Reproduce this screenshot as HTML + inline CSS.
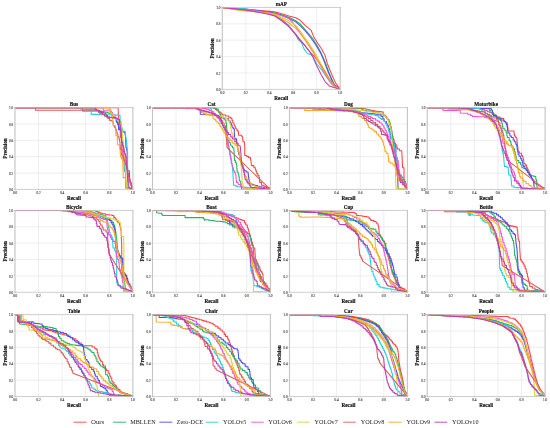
<!DOCTYPE html>
<html><head><meta charset="utf-8"><title>Precision-Recall curves</title>
<style>
html,body{margin:0;padding:0;background:#fff}
body{width:550px;height:428px;overflow:hidden}
svg{display:block}
text{font-family:"Liberation Serif",serif;fill:#222}
.t{font-size:3.4px;fill:#333;stroke:#333;stroke-width:.08px}
.b{font-size:5.2px;font-weight:bold;fill:#111;stroke:#111;stroke-width:.15px}
.p{font-size:5.2px}
.l{font-size:5.6px;fill:#222}
</style></head><body>
<svg width="550" height="428" viewBox="0 0 550 428">
<rect width="550" height="428" fill="#fff"/>
<g>
<path d="M245.88 7.45V89.4M222.3 73.01H340.2M269.46 7.45V89.4M222.3 56.62H340.2M293.04 7.45V89.4M222.3 40.23H340.2M316.62 7.45V89.4M222.3 23.84H340.2" stroke="#e2e2e2" stroke-width="0.6" fill="none"/>
<path d="M222.3 89.4v1M222.3 89.4h-1M245.88 89.4v1M222.3 73.01h-1M269.46 89.4v1M222.3 56.62h-1M293.04 89.4v1M222.3 40.23h-1M316.62 89.4v1M222.3 23.84h-1M340.2 89.4v1M222.3 7.45h-1" stroke="#999" stroke-width="0.4" fill="none"/>
<clipPath id="cmAP"><rect x="222.3" y="7.45" width="117.9" height="81.95"/></clipPath>
<g clip-path="url(#cmAP)">
<polyline points="222.3,7.45 234.09,8.68 245.88,9.5 257.67,10.32 269.46,11.38 274.77,11.88 281.72,13.68 288.8,15.97 295.75,17.78 299.88,20.07 305.07,25.4 310.96,30.07 313.32,35.89 316.74,41.79 321.45,48.83 324.76,54.65 327.23,63.18 331.36,73.5 335.48,82.84 340.2,89.4" stroke="#ff4545" stroke-width="1.05" fill="none" stroke-linejoin="round"/>
<polyline points="222.3,7.45 234.09,8.68 245.88,9.74 257.67,10.89 269.46,12.37 274.77,13.1 281.72,14.83 288.8,17.2 295.75,20.73 299.88,23.59 305.07,29.49 309.78,34.74 313.32,39.41 316.74,44.74 321.1,52.93 325.23,62.19 329.35,73.5 334.42,84.89 340.2,89.4" stroke="#21b55c" stroke-width="1.05" fill="none" stroke-linejoin="round"/>
<polyline points="222.3,7.45 234.09,8.27 245.88,9.09 257.67,10.56 269.46,12.37 274.77,13.43 281.72,15.4 288.8,18.35 295.75,21.87 299.88,25.4 305.07,30.64 309.78,36.54 313.32,41.21 316.74,46.46 320.27,52.36 323.69,60.14 328.41,72.52 333.48,83.83 340.2,89.4" stroke="#4c4cf5" stroke-width="1.05" fill="none" stroke-linejoin="round"/>
<polyline points="222.3,7.45 234.09,8.11 245.88,9.09 257.67,11.14 269.46,14.01 274.77,15.81 281.72,19.5 288.8,25.4 295.75,34.74 298.11,39.41 301.65,42.93 304,48.83 307.42,53.51 310.96,54.65 312.85,55.96 316.97,64.24 322.16,70.47 326.29,76.62 331.36,83.83 336.66,87.76 340.2,89.4" stroke="#1fd2dc" stroke-width="1.05" fill="none" stroke-linejoin="round"/>
<polyline points="222.3,7.45 234.09,8.68 245.88,9.91 257.67,11.14 269.46,12.78 274.77,13.68 281.72,15.4 288.8,18.35 292.33,21.87 295.75,26.54 299.88,32.44 304,38.26 308.6,45.31 313.32,52.36 318.98,62.19 323.1,70.47 328.29,78.66 333.48,85.88 340.2,89.4" stroke="#f850dc" stroke-width="1.05" fill="none" stroke-linejoin="round"/>
<polyline points="222.3,7.45 234.09,9.5 245.88,10.73 257.67,11.79 269.46,13.19 274.77,14.25 281.72,17.2 288.8,20.73 295.75,25.4 299.88,30.64 304,36.54 308.6,42.93 313.32,49.98 318.98,60.14 324.17,69.4 329.35,78.66 334.42,85.88 340.2,89.4" stroke="#dcd232" stroke-width="1.05" fill="none" stroke-linejoin="round"/>
<polyline points="222.3,7.45 234.09,9.09 245.88,10.56 257.67,11.96 269.46,14.01 274.77,15.4 281.72,20.07 288.8,25.97 295.75,34.17 299.88,39.41 304,44.16 308.6,50.56 313.91,55.8 318.98,62.77 324.17,70.55 329.35,79.16 334.42,86.12 340.2,89.4" stroke="#e05a5a" stroke-width="1.05" fill="none" stroke-linejoin="round"/>
<polyline points="222.3,7.45 234.09,9.5 245.88,10.89 257.67,11.96 269.46,13.6 274.77,14.83 281.72,18.35 288.8,23.02 295.75,28.35 299.88,33.02 304,38.26 308.6,44.74 313.32,51.7 318.98,63.18 324.17,71.45 329.35,79.73 334.42,86.53 340.2,89.4" stroke="#ffa826" stroke-width="1.05" fill="none" stroke-linejoin="round"/>
<polyline points="222.3,7.45 234.09,8.68 245.88,10.07 257.67,11.96 269.46,14.42 274.77,15.97 281.72,20.73 288.8,26.54 295.75,34.74 299.88,40.07 304,44.74 308.6,50.06 312.85,57.03 316.97,66.29 321.1,74.57 325.23,81.78 329.35,85.88 340.2,89.4" stroke="#c03cb8" stroke-width="1.05" fill="none" stroke-linejoin="round"/>
</g>
<path d="M222.3 7.45V89.4M340.2 7.45V89.4" fill="none" stroke="#c4c4c4" stroke-width="1.1" stroke-linecap="square"/>
<path d="M222.3 7.45H340.2M222.3 89.4H340.2" fill="none" stroke="#bebebe" stroke-width="0.75" stroke-linecap="square"/>
<text x="222.3" y="93.9" text-anchor="middle" class="t">0.0</text>
<text x="220.5" y="91" text-anchor="end" class="t">0.0</text>
<text x="245.88" y="93.9" text-anchor="middle" class="t">0.2</text>
<text x="220.5" y="74.61" text-anchor="end" class="t">0.2</text>
<text x="269.46" y="93.9" text-anchor="middle" class="t">0.4</text>
<text x="220.5" y="58.22" text-anchor="end" class="t">0.4</text>
<text x="293.04" y="93.9" text-anchor="middle" class="t">0.6</text>
<text x="220.5" y="41.83" text-anchor="end" class="t">0.6</text>
<text x="316.62" y="93.9" text-anchor="middle" class="t">0.8</text>
<text x="220.5" y="25.44" text-anchor="end" class="t">0.8</text>
<text x="340.2" y="93.9" text-anchor="middle" class="t">1.0</text>
<text x="220.5" y="9.05" text-anchor="end" class="t">1.0</text>
<text x="281.25" y="5.75" text-anchor="middle" class="b">mAP</text>
<text x="281.25" y="99.6" text-anchor="middle" class="b">Recall</text>
<text transform="translate(214 48.43) rotate(-90)" text-anchor="middle" class="b p">Precision</text>
</g>
<g>
<path d="M38.58 107.6V189.45M15 173.08H132.9M62.16 107.6V189.45M15 156.71H132.9M85.74 107.6V189.45M15 140.34H132.9M109.32 107.6V189.45M15 123.97H132.9" stroke="#e2e2e2" stroke-width="0.6" fill="none"/>
<path d="M15 189.45v1M15 189.45h-1M38.58 189.45v1M15 173.08h-1M62.16 189.45v1M15 156.71h-1M85.74 189.45v1M15 140.34h-1M109.32 189.45v1M15 123.97h-1M132.9 189.45v1M15 107.6h-1" stroke="#999" stroke-width="0.4" fill="none"/>
<clipPath id="cBus"><rect x="15" y="107.6" width="117.9" height="81.85"/></clipPath>
<g clip-path="url(#cBus)">
<polyline points="15,107.6 116.18,107.6 118.15,107.6 118.15,108.36 118.58,123.09 120.11,123.09 120.11,124.73 120.33,136.73 121.2,138.04 121.32,138.04 121.32,140.18 121.44,140.18 121.44,142.31 121.56,142.31 121.56,144.57 121.73,144.57 121.73,147.59 121.85,147.59 121.85,149.82 121.85,149.82 121.85,149.82 122.92,149.82 122.92,151.64 124.41,151.64 124.41,154.18 125.59,154.18 125.59,156.22 126,156.22 126,156.91 126.55,164.55 126.87,164.55 126.87,167.16 127.14,167.16 127.14,169.29 127.49,169.29 127.49,172.1 127.64,172.1 127.64,173.27 128.49,173.27 128.49,176.34 129.31,176.34 129.31,179.29 130.18,179.29 130.18,182.42 130.36,182.42 130.36,183.09 131.33,183.09 131.33,185.92 132.2,185.92 132.2,188.46 132.55,188.46 132.55,189.45" stroke="#ff4545" stroke-width="1.05" fill="none" stroke-linejoin="round"/>
<polyline points="15,107.6 88.91,107.6 91.27,107.6 91.27,108.51 92.94,108.51 92.94,109.16 96.1,109.16 96.1,110.37 96.55,110.37 96.55,110.55 99.4,110.55 99.4,111.08 101.7,111.08 101.7,111.51 103.48,111.51 103.48,111.85 105.08,111.85 105.08,112.15 105.27,112.15 105.27,112.18 107.04,112.18 107.04,112.71 108.77,112.71 108.77,113.23 110.67,113.23 110.67,113.8 110.73,113.8 110.73,113.82 112.22,113.82 112.22,115.31 113.63,115.31 113.63,116.72 115.04,116.72 115.04,118.13 115.09,118.13 115.09,118.18 116.57,118.18 116.57,121.14 117.36,121.14 117.36,122.73 117.82,122.73 117.82,123.64 118.39,123.64 118.39,125.55 118.86,125.55 118.86,127.1 119.45,127.1 119.45,129.09 120.94,129.09 120.94,132.07 121.09,132.07 121.09,132.36 121.64,140 122.29,140 122.29,143.03 122.99,143.03 122.99,146.31 123.27,146.31 123.27,147.64 123.82,152.55 124.36,171.09 125.45,171.64 125.67,188 128.18,188.55 129.9,188.55 129.9,188.9 132.34,188.9 132.34,189.41 132.55,189.41 132.55,189.45" stroke="#21b55c" stroke-width="1.05" fill="none" stroke-linejoin="round"/>
<polyline points="15,107.6 82.36,107.6 82.58,111.09 96.55,111.09 98.66,111.09 98.66,112.15 99.82,112.15 99.82,112.73 102.33,112.73 102.33,114.4 104.51,114.4 104.51,115.86 106.36,115.86 106.36,117.09 109.5,117.09 109.5,117.48 112.28,117.48 112.28,117.83 115.09,117.83 115.09,118.18 116.22,118.18 116.22,121.19 116.73,121.19 116.73,122.55 117.58,122.55 117.58,124.25 118.36,124.25 118.36,125.82 118.58,129.64 120.56,129.64 120.56,130.7 121.64,130.7 121.64,131.27 123.82,131.27 123.82,132.36 125.02,132.36 125.02,134.77 125.45,134.77 125.45,135.64 126,147.64 126.61,147.64 126.61,150.08 127.09,150.08 127.09,152 127.64,170.55 129.27,170.87 129.82,182 130.45,182 130.45,183.73 131.6,183.73 131.6,186.86 132.55,186.86 132.55,189.45" stroke="#4c4cf5" stroke-width="1.05" fill="none" stroke-linejoin="round"/>
<polyline points="15,107.6 80.18,107.6 80.4,108.91 91.09,109.45 91.31,114.36 96,114.36 99.82,114.58 114,114.91 120,115.13 120.22,124.73 120.96,124.73 120.96,126.67 121.73,126.67 121.73,128.66 122.46,128.66 122.46,130.59 122.73,130.59 122.73,131.27 125.11,131.27 125.11,132.7 125.45,132.7 125.45,132.91 125.67,136.73 125.94,136.73 125.94,138.76 126.19,138.76 126.19,140.74 126.52,140.74 126.52,143.24 126.78,143.24 126.78,145.26 127,145.26 127,146.94 127.09,146.94 127.09,147.64 127.64,152 127.64,180.36 128.05,180.36 128.05,182.55 128.53,182.55 128.53,185.11 129.03,185.11 129.03,187.81 129.27,187.81 129.27,189.09 132.55,189.45" stroke="#1fd2dc" stroke-width="1.05" fill="none" stroke-linejoin="round"/>
<polyline points="15,107.6 103.09,107.6 103.31,110.55 110.73,111.09 111.56,111.09 111.56,112.54 112.66,112.54 112.66,114.47 112.91,114.47 112.91,114.91 115.18,114.91 115.18,117.18 116.18,117.18 116.18,118.18 118.24,118.18 118.24,120.24 119.45,120.24 119.45,121.45 120.92,121.45 120.92,123.9 121.09,123.9 121.09,124.18 121.64,134.55 121.64,149.27 121.97,149.27 121.97,150.94 122.3,150.94 122.3,152.6 122.73,152.6 122.73,154.73 123.53,154.73 123.53,157.55 124.01,157.55 124.01,159.23 124.55,159.23 124.55,161.1 124.91,161.1 124.91,162.36 126.68,162.36 126.68,165.02 127.09,165.02 127.09,165.64 127.64,173.27 127.94,173.27 127.94,175.74 128.17,175.74 128.17,177.55 128.38,177.55 128.38,179.23 128.73,179.23 128.73,182 130.28,182 130.28,185.02 131.6,185.02 131.6,187.6 132.55,187.6 132.55,189.45" stroke="#f850dc" stroke-width="1.05" fill="none" stroke-linejoin="round"/>
<polyline points="15,107.6 106.36,107.6 106.58,108.91 109.64,109.45 110.7,109.45 110.7,112.65 110.73,112.65 110.73,112.73 111.94,112.73 111.94,113.94 113.45,113.94 113.45,115.45 114,115.45 114,116 115.21,116 115.21,117.82 116.18,117.82 116.18,119.27 117.77,119.27 117.77,120.86 119,120.86 119,122.09 119.45,122.09 119.45,122.55 120.98,122.55 120.98,124.84 121.64,124.84 121.64,125.82 122.18,131.27 122.73,140 123.02,140 123.02,142.07 123.43,142.07 123.43,144.9 123.82,144.9 123.82,147.64 124.22,147.64 124.22,150.87 124.51,150.87 124.51,153.18 124.76,153.18 124.76,155.16 124.91,155.16 124.91,156.36 125.45,165.09 126,180.36 126.28,180.36 126.28,182.33 126.52,182.33 126.52,183.98 126.85,183.98 126.85,186.31 127.09,186.31 127.09,188 129.66,188 129.66,188.68 131.45,188.68 131.45,189.16 132.55,189.16 132.55,189.45" stroke="#dcd232" stroke-width="1.05" fill="none" stroke-linejoin="round"/>
<polyline points="15,107.6 34.45,107.6 35.63,107.6 35.63,110.22 73.95,110.22 96.55,110 98.69,110 98.69,112.51 99.82,112.51 99.82,113.82 102.06,113.82 102.06,114.72 104.67,114.72 104.67,115.76 105.27,115.76 105.27,116 107.64,116 107.64,118.36 109.64,118.36 109.64,120.36 111.38,120.36 111.38,120.95 112.91,120.95 112.91,121.45 113.45,125.82 114.59,125.82 114.59,127.63 115.48,127.63 115.48,129.06 116.18,129.06 116.18,130.18 116.72,130.18 116.72,132.32 117.15,132.32 117.15,134.07 117.82,134.07 117.82,136.73 118.9,136.73 118.9,138.88 119.45,138.88 119.45,140 119.67,140 119.67,141.97 120.01,141.97 120.01,145.09 120.22,145.09 120.22,147.08 120.47,147.08 120.47,149.34 120.55,149.34 120.55,150.04 121.16,150.04 121.16,152.98 121.58,152.98 121.58,154.99 121.64,154.99 121.64,155.27 122.64,155.27 122.64,157.62 123.84,157.62 123.84,160.41 124.91,160.41 124.91,162.91 125.56,162.91 125.56,164.86 126.5,164.86 126.5,167.68 127.09,167.68 127.09,169.45 127.69,169.45 127.69,172.44 128.02,172.44 128.02,174.11 128.54,174.11 128.54,176.71 129.17,176.71 129.17,179.83 129.27,179.83 129.27,180.36 129.86,180.36 129.86,181.98 130.94,181.98 130.94,184.98 131.84,184.98 131.84,187.5 132.44,187.5 132.44,189.17 132.55,189.17 132.55,189.45" stroke="#e05a5a" stroke-width="1.05" fill="none" stroke-linejoin="round"/>
<polyline points="15,107.6 108.55,107.6 109.64,107.6 109.64,108.91 110,108.91 110,110.57 110.5,110.57 110.5,112.78 110.73,112.78 110.73,113.82 111.71,113.82 111.71,116.77 112.38,116.77 112.38,118.77 112.91,118.77 112.91,120.36 113.45,125.82 115.58,125.82 115.58,127.41 115.64,127.41 115.64,127.45 115.96,135.64 117.27,135.64 117.27,136.73 117.49,144.36 119.45,144.91 120,150.04 120.55,156.91 121.52,156.91 121.52,158.85 122.6,158.85 122.6,161.01 122.73,161.01 122.73,161.27 123.27,177.64 125.45,177.64 125.45,178.73 126,188 128.8,188 128.8,188.62 131.02,188.62 131.02,189.11 132.55,189.11 132.55,189.45" stroke="#ffa826" stroke-width="1.05" fill="none" stroke-linejoin="round"/>
<polyline points="15,107.6 94.36,107.6 95.33,107.6 95.33,108.91 96.43,108.91 96.43,110.39 96.55,110.39 96.55,110.55 99.16,110.55 99.16,111.53 101.66,111.53 101.66,112.46 103.64,112.46 103.64,113.21 105.27,113.21 105.27,113.82 106.16,113.82 106.16,115.15 107.45,115.15 107.45,117.09 112.91,117.64 115.71,117.64 115.71,118.69 117.27,118.69 117.27,119.27 119.45,119.27 119.45,120.36 120,125.82 120.32,125.82 120.32,128.39 120.63,128.39 120.63,130.88 121.05,130.88 121.05,134.18 121.09,134.18 121.09,134.55 121.64,142.18 122.49,142.18 122.49,145.18 123.26,145.18 123.26,147.88 123.78,147.88 123.78,149.67 123.82,149.67 123.82,149.82 124.24,149.82 124.24,151.49 124.72,151.49 124.72,153.42 125.14,153.42 125.14,155.09 125.63,155.09 125.63,157.07 126,157.07 126,158.55 126.55,164.55 126.73,164.55 126.73,167.1 126.93,167.1 126.93,169.97 127.06,169.97 127.06,171.81 127.29,171.81 127.29,174.94 127.45,174.94 127.45,177.24 127.63,177.24 127.63,179.69 127.77,179.69 127.77,181.73 128.01,181.73 128.01,185.02 128.17,185.02 128.17,187.31 128.18,187.31 128.18,187.45 129.67,187.45 129.67,188.14 131.77,188.14 131.77,189.1 132.55,189.1 132.55,189.45" stroke="#c03cb8" stroke-width="1.05" fill="none" stroke-linejoin="round"/>
</g>
<path d="M15 107.6V189.45M132.9 107.6V189.45" fill="none" stroke="#c4c4c4" stroke-width="1.1" stroke-linecap="square"/>
<path d="M15 107.6H132.9M15 189.45H132.9" fill="none" stroke="#bebebe" stroke-width="0.75" stroke-linecap="square"/>
<text x="15" y="193.95" text-anchor="middle" class="t">0.0</text>
<text x="13.2" y="191.05" text-anchor="end" class="t">0.0</text>
<text x="38.58" y="193.95" text-anchor="middle" class="t">0.2</text>
<text x="13.2" y="174.68" text-anchor="end" class="t">0.2</text>
<text x="62.16" y="193.95" text-anchor="middle" class="t">0.4</text>
<text x="13.2" y="158.31" text-anchor="end" class="t">0.4</text>
<text x="85.74" y="193.95" text-anchor="middle" class="t">0.6</text>
<text x="13.2" y="141.94" text-anchor="end" class="t">0.6</text>
<text x="109.32" y="193.95" text-anchor="middle" class="t">0.8</text>
<text x="13.2" y="125.57" text-anchor="end" class="t">0.8</text>
<text x="132.9" y="193.95" text-anchor="middle" class="t">1.0</text>
<text x="13.2" y="109.2" text-anchor="end" class="t">1.0</text>
<text x="73.95" y="105.9" text-anchor="middle" class="b">Bus</text>
<text x="73.95" y="199.65" text-anchor="middle" class="b">Recall</text>
<text transform="translate(6.7 148.52) rotate(-90)" text-anchor="middle" class="b p">Precision</text>
</g>
<g>
<path d="M176.08 107.6V189.45M152.5 173.08H270.4M199.66 107.6V189.45M152.5 156.71H270.4M223.24 107.6V189.45M152.5 140.34H270.4M246.82 107.6V189.45M152.5 123.97H270.4" stroke="#e2e2e2" stroke-width="0.6" fill="none"/>
<path d="M152.5 189.45v1M152.5 189.45h-1M176.08 189.45v1M152.5 173.08h-1M199.66 189.45v1M152.5 156.71h-1M223.24 189.45v1M152.5 140.34h-1M246.82 189.45v1M152.5 123.97h-1M270.4 189.45v1M152.5 107.6h-1" stroke="#999" stroke-width="0.4" fill="none"/>
<clipPath id="cCat"><rect x="152.5" y="107.6" width="117.9" height="81.85"/></clipPath>
<g clip-path="url(#cCat)">
<polyline points="152.5,107.6 212.45,107.6 213.78,107.6 213.78,108.5 215.39,108.5 215.39,109.58 216.82,109.58 216.82,110.55 218.37,110.55 218.37,111.71 220.14,111.71 220.14,113.04 221.8,113.04 221.8,114.28 222.64,114.28 222.64,114.91 225.53,114.91 225.53,115.99 228.45,115.99 228.45,117.09 230.04,117.09 230.04,117.88 231.36,117.88 231.36,118.55 232.03,118.55 232.03,120.54 232.82,120.54 232.82,122.91 234.01,122.91 234.01,125.29 234.9,125.29 234.9,127.06 235.73,127.06 235.73,128.73 236.84,128.73 236.84,130.21 237.91,130.21 237.91,131.64 238.53,131.64 238.53,134.72 238.64,134.72 238.64,135.27 241.73,135.27 241.73,136.51 242.27,136.51 242.27,136.73 242.66,136.73 242.66,139.45 242.98,139.45 242.98,141.71 243,141.71 243,141.82 244.45,141.82 244.45,143.27 244.75,146 244.75,155.45 246.86,155.45 246.86,156.59 248.66,156.59 248.66,157.55 248.82,157.55 248.82,157.64 250.56,157.64 250.56,159.96 251,159.96 251,160.55 251.44,165.64 253.79,165.64 253.79,167.24 254.64,167.24 254.64,167.82 255.33,167.82 255.33,169.66 256.13,169.66 256.13,171.8 256.82,171.8 256.82,173.64 257.88,173.64 257.88,175.41 259,175.41 259,177.27 259.47,177.27 259.47,180.56 259.73,180.56 259.73,182.36 261.54,182.36 261.54,184.78 261.91,184.78 261.91,185.27 263.9,185.27 263.9,186.26 266.38,186.26 266.38,187.49 269.33,187.49 269.33,188.95 270.35,188.95 270.35,189.45" stroke="#ff4545" stroke-width="1.05" fill="none" stroke-linejoin="round"/>
<polyline points="152.5,107.6 213.91,107.6 215.43,107.6 215.43,108.38 216.82,108.38 216.82,109.09 218.33,109.09 218.33,111.61 219,111.61 219,112.73 219.86,112.73 219.86,114.45 220.85,114.45 220.85,116.42 221.18,116.42 221.18,117.09 223.34,117.09 223.34,118.82 224.82,118.82 224.82,120 225.87,120 225.87,122.63 226.27,122.63 226.27,123.64 226.49,123.64 226.49,126.42 226.66,126.42 226.66,128.63 226.84,128.63 226.84,131.01 227,131.01 227,133.09 227.17,133.09 227.17,134.75 227.43,134.75 227.43,137.37 227.73,137.37 227.73,140.36 229.15,140.36 229.15,142.5 230.29,142.5 230.29,144.21 230.64,144.21 230.64,144.73 231.36,146 232.44,146 232.44,147.8 233.84,147.8 233.84,150.13 233.98,150.13 233.98,150.36 234.56,160.55 235.44,160.55 235.44,162.58 236.28,162.58 236.28,164.51 236.45,164.51 236.45,164.91 236.79,164.91 236.79,168.26 237.04,168.26 237.04,170.77 237.18,170.77 237.18,172.18 238.14,172.18 238.14,174.09 238.64,174.09 238.64,175.09 238.86,175.09 238.86,176.85 239.27,176.85 239.27,180.12 239.36,180.12 239.36,180.91 240.7,180.91 240.7,183.59 240.82,183.59 240.82,183.82 241.09,183.82 241.09,185.93 241.31,185.93 241.31,187.64 241.55,187.64 241.55,189.45 270.35,189.45" stroke="#21b55c" stroke-width="1.05" fill="none" stroke-linejoin="round"/>
<polyline points="152.5,107.6 200.09,107.6 200.38,114.18 208.09,114.47 213.91,114.91 216.93,114.91 216.93,116.12 219.15,116.12 219.15,117.01 221.18,117.01 221.18,117.82 224.45,117.82 224.45,118.29 226.27,118.29 226.27,118.55 228.28,118.55 228.28,120.56 228.45,120.56 228.45,120.73 230,120.73 230,122.28 230.64,122.28 230.64,122.91 231.34,122.91 231.34,125.03 232.09,125.03 232.09,127.27 233.13,127.27 233.13,128.66 234.27,128.66 234.27,130.18 234.56,138.18 236.18,138.18 236.18,139.42 236.45,139.42 236.45,139.64 236.77,139.64 236.77,142.41 237.11,142.41 237.11,145.38 237.18,145.38 237.18,146 237.55,146 237.55,148.18 238.09,148.18 238.09,151.43 238.49,151.43 238.49,153.86 238.64,153.86 238.64,154.73 239.53,154.73 239.53,157.85 240.32,157.85 240.32,160.62 240.88,160.62 240.88,162.56 241.51,162.56 241.51,164.79 241.55,164.79 241.55,164.91 242.95,164.91 242.95,167.71 243.74,167.71 243.74,169.3 244.45,169.3 244.45,170.73 246.11,170.73 246.11,172.05 248.09,172.05 248.09,173.64 248.32,173.64 248.32,175.5 248.56,175.5 248.56,177.37 248.82,177.37 248.82,179.45 249.17,179.45 249.17,181.54 249.55,181.54 249.55,183.82 251.31,183.82 251.31,184.36 253.17,184.36 253.17,184.93 255.1,184.93 255.1,185.53 257.61,185.53 257.61,186.3 259,186.3 259,186.73 261.67,186.73 261.67,187.37 264.37,187.37 264.37,188.02 266.67,188.02 266.67,188.57 269.29,188.57 269.29,189.2 270.35,189.2 270.35,189.45" stroke="#4c4cf5" stroke-width="1.05" fill="none" stroke-linejoin="round"/>
<polyline points="152.5,107.6 209.55,107.6 210.4,107.6 210.4,109.04 211.34,109.04 211.34,110.61 211.73,110.61 211.73,111.27 212.66,111.27 212.66,112.67 213.18,112.67 213.18,113.45 215.3,113.45 215.3,115.58 216.82,115.58 216.82,117.09 218.19,117.09 218.19,118.73 219.41,118.73 219.41,120.2 220.45,120.2 220.45,121.45 221.21,121.45 221.21,122.97 222.1,122.97 222.1,124.75 223.12,124.75 223.12,126.79 223.36,126.79 223.36,127.27 224.49,127.27 224.49,130.29 225.39,130.29 225.39,132.67 225.55,132.67 225.55,133.09 225.86,133.09 225.86,135.05 226.29,135.05 226.29,137.76 226.7,137.76 226.7,140.3 226.71,140.3 226.71,140.36 227.25,140.36 227.25,143.35 227.73,143.35 227.73,146 228.58,146 228.58,148.57 229.18,148.57 229.18,150.36 229.82,150.36 229.82,153.35 230.36,153.35 230.36,155.88 230.94,155.88 230.94,158.57 231.36,158.57 231.36,160.55 231.68,160.55 231.68,163.11 231.93,163.11 231.93,165.08 232.35,165.08 232.35,168.42 232.57,168.42 232.57,170.2 232.82,170.2 232.82,172.18 232.99,172.18 232.99,175.34 233.12,175.34 233.12,177.66 233.29,177.66 233.29,180.61 233.42,180.61 233.42,182.96 233.52,182.96 233.52,184.73 233.55,184.73 233.55,185.27 235.66,185.27 235.66,186.12 237.18,186.12 237.18,186.73 240.13,186.73 240.13,186.97 243,186.97 243,187.21 244.98,187.21 244.98,187.37 246.65,187.37 246.65,187.51 248.6,187.51 248.6,187.67 250.56,187.67 250.56,187.83 253.06,187.83 253.06,188.03 255.18,188.03 255.18,188.2 258.3,188.2 258.3,188.46 260.08,188.46 260.08,188.61 262.75,188.61 262.75,188.83 264.45,188.83 264.45,188.97 266.13,188.97 266.13,189.1 268.9,189.1 268.9,189.33 270.35,189.33 270.35,189.45" stroke="#1fd2dc" stroke-width="1.05" fill="none" stroke-linejoin="round"/>
<polyline points="152.5,107.6 184.33,107.6 185.51,107.6 185.51,108.83 203.73,108.36 206.33,108.36 206.33,109.34 209.08,109.34 209.08,110.37 209.55,110.37 209.55,110.55 211.34,110.55 211.34,111.74 213.91,111.74 213.91,113.45 215.18,113.45 215.18,114.94 216.86,114.94 216.86,116.9 218.27,116.9 218.27,118.55 219.86,118.55 219.86,120.92 221.18,120.92 221.18,122.91 222.39,122.91 222.39,125.33 223.5,125.33 223.5,127.55 224.09,127.55 224.09,128.73 225.2,128.73 225.2,130.95 226.14,130.95 226.14,132.83 226.27,132.83 226.27,133.09 226.73,133.09 226.73,135.37 227.09,135.37 227.09,137.16 227.55,137.16 227.55,139.46 227.73,139.46 227.73,140.36 227.99,140.36 227.99,142.42 228.38,142.42 228.38,145.39 228.45,145.39 228.45,146 229,146 229,149.27 229.48,149.27 229.48,152.18 229.91,152.18 229.91,154.73 230.27,154.73 230.27,156.9 230.73,156.9 230.73,159.65 231.18,159.65 231.18,162.35 231.36,162.35 231.36,163.45 232.15,163.45 232.15,166.06 232.65,166.06 232.65,167.74 233.4,167.74 233.4,170.25 233.55,170.25 233.55,170.73 234.37,170.73 234.37,172.38 235.26,172.38 235.26,174.15 235.73,174.15 235.73,175.09 236.06,175.09 236.06,178.44 236.27,178.44 236.27,180.5 236.45,180.5 236.45,182.36 238.12,182.36 238.12,184.03 238.64,184.03 238.64,184.55 240.66,184.55 240.66,186.23 242.94,186.23 242.94,188.13 243,188.13 243,188.18 245.32,188.18 245.32,188.29 247.16,188.29 247.16,188.37 249.93,188.37 249.93,188.5 253.23,188.5 253.23,188.66 255.81,188.66 255.81,188.78 258.44,188.78 258.44,188.9 261.34,188.9 261.34,189.03 262.96,189.03 262.96,189.11 264.66,189.11 264.66,189.19 266.86,189.19 266.86,189.29 269.04,189.29 269.04,189.39 270.35,189.39 270.35,189.45" stroke="#f850dc" stroke-width="1.05" fill="none" stroke-linejoin="round"/>
<polyline points="152.5,107.6 200.82,107.6 201.15,107.6 201.15,109.6 201.55,109.6 201.55,112 204.12,112 204.12,113.1 206.23,113.1 206.23,114.01 206.64,114.01 206.64,114.18 209.73,114.18 209.73,114.7 211.98,114.7 211.98,115.07 214.54,115.07 214.54,115.5 215.36,115.5 215.36,115.64 216.93,115.64 216.93,116.08 219.71,116.08 219.71,116.88 222.41,116.88 222.41,117.65 225.16,117.65 225.16,118.44 225.55,118.44 225.55,118.55 227.23,118.55 227.23,120.23 229.18,120.23 229.18,122.18 229.78,122.18 229.78,123.68 230.43,123.68 230.43,125.3 230.64,125.3 230.64,125.82 230.81,125.82 230.81,127.57 231.06,127.57 231.06,130.05 231.36,130.05 231.36,133.09 232.74,133.09 232.74,135.84 233.55,135.84 233.55,137.45 234.1,137.45 234.1,138.99 235.08,138.99 235.08,141.66 236.04,141.66 236.04,144.33 236.45,144.33 236.45,145.45 237.18,146 237.64,146 237.64,147.85 238.15,147.85 238.15,149.88 238.64,149.88 238.64,151.82 239.13,151.82 239.13,154.76 239.51,154.76 239.51,157.05 240.04,157.05 240.04,160.25 240.09,160.25 240.09,160.55 240.59,160.55 240.59,163.64 240.92,163.64 240.92,165.7 241.25,165.7 241.25,167.82 241.84,175.09 242.27,183.82 243.05,183.82 243.05,186.15 243.73,186.15 243.73,188.18 246.31,188.18 246.31,188.3 248.53,188.3 248.53,188.41 251.36,188.41 251.36,188.55 254.38,188.55 254.38,188.69 257.49,188.69 257.49,188.84 259.48,188.84 259.48,188.93 262.53,188.93 262.53,189.08 265.1,189.08 265.1,189.2 267.14,189.2 267.14,189.3 269.42,189.3 269.42,189.41 270.35,189.41 270.35,189.45" stroke="#dcd232" stroke-width="1.05" fill="none" stroke-linejoin="round"/>
<polyline points="152.5,107.6 195,107.6 195.73,107.6 195.73,109.09 198.6,109.09 198.6,109.73 201.31,109.73 201.31,110.33 202.27,110.33 202.27,110.55 204.26,110.55 204.26,111.14 206.73,111.14 206.73,111.88 209.39,111.88 209.39,112.68 209.55,112.68 209.55,112.73 212.55,112.73 212.55,114.23 214.51,114.23 214.51,115.21 215.36,115.21 215.36,115.64 217.19,115.64 217.19,116.85 219.73,116.85 219.73,118.55 221.24,118.55 221.24,120.82 222.64,120.82 222.64,122.91 224.15,122.91 224.15,125.93 225.55,125.93 225.55,128.73 225.76,128.73 225.76,131.35 225.93,131.35 225.93,133.33 226.21,133.33 226.21,136.66 226.27,136.66 226.27,137.45 226.42,137.45 226.42,139.48 226.6,139.48 226.6,141.99 226.74,141.99 226.74,143.94 226.93,143.94 226.93,146.62 227,146.62 227,147.64 270.35,189.45" stroke="#e05a5a" stroke-width="1.05" fill="none" stroke-linejoin="round"/>
<polyline points="152.5,107.6 200.82,107.6 201.27,107.6 201.27,110.8 201.55,110.8 201.55,112.73 203.59,112.73 203.59,113.75 205.91,113.75 205.91,114.91 208.61,114.91 208.61,115.3 210.61,115.3 210.61,115.58 211,115.58 211,115.64 213.11,115.64 213.11,118.27 213.91,118.27 213.91,119.27 215.64,119.27 215.64,121 216.94,121 216.94,122.31 218.27,122.31 218.27,123.64 219.96,123.64 219.96,126.17 221.02,126.17 221.02,127.75 221.18,127.75 221.18,128 222.45,128 222.45,130.22 223.97,130.22 223.97,132.88 224.09,132.88 224.09,133.09 225.25,133.09 225.25,135.03 226.27,135.03 226.27,136.73 227.85,136.73 227.85,138.31 229.91,138.31 229.91,140.36 232.1,140.36 232.1,142.55 232.82,142.55 232.82,143.27 234.86,143.27 234.86,144.81 235.73,144.81 235.73,145.45 236.45,146 237.3,146 237.3,148.25 237.96,148.25 237.96,150.02 238.64,150.02 238.64,151.82 239.45,151.82 239.45,155.06 240.04,155.06 240.04,157.45 240.82,157.45 240.82,160.55 241.62,160.55 241.62,163.74 242.18,163.74 242.18,165.98 242.72,165.98 242.72,168.17 243,168.17 243,169.27 243.7,169.27 243.7,171.62 244.45,171.62 244.45,174.12 245.18,174.12 245.18,176.55 246.59,176.55 246.59,179.36 247.52,179.36 247.52,181.23 248.09,181.23 248.09,182.36 250.46,182.36 250.46,184.26 251.73,184.26 251.73,185.27 254.66,185.27 254.66,186.15 256.33,186.15 256.33,186.65 258.88,186.65 258.88,187.42 259,187.42 259,187.45 260.78,187.45 260.78,187.77 263.03,187.77 263.03,188.16 265.65,188.16 265.65,188.62 267.4,188.62 267.4,188.93 269.5,188.93 269.5,189.3 270.35,189.3 270.35,189.45" stroke="#ffa826" stroke-width="1.05" fill="none" stroke-linejoin="round"/>
<polyline points="152.5,107.6 196.45,107.6 197.91,107.6 197.91,109.82 199.79,109.82 199.79,110.29 202.28,110.29 202.28,110.91 203.73,110.91 203.73,111.27 205.63,111.27 205.63,111.75 208.3,111.75 208.3,112.42 209.55,112.42 209.55,112.73 211.64,112.73 211.64,113.56 214.39,113.56 214.39,114.67 216.2,114.67 216.2,115.39 216.82,115.39 216.82,115.64 218.72,115.64 218.72,117.92 220.45,117.92 220.45,120 221.63,120 221.63,123.14 222.55,123.14 222.55,125.59 222.64,125.59 222.64,125.82 223.71,125.82 223.71,127.43 224.87,127.43 224.87,129.17 225.55,129.17 225.55,130.18 227.1,130.18 227.1,132.52 228.45,132.52 228.45,134.55 230.78,134.55 230.78,136.87 232.36,136.87 232.36,138.45 232.82,138.45 232.82,138.91 234.81,138.91 234.81,141.3 236.4,141.3 236.4,143.21 236.45,143.21 236.45,143.27 238.12,143.27 238.12,144.93 238.64,144.93 238.64,145.45 240.09,146 240.32,146 240.32,148.27 240.51,148.27 240.51,150.19 240.72,150.19 240.72,152.31 240.82,152.31 240.82,153.27 241,153.27 241,155.81 241.13,155.81 241.13,157.61 241.28,157.61 241.28,159.79 241.46,159.79 241.46,162.31 241.55,162.31 241.55,163.45 242.14,163.45 242.14,165.85 242.65,165.85 242.65,167.85 243.22,167.85 243.22,170.15 243.69,170.15 243.69,172.03 243.73,172.03 243.73,172.18 244.24,172.18 244.24,174.74 244.84,174.74 244.84,177.76 245.18,177.76 245.18,179.45 246.17,179.45 246.17,180.94 247.14,180.94 247.14,182.39 248.04,182.39 248.04,183.75 248.09,183.75 248.09,183.82 249.28,183.82 249.28,185.3 250.31,185.3 250.31,186.59 251,186.59 251,187.45 252.76,187.45 252.76,187.64 254.52,187.64 254.52,187.82 256.6,187.82 256.6,188.03 259.68,188.03 259.68,188.35 262.09,188.35 262.09,188.6 264.56,188.6 264.56,188.85 266.21,188.85 266.21,189.02 268.89,189.02 268.89,189.3 270.35,189.3 270.35,189.45" stroke="#c03cb8" stroke-width="1.05" fill="none" stroke-linejoin="round"/>
</g>
<path d="M152.5 107.6V189.45M270.4 107.6V189.45" fill="none" stroke="#c4c4c4" stroke-width="1.1" stroke-linecap="square"/>
<path d="M152.5 107.6H270.4M152.5 189.45H270.4" fill="none" stroke="#bebebe" stroke-width="0.75" stroke-linecap="square"/>
<text x="152.5" y="193.95" text-anchor="middle" class="t">0.0</text>
<text x="150.7" y="191.05" text-anchor="end" class="t">0.0</text>
<text x="176.08" y="193.95" text-anchor="middle" class="t">0.2</text>
<text x="150.7" y="174.68" text-anchor="end" class="t">0.2</text>
<text x="199.66" y="193.95" text-anchor="middle" class="t">0.4</text>
<text x="150.7" y="158.31" text-anchor="end" class="t">0.4</text>
<text x="223.24" y="193.95" text-anchor="middle" class="t">0.6</text>
<text x="150.7" y="141.94" text-anchor="end" class="t">0.6</text>
<text x="246.82" y="193.95" text-anchor="middle" class="t">0.8</text>
<text x="150.7" y="125.57" text-anchor="end" class="t">0.8</text>
<text x="270.4" y="193.95" text-anchor="middle" class="t">1.0</text>
<text x="150.7" y="109.2" text-anchor="end" class="t">1.0</text>
<text x="211.45" y="105.9" text-anchor="middle" class="b">Cat</text>
<text x="211.45" y="199.65" text-anchor="middle" class="b">Recall</text>
<text transform="translate(144.2 148.52) rotate(-90)" text-anchor="middle" class="b p">Precision</text>
</g>
<g>
<path d="M313.08 107.6V189.45M289.5 173.08H407.4M336.66 107.6V189.45M289.5 156.71H407.4M360.24 107.6V189.45M289.5 140.34H407.4M383.82 107.6V189.45M289.5 123.97H407.4" stroke="#e2e2e2" stroke-width="0.6" fill="none"/>
<path d="M289.5 189.45v1M289.5 189.45h-1M313.08 189.45v1M289.5 173.08h-1M336.66 189.45v1M289.5 156.71h-1M360.24 189.45v1M289.5 140.34h-1M383.82 189.45v1M289.5 123.97h-1M407.4 189.45v1M289.5 107.6h-1" stroke="#999" stroke-width="0.4" fill="none"/>
<clipPath id="cDog"><rect x="289.5" y="107.6" width="117.9" height="81.85"/></clipPath>
<g clip-path="url(#cDog)">
<polyline points="289.5,107.6 332,107.78 361.09,108.36 363,108.36 363,108.75 365.79,108.75 365.79,109.3 368.21,109.3 368.21,109.79 368.36,109.79 368.36,109.82 370.18,109.82 370.18,110.18 371.86,110.18 371.86,110.52 374.14,110.52 374.14,110.97 375.64,110.97 375.64,111.27 378.51,111.27 378.51,111.63 381.45,111.63 381.45,112 383.23,112 383.23,114.36 383.64,114.36 383.64,114.91 385.18,114.91 385.18,116.45 386.55,116.45 386.55,117.82 387.43,117.82 387.43,119.36 388.86,119.36 388.86,121.87 389.45,121.87 389.45,122.91 390.46,122.91 390.46,125.93 390.91,125.93 390.91,127.27 391.37,127.27 391.37,130.06 391.89,130.06 391.89,133.13 392.15,133.13 392.15,134.72 392.36,134.72 392.36,136 393,136 393,138.13 393.48,138.13 393.48,139.73 394.22,139.73 394.22,142.18 394.55,142.18 394.55,143.27 395.48,143.27 395.48,145.09 396.8,145.09 396.8,147.65 397.45,147.65 397.45,148.91 399.63,148.91 399.63,150.72 401.79,150.72 401.79,152.52 401.82,152.52 401.82,152.55 401.92,152.55 401.92,154.62 402.04,154.62 402.04,157.25 402.16,157.25 402.16,159.74 402.29,159.74 402.29,162.53 402.39,162.53 402.39,164.56 402.55,164.56 402.55,167.82 404,167.82 404,169.27 404,179.45 404.76,179.45 404.76,181.4 405.67,181.4 405.67,183.74 406.43,183.74 406.43,185.7 407.17,185.7 407.17,187.58 407.4,187.58 407.4,188.18 407.4,189.45" stroke="#ff4545" stroke-width="1.05" fill="none" stroke-linejoin="round"/>
<polyline points="289.5,107.6 359.64,108.07 361.98,108.07 361.98,109.67 363.27,109.67 363.27,110.55 366.62,110.55 366.62,110.92 369.64,110.92 369.64,111.25 369.82,111.25 369.82,111.27 372.4,111.27 372.4,111.6 374.95,111.6 374.95,111.91 375.64,111.91 375.64,112 378.03,112 378.03,113.2 380,113.2 380,114.18 383.21,114.18 383.21,115.25 384.36,115.25 384.36,115.64 385.79,115.64 385.79,117.35 387.21,117.35 387.21,119.05 388,119.05 388,120 388.87,120 388.87,122.31 389.6,122.31 389.6,124.28 390.18,124.28 390.18,125.82 390.75,125.82 390.75,128.66 391.22,128.66 391.22,130.99 391.6,130.99 391.6,132.89 391.64,132.89 391.64,133.09 392.18,133.09 392.18,136.38 392.51,136.38 392.51,138.3 392.99,138.3 392.99,141.19 393.09,141.19 393.09,141.82 393.44,141.82 393.44,143.83 393.82,143.83 393.82,146 394.17,146 394.17,148.78 394.44,148.78 394.44,150.94 394.55,150.94 394.55,151.82 395.27,151.82 395.27,154.72 395.82,154.72 395.82,156.92 396.63,156.92 396.63,160.16 396.73,160.16 396.73,160.55 397.18,160.55 397.18,163.24 397.69,163.24 397.69,166.33 398.02,166.33 398.02,168.28 398.18,168.28 398.18,169.27 398.89,169.27 398.89,172.11 399.45,172.11 399.45,174.34 399.64,174.34 399.64,175.09 401.31,175.09 401.31,177.1 402.97,177.1 402.97,179.09 403.27,179.09 403.27,179.45 403.77,179.45 403.77,181.46 404.36,181.46 404.36,183.81 404.73,183.81 404.73,185.27 405.71,185.27 405.71,186.81 407.08,186.81 407.08,188.95 407.4,188.95 407.4,189.45" stroke="#21b55c" stroke-width="1.05" fill="none" stroke-linejoin="round"/>
<polyline points="289.5,107.6 318.98,107.6 320.05,107.6 320.05,109.46 320.15,109.46 320.15,109.65 332,109.09 335.34,109.09 335.34,109.26 337.9,109.26 337.9,109.39 340.37,109.39 340.37,109.51 342.26,109.51 342.26,109.6 344.37,109.6 344.37,109.71 346.41,109.71 346.41,109.81 346.55,109.81 346.55,109.82 349.25,109.82 349.25,110.27 351.91,110.27 351.91,110.71 353.64,110.71 353.64,111 355.27,111 355.27,111.27 358.24,111.27 358.24,112.01 360.66,112.01 360.66,112.62 361.09,112.62 361.09,112.73 364.32,112.73 364.32,113.05 367.4,113.05 367.4,113.36 369.41,113.36 369.41,113.56 372.16,113.56 372.16,113.83 374.9,113.83 374.9,114.11 375.64,114.11 375.64,114.18 377.93,114.18 377.93,115.04 380.97,115.04 380.97,116.18 381.45,116.18 381.45,116.36 382.84,116.36 382.84,118.78 384.12,118.78 384.12,121.03 384.36,121.03 384.36,121.45 386.45,121.45 386.45,123.96 387.69,123.96 387.69,125.45 388,125.45 388,125.82 388.64,125.82 388.64,128.38 389.27,128.38 389.27,130.88 389.45,130.88 389.45,131.64 390.07,131.64 390.07,134.73 390.71,134.73 390.71,137.9 390.91,137.9 390.91,138.91 392.57,138.91 392.57,141.68 393.09,141.68 393.09,142.55 394.14,142.55 394.14,144.3 395.15,144.3 395.15,145.98 395.27,145.98 395.27,146.18 395.6,146.18 395.6,148.09 395.95,148.09 395.95,150.08 396,150.08 396,150.36 395.88,150.36 395.88,152.06 395.69,152.06 395.69,154.65 395.48,154.65 395.48,157.65 395.27,157.65 395.27,160.55 395.6,160.55 395.6,163.13 395.98,163.13 395.98,166.21 396.35,166.21 396.35,169.19 396.68,169.19 396.68,171.81 396.73,171.81 396.73,172.18 397.05,172.18 397.05,174.51 397.3,174.51 397.3,176.29 397.53,176.29 397.53,177.94 397.75,177.94 397.75,179.45 398.18,188.91 407.4,189.45" stroke="#4c4cf5" stroke-width="1.05" fill="none" stroke-linejoin="round"/>
<polyline points="289.5,107.6 311.9,107.6 312.91,107.6 312.91,109.36 313.08,109.36 313.08,109.65 332,109.09 334.79,109.09 334.79,109.28 337.08,109.28 337.08,109.43 339.93,109.43 339.93,109.62 343.06,109.62 343.06,109.83 345.33,109.83 345.33,109.98 347.92,109.98 347.92,110.15 350.32,110.15 350.32,110.31 351.95,110.31 351.95,110.42 353.82,110.42 353.82,110.55 356.51,110.55 356.51,111.35 359.25,111.35 359.25,112.18 361.09,112.18 361.09,112.73 363.43,112.73 363.43,113.19 366.66,113.19 366.66,113.84 368.24,113.84 368.24,114.16 368.36,114.16 368.36,114.18 371.13,114.18 371.13,114.74 372.86,114.74 372.86,115.08 375.3,115.08 375.3,115.57 375.64,115.57 375.64,115.64 378.2,115.64 378.2,117.34 380,117.34 380,118.55 381.36,118.55 381.36,119.45 383.73,119.45 383.73,121.03 384.36,121.03 384.36,121.45 385.32,121.45 385.32,123.37 386.17,123.37 386.17,125.07 387.11,125.07 387.11,126.95 387.27,126.95 387.27,127.27 388.22,127.27 388.22,130.1 388.95,130.1 388.95,132.3 389.98,132.3 389.98,135.38 390.18,135.38 390.18,136 391.58,136 391.58,138.8 392.52,138.8 392.52,140.67 393.09,140.67 393.09,141.82 393.9,141.82 393.9,144.14 394.55,144.14 394.55,146 394.97,146 394.97,148.55 395.34,148.55 395.34,150.74 395.8,150.74 395.8,153.54 396,153.54 396,154.73 396.51,154.73 396.51,157.79 396.84,157.79 396.84,159.76 397.34,159.76 397.34,162.77 397.45,162.77 397.45,163.45 397.74,163.45 397.74,165.47 398.07,165.47 398.07,167.73 398.32,167.73 398.32,169.49 398.73,169.49 398.73,172.38 398.91,172.38 398.91,173.64 399.64,173.64 399.64,175.09 400.36,175.09 400.36,176.53 401.69,176.53 401.69,179.2 401.82,179.2 401.82,179.45 402.72,179.45 402.72,181.07 403.69,181.07 403.69,182.8 404.92,182.8 404.92,185 405.87,185 405.87,186.72 407.02,186.72 407.02,188.77 407.4,188.77 407.4,189.45" stroke="#1fd2dc" stroke-width="1.05" fill="none" stroke-linejoin="round"/>
<polyline points="289.5,107.6 328.41,107.6 330.39,107.6 330.39,108.42 332,108.42 332,109.09 334.76,109.09 334.76,109.32 336.94,109.32 336.94,109.5 339.01,109.5 339.01,109.68 341.58,109.68 341.58,109.89 344.34,109.89 344.34,110.12 346.4,110.12 346.4,110.29 349.45,110.29 349.45,110.55 351.58,110.55 351.58,111.08 353.21,111.08 353.21,111.48 355.34,111.48 355.34,112.02 358.55,112.02 358.55,112.82 361.09,112.82 361.09,113.45 364.11,113.45 364.11,114.66 367.25,114.66 367.25,115.92 368.36,115.92 368.36,116.36 370.72,116.36 370.72,117.54 372.49,117.54 372.49,118.43 375.48,118.43 375.48,119.92 375.64,119.92 375.64,120 377.33,120 377.33,121.13 379.42,121.13 379.42,122.52 380,122.52 380,122.91 381.9,122.91 381.9,124.81 382.91,124.81 382.91,125.82 383.96,125.82 383.96,127.93 385.09,127.93 385.09,130.18 386.35,130.18 386.35,132.7 387.27,132.7 387.27,134.55 387.97,134.55 387.97,136.41 389.03,136.41 389.03,139.22 389.45,139.22 389.45,140.36 390.3,140.36 390.3,142.33 391.12,142.33 391.12,144.24 391.64,144.24 391.64,145.45 392.36,146 393.18,146 393.18,149.27 393.82,149.27 393.82,151.82 394.52,151.82 394.52,153.69 395.67,153.69 395.67,156.76 396,156.76 396,157.64 397.28,157.64 397.28,160.2 398.18,160.2 398.18,162 398.33,162 398.33,164.14 398.45,164.14 398.45,165.81 398.57,165.81 398.57,167.49 398.71,167.49 398.71,169.45 398.91,169.45 398.91,172.18 399.79,172.18 399.79,175.13 400.42,175.13 400.42,177.21 400.98,177.21 400.98,179.1 401.09,179.1 401.09,179.45 402.23,179.45 402.23,181.74 403.49,181.74 403.49,184.25 404,184.25 404,185.27 405.15,185.27 405.15,186.68 407.13,186.68 407.13,189.11 407.4,189.11 407.4,189.45" stroke="#f850dc" stroke-width="1.05" fill="none" stroke-linejoin="round"/>
<polyline points="289.5,107.6 324.87,107.6 326.05,107.6 326.05,110.06 328.95,110.06 328.95,109.92 331.24,109.92 331.24,109.81 333.85,109.81 333.85,109.69 336.58,109.69 336.58,109.56 338.6,109.56 338.6,109.47 341.93,109.47 341.93,109.31 345.3,109.31 345.3,109.15 346.55,109.15 346.55,109.09 348.98,109.09 348.98,109.33 350.82,109.33 350.82,109.52 353.53,109.52 353.53,109.79 356.56,109.79 356.56,110.09 358.45,110.09 358.45,110.28 360.18,110.28 360.18,110.45 361.09,110.45 361.09,110.55 364.12,110.55 364.12,111 365.82,111 365.82,111.26 368.05,111.26 368.05,111.59 370.16,111.59 370.16,111.91 372.37,111.91 372.37,112.24 375.6,112.24 375.6,112.72 375.64,112.72 375.64,112.73 378.6,112.73 378.6,113.39 381.09,113.39 381.09,113.94 382.18,113.94 382.18,114.18 384.06,114.18 384.06,115.69 385.53,115.69 385.53,116.86 385.82,116.86 385.82,117.09 387.31,117.09 387.31,120.08 388.41,120.08 388.41,122.28 388.73,122.28 388.73,122.91 389.88,122.91 389.88,125.99 390.69,125.99 390.69,128.15 390.91,128.15 390.91,128.73 391.14,128.73 391.14,131.46 391.34,131.46 391.34,133.9 391.56,133.9 391.56,136.51 391.64,136.51 391.64,137.45 391.9,137.45 391.9,140.59 392.08,140.59 392.08,142.67 392.24,142.67 392.24,144.49 392.36,144.49 392.36,146 392.6,146 392.6,148.32 392.9,148.32 392.9,151.36 393.07,151.36 393.07,153.1 393.09,153.1 393.09,153.27 393.64,153.27 393.64,156 393.99,156 393.99,157.77 394.44,157.77 394.44,160.01 394.55,160.01 394.55,160.55 394.72,160.55 394.72,162.31 394.93,162.31 394.93,164.43 395.22,164.43 395.22,167.27 395.27,167.27 395.27,167.82 395.37,167.82 395.37,170.65 395.48,170.65 395.48,173.6 395.56,173.6 395.56,175.87 395.62,175.87 395.62,177.54 395.7,177.54 395.7,179.79 395.8,179.79 395.8,182.5 395.86,182.5 395.86,184.39 395.97,184.39 395.97,187.21 396,187.21 396,188.18 399.31,188.18 399.31,188.55 402.53,188.55 402.53,188.91 405.61,188.91 405.61,189.25 407.4,189.25 407.4,189.45" stroke="#dcd232" stroke-width="1.05" fill="none" stroke-linejoin="round"/>
<polyline points="289.5,107.6 324.87,107.6 327.75,107.6 327.75,108.2 331.02,108.2 331.02,108.89 332,108.89 332,109.09 335.01,109.09 335.01,109.39 337.77,109.39 337.77,109.67 340.47,109.67 340.47,109.94 343.53,109.94 343.53,110.24 346.54,110.24 346.54,110.54 349.72,110.54 349.72,110.86 351.89,110.86 351.89,111.08 353.82,111.08 353.82,111.27 355.5,111.27 355.5,111.94 357.78,111.94 357.78,112.86 360.05,112.86 360.05,113.76 361.09,113.76 361.09,114.18 362.66,114.18 362.66,115.12 364.32,115.12 364.32,116.12 366.29,116.12 366.29,117.3 368.36,117.3 368.36,118.55 370.72,118.55 370.72,120.43 372.97,120.43 372.97,122.23 375.53,122.23 375.53,124.28 375.64,124.28 375.64,124.36 377.66,124.36 377.66,126.38 380,126.38 380,128.73 382.17,128.73 382.17,130.89 383.39,130.89 383.39,132.12 384.36,132.12 384.36,133.09 385.37,133.09 385.37,135.11 386.88,135.11 386.88,138.12 387.27,138.12 387.27,138.91 388.51,138.91 388.51,141.38 389.93,141.38 389.93,144.22 390.18,144.22 390.18,144.73 391.64,144.73 391.64,146 392,146 392,147.8 392.47,147.8 392.47,150.15 393.02,150.15 393.02,152.93 393.09,152.93 393.09,153.27 393.86,153.27 393.86,156.34 394.38,156.34 394.38,158.44 395.2,158.44 395.2,161.69 395.27,161.69 395.27,162 395.97,162 395.97,164.78 396.66,164.78 396.66,167.53 397.39,167.53 397.39,170.45 397.45,170.45 397.45,170.73 398.37,170.73 398.37,173.48 399.21,173.48 399.21,176 400.23,176 400.23,179.04 400.36,179.04 400.36,179.45 401.32,179.45 401.32,180.82 402.49,180.82 402.49,182.48 403.98,182.48 403.98,184.59 405.04,184.59 405.04,186.1 406.78,186.1 406.78,188.57 407.4,188.57 407.4,189.45" stroke="#e05a5a" stroke-width="1.05" fill="none" stroke-linejoin="round"/>
<polyline points="289.5,107.6 304.24,107.6 304.83,110.46 332,110.55 334.95,110.55 334.95,110.69 338.34,110.69 338.34,110.86 340.93,110.86 340.93,110.99 343.35,110.99 343.35,111.11 346.12,111.11 346.12,111.25 346.55,111.25 346.55,111.27 348.21,111.27 348.21,111.51 350.12,111.51 350.12,111.78 353.17,111.78 353.17,112.22 355.74,112.22 355.74,112.59 356.73,112.59 356.73,112.73 358.28,112.73 358.28,115.32 358.91,115.32 358.91,116.36 361.33,116.36 361.33,117.82 362.55,117.82 362.55,118.55 364.47,118.55 364.47,120.47 366.39,120.47 366.39,122.39 366.91,122.39 366.91,122.91 367.44,122.91 367.44,124.49 368.29,124.49 368.29,127.06 368.36,127.06 368.36,127.27 369.75,127.27 369.75,128.31 371.97,128.31 371.97,129.98 374.18,129.98 374.18,131.64 376.58,131.64 376.58,134.04 378.55,134.04 378.55,136 380.23,136 380.23,138.02 381.59,138.02 381.59,139.65 382.18,139.65 382.18,140.36 382.81,140.36 382.81,142.58 383.58,142.58 383.58,145.24 383.64,145.24 383.64,145.45 384.36,146 384.61,146 384.61,147.93 384.86,147.93 384.86,149.94 385.09,149.94 385.09,151.82 386.72,151.82 386.72,153.45 388,153.45 388,154.73 388.22,154.73 388.22,156.88 388.38,156.88 388.38,158.51 388.63,158.51 388.63,161.04 388.73,161.04 388.73,162 390.53,162 390.53,163.2 392.99,163.2 392.99,164.84 393.09,164.84 393.09,164.91 394.29,164.91 394.29,166.11 396,166.11 396,167.82 396.21,167.82 396.21,169.92 396.45,169.92 396.45,172.3 396.73,172.3 396.73,175.09 397.8,175.09 397.8,177.96 398.57,177.96 398.57,180 398.91,180 398.91,180.91 400.77,180.91 400.77,182.78 402.57,182.78 402.57,184.59 404.9,184.59 404.9,186.94 407.27,186.94 407.27,189.32 407.4,189.32 407.4,189.45" stroke="#ffa826" stroke-width="1.05" fill="none" stroke-linejoin="round"/>
<polyline points="289.5,107.6 324.87,107.6 326.85,107.6 326.85,108.22 330.02,108.22 330.02,109.2 332,109.2 332,109.82 334.2,109.82 334.2,109.99 336.3,109.99 336.3,110.15 339.06,110.15 339.06,110.36 340.82,110.36 340.82,110.5 342.54,110.5 342.54,110.63 345.04,110.63 345.04,110.82 347.93,110.82 347.93,111.04 350.1,111.04 350.1,111.21 350.91,111.21 350.91,111.27 353.67,111.27 353.67,112.1 355.7,112.1 355.7,112.71 358.18,112.71 358.18,113.45 359.72,113.45 359.72,114.11 362.26,114.11 362.26,115.2 363.27,115.2 363.27,115.64 363.68,115.64 363.68,117.27 364,117.27 364,118.55 366.36,118.55 366.36,120.12 368.36,120.12 368.36,121.45 370.19,121.45 370.19,122.37 371.27,122.37 371.27,122.91 372.75,122.91 372.75,123.9 375.09,123.9 375.09,125.46 375.64,125.46 375.64,125.82 377.47,125.82 377.47,127.04 378.86,127.04 378.86,127.97 380,127.97 380,128.73 380.71,128.73 380.71,131.58 381.45,131.58 381.45,134.55 384.15,134.55 384.15,134.88 387.06,134.88 387.06,135.25 387.27,135.25 387.27,135.27 387.5,135.27 387.5,136.88 387.89,136.88 387.89,139.61 388,139.61 388,140.36 388.84,140.36 388.84,142.03 390.18,142.03 390.18,144.73 390.91,146 391.42,146 391.42,148.05 391.83,148.05 391.83,149.69 392.36,149.69 392.36,151.82 393.22,151.82 393.22,154.66 393.88,154.66 393.88,156.88 394.55,156.88 394.55,159.09 395.2,159.09 395.2,161.72 395.73,161.72 395.73,163.84 396.29,163.84 396.29,166.08 396.73,166.08 396.73,167.82 397.15,167.82 397.15,169.94 397.74,169.94 397.74,172.89 398.09,172.89 398.09,174.65 398.18,174.65 398.18,175.09 399.14,175.09 399.14,178.28 399.84,178.28 399.84,180.63 400.36,180.63 400.36,182.36 402.73,182.36 402.73,184.75 404.58,184.75 404.58,186.61 405.85,186.61 405.85,187.89 407.4,187.89 407.4,189.45" stroke="#c03cb8" stroke-width="1.05" fill="none" stroke-linejoin="round"/>
</g>
<path d="M289.5 107.6V189.45M407.4 107.6V189.45" fill="none" stroke="#c4c4c4" stroke-width="1.1" stroke-linecap="square"/>
<path d="M289.5 107.6H407.4M289.5 189.45H407.4" fill="none" stroke="#bebebe" stroke-width="0.75" stroke-linecap="square"/>
<text x="289.5" y="193.95" text-anchor="middle" class="t">0.0</text>
<text x="287.7" y="191.05" text-anchor="end" class="t">0.0</text>
<text x="313.08" y="193.95" text-anchor="middle" class="t">0.2</text>
<text x="287.7" y="174.68" text-anchor="end" class="t">0.2</text>
<text x="336.66" y="193.95" text-anchor="middle" class="t">0.4</text>
<text x="287.7" y="158.31" text-anchor="end" class="t">0.4</text>
<text x="360.24" y="193.95" text-anchor="middle" class="t">0.6</text>
<text x="287.7" y="141.94" text-anchor="end" class="t">0.6</text>
<text x="383.82" y="193.95" text-anchor="middle" class="t">0.8</text>
<text x="287.7" y="125.57" text-anchor="end" class="t">0.8</text>
<text x="407.4" y="193.95" text-anchor="middle" class="t">1.0</text>
<text x="287.7" y="109.2" text-anchor="end" class="t">1.0</text>
<text x="348.45" y="105.9" text-anchor="middle" class="b">Dog</text>
<text x="348.45" y="199.65" text-anchor="middle" class="b">Recall</text>
<text transform="translate(281.2 148.52) rotate(-90)" text-anchor="middle" class="b p">Precision</text>
</g>
<g>
<path d="M450.78 107.6V189.45M427.2 173.08H545.1M474.36 107.6V189.45M427.2 156.71H545.1M497.94 107.6V189.45M427.2 140.34H545.1M521.52 107.6V189.45M427.2 123.97H545.1" stroke="#e2e2e2" stroke-width="0.6" fill="none"/>
<path d="M427.2 189.45v1M427.2 189.45h-1M450.78 189.45v1M427.2 173.08h-1M474.36 189.45v1M427.2 156.71h-1M497.94 189.45v1M427.2 140.34h-1M521.52 189.45v1M427.2 123.97h-1M545.1 189.45v1M427.2 107.6h-1" stroke="#999" stroke-width="0.4" fill="none"/>
<clipPath id="cMotorbike"><rect x="427.2" y="107.6" width="117.9" height="81.85"/></clipPath>
<g clip-path="url(#cMotorbike)">
<polyline points="427.2,107.6 468,107.93 476.73,108.36 478.41,108.36 478.41,108.78 480.32,108.78 480.32,109.26 482.55,109.26 482.55,109.82 484.73,109.82 484.73,110.69 487.61,110.69 487.61,111.84 489.82,111.84 489.82,112.73 492.17,112.73 492.17,114.14 493.6,114.14 493.6,114.99 496.26,114.99 496.26,116.59 497.09,116.59 497.09,117.09 499.9,117.09 499.9,118.03 501.45,118.03 501.45,118.55 503.72,118.55 503.72,120.81 504.36,120.81 504.36,121.45 505.65,121.45 505.65,122.74 507.27,122.74 507.27,124.36 507.63,124.36 507.63,127.54 507.97,127.54 507.97,130.63 508,130.63 508,130.91 513.09,130.91 514,130.91 514,134.08 514.55,134.08 514.55,136 515.6,136 515.6,137.41 516.73,137.41 516.73,138.91 517.04,138.91 517.04,141.97 517.24,141.97 517.24,143.87 517.45,143.87 517.45,146 517.82,146 517.82,148.9 518.08,148.9 518.08,150.99 518.18,150.99 518.18,151.82 519.4,151.82 519.4,153.24 521.4,153.24 521.4,155.57 522.55,155.57 522.55,156.91 523.05,156.91 523.05,159.16 523.77,159.16 523.77,162.41 524,162.41 524,163.45 525.05,163.45 525.05,165.13 526.64,165.13 526.64,167.69 527.64,167.69 527.64,169.27 528.19,169.27 528.19,170.92 529.05,170.92 529.05,173.52 529.09,173.52 529.09,173.64 530.16,173.64 530.16,175.77 531.18,175.77 531.18,177.82 531.94,177.82 531.94,179.34 532,179.34 532,179.45 533.7,179.45 533.7,182 534.75,182 534.75,183.58 534.91,183.58 534.91,183.82 536.68,183.82 536.68,184.8 538.74,184.8 538.74,185.94 540.76,185.94 540.76,187.05 542.24,187.05 542.24,187.87 544.99,187.87 544.99,189.39 545.1,189.39 545.1,189.45" stroke="#ff4545" stroke-width="1.05" fill="none" stroke-linejoin="round"/>
<polyline points="427.2,107.6 468,107.93 470.47,107.93 470.47,108.03 472.47,108.03 472.47,108.12 475.52,108.12 475.52,108.25 478.54,108.25 478.54,108.38 481.4,108.38 481.4,108.5 483.7,108.5 483.7,108.6 487.06,108.6 487.06,108.74 488.36,108.74 488.36,108.8 489.6,108.8 489.6,110.47 490.89,110.47 490.89,112.21 491.27,112.21 491.27,112.73 492.6,112.73 492.6,114.05 494.93,114.05 494.93,116.39 497.09,116.39 497.09,118.55 498.79,118.55 498.79,119.68 500.49,119.68 500.49,120.81 501.45,120.81 501.45,121.45 501.85,121.45 501.85,123.43 502.44,123.43 502.44,126.37 502.89,126.37 502.89,128.62 502.91,128.62 502.91,128.73 504.84,128.73 504.84,130.18 505.82,130.18 505.82,130.91 506.27,130.91 506.27,132.93 506.9,132.93 506.9,135.79 507.27,135.79 507.27,137.45 509.15,137.45 509.15,140.28 510.18,140.28 510.18,141.82 510.99,141.82 510.99,144.15 511.58,144.15 511.58,145.84 511.64,145.84 511.64,146 513.03,146 513.03,148.78 514.48,148.78 514.48,151.69 514.55,151.69 514.55,151.82 515.24,151.82 515.24,154.59 515.64,154.59 515.64,156.2 516.25,156.2 516.25,158.64 516.73,158.64 516.73,160.55 518.8,160.55 518.8,162.62 520.67,162.62 520.67,164.49 521.09,164.49 521.09,164.91 521.82,164.91 521.82,167.82 523.84,167.82 523.84,168.83 526.18,168.83 526.18,170 526.18,170 526.18,170 527.48,170 527.48,172.28 528.94,172.28 528.94,174.83 529.09,174.83 529.09,175.09 531.54,175.09 531.54,175.7 533.39,175.7 533.39,176.17 534.91,176.17 534.91,176.55 535.78,176.55 535.78,179.16 536.36,179.16 536.36,180.91 536.69,180.91 536.69,184.16 536.88,184.16 536.88,186.03 537.07,186.03 537.07,188 537.09,188 537.09,188.18 539.81,188.18 539.81,188.61 543.1,188.61 543.1,189.13 544.68,189.13 544.68,189.38 545.1,189.38 545.1,189.45" stroke="#21b55c" stroke-width="1.05" fill="none" stroke-linejoin="round"/>
<polyline points="427.2,107.6 459.03,107.6 459.62,109.65 462.25,109.65 462.25,109.24 464.97,109.24 464.97,108.83 468,108.83 468,108.36 489.82,108.36 491.18,108.36 491.18,109.73 492,109.73 492,110.55 492.52,110.55 492.52,112.35 493.17,112.35 493.17,114.63 493.45,114.63 493.45,115.64 496.32,115.64 496.32,117.35 497.09,117.35 497.09,117.82 499,117.82 499,118.77 501.08,118.77 501.08,119.81 501.45,119.81 501.45,120 504.05,120 504.05,121.73 505.72,121.73 505.72,122.84 505.82,122.84 505.82,122.91 506.4,122.91 506.4,124.67 507.01,124.67 507.01,126.49 507.27,126.49 507.27,127.27 507.55,127.27 507.55,129.45 507.9,129.45 507.9,132.26 508,132.26 508,133.09 509.9,133.09 509.9,135.63 510.18,135.63 510.18,136 511.35,136 511.35,137.55 513.21,137.55 513.21,140.04 514.55,140.04 514.55,141.82 515.82,141.82 515.82,144.26 516.73,144.26 516.73,146 517.09,146 517.09,148.16 517.35,148.16 517.35,149.76 517.71,149.76 517.71,151.92 518.18,151.92 518.18,154.73 519.14,154.73 519.14,156.26 520.66,156.26 520.66,158.7 521.64,158.7 521.64,160.26 521.82,160.26 521.82,160.55 522.38,160.55 522.38,162.78 522.86,162.78 522.86,164.7 523.27,164.7 523.27,166.36 524.9,166.36 524.9,168.53 526.09,168.53 526.09,170.11 527.36,170.11 527.36,171.81 527.64,171.81 527.64,172.18 529.28,172.18 529.28,174.64 530.24,174.64 530.24,176.08 530.55,176.08 530.55,176.55 531.55,176.55 531.55,178.56 532.5,178.56 532.5,180.45 533.45,180.45 533.45,182.36 533.79,182.36 533.79,185.03 534.1,185.03 534.1,187.52 534.18,187.52 534.18,188.18 536.44,188.18 536.44,188.44 539.67,188.44 539.67,188.82 542.99,188.82 542.99,189.21 544.87,189.21 544.87,189.42 545.1,189.42 545.1,189.45" stroke="#4c4cf5" stroke-width="1.05" fill="none" stroke-linejoin="round"/>
<polyline points="427.2,107.6 468,107.93 478.18,108.36 479.84,108.36 479.84,109.47 481.69,109.47 481.69,110.7 482.55,110.7 482.55,111.27 484.35,111.27 484.35,112.63 485.75,112.63 485.75,113.68 487.76,113.68 487.76,115.18 488.36,115.18 488.36,115.64 490.62,115.64 490.62,117.89 492.18,117.89 492.18,119.46 492.73,119.46 492.73,120 494.05,120 494.05,121.99 495.57,121.99 495.57,124.27 495.64,124.27 495.64,124.36 496.24,124.36 496.24,126.18 496.9,126.18 496.9,128.17 497.43,128.17 497.43,129.76 498.21,129.76 498.21,132.09 498.55,132.09 498.55,133.09 499.17,133.09 499.17,135.16 499.69,135.16 499.69,136.91 500.48,136.91 500.48,139.54 500.73,139.54 500.73,140.36 501.21,140.36 501.21,143.67 501.67,143.67 501.67,146.83 501.93,146.83 501.93,148.63 502.18,148.63 502.18,150.36 502.5,150.36 502.5,151.95 502.92,151.95 502.92,154.04 503.51,154.04 503.51,156.99 503.64,156.99 503.64,157.64 503.81,157.64 503.81,159.67 503.94,159.67 503.94,161.32 504.08,161.32 504.08,162.97 504.24,162.97 504.24,164.87 504.36,164.87 504.36,166.36 507.03,166.36 507.03,167.43 508,167.43 508,167.82 508.32,167.82 508.32,171.05 508.51,171.05 508.51,172.93 508.73,172.93 508.73,175.09 510.72,175.09 510.72,177.09 510.91,177.09 510.91,177.27 511.08,177.27 511.08,179.28 511.24,179.28 511.24,181.2 511.47,181.2 511.47,184 511.64,184 511.64,186 513.85,186 513.85,187.11 514.55,187.11 514.55,187.45 516.88,187.45 516.88,187.61 519.3,187.61 519.3,187.77 521.38,187.77 521.38,187.9 524.68,187.9 524.68,188.12 527.54,188.12 527.54,188.3 529.36,188.3 529.36,188.42 532.05,188.42 532.05,188.6 535.02,188.6 535.02,188.79 537.97,188.79 537.97,188.98 540.25,188.98 540.25,189.13 542.95,189.13 542.95,189.31 544.82,189.31 544.82,189.43 545.1,189.43 545.1,189.45" stroke="#1fd2dc" stroke-width="1.05" fill="none" stroke-linejoin="round"/>
<polyline points="427.2,107.6 441.94,107.6 442.74,107.6 442.74,109.55 443.12,109.55 443.12,110.46 459.03,110.46 460.21,110.46 460.21,112.92 466.11,113.33 467.62,113.33 467.62,114.01 468,114.01 468,114.18 470.6,114.18 470.6,115.48 472.36,115.48 472.36,116.36 481.09,116.8 484.26,116.8 484.26,117.36 486.13,117.36 486.13,117.68 486.91,117.68 486.91,117.82 489.79,117.82 489.79,118.9 492.73,118.9 492.73,120 494.37,120 494.37,120.55 495.96,120.55 495.96,121.08 497.09,121.08 497.09,121.45 498.59,121.45 498.59,124.45 499.27,124.45 499.27,125.82 500.07,125.82 500.07,127.95 501.07,127.95 501.07,130.62 501.45,130.62 501.45,131.64 501.87,131.64 501.87,134.99 502.17,134.99 502.17,137.38 502.4,137.38 502.4,139.22 502.76,139.22 502.76,142.07 502.91,142.07 502.91,143.27 504.12,143.27 504.12,145.55 504.36,145.55 504.36,146 504.98,146 504.98,148.47 505.58,148.47 505.58,150.87 506.26,150.87 506.26,153.57 506.55,153.57 506.55,154.73 507.66,154.73 507.66,157.5 508.73,157.5 508.73,160.18 509.45,160.18 509.45,162 510.21,162 510.21,164.53 510.88,164.53 510.88,166.76 511.64,166.76 511.64,169.27 513.01,169.27 513.01,172.02 514.41,172.02 514.41,174.82 514.55,174.82 514.55,175.09 515.33,175.09 515.33,178.23 515.72,178.23 515.72,179.78 516,179.78 516,180.91 518.17,180.91 518.17,183.08 518.91,183.08 518.91,183.82 519.71,183.82 519.71,185.88 520.78,185.88 520.78,188.66 521.09,188.66 521.09,189.45 545.1,189.45" stroke="#f850dc" stroke-width="1.05" fill="none" stroke-linejoin="round"/>
<polyline points="427.2,107.6 456.68,107.6 457.26,109.65 468,109.82 469.6,109.82 469.6,110.22 471.51,110.22 471.51,110.7 474.52,110.7 474.52,111.45 476.28,111.45 476.28,111.89 476.73,111.89 476.73,112 479.69,112 479.69,113.48 481.31,113.48 481.31,114.29 483.65,114.29 483.65,115.46 485.18,115.46 485.18,116.22 485.45,116.22 485.45,116.36 487.86,116.36 487.86,118.47 489.18,118.47 489.18,119.62 491.27,119.62 491.27,121.45 492.72,121.45 492.72,123.87 493.59,123.87 493.59,125.32 494.51,125.32 494.51,126.84 495.64,126.84 495.64,128.73 497.2,128.73 497.2,130.82 498.45,130.82 498.45,132.48 500,132.48 500,134.55 501.1,134.55 501.1,136.01 502.35,136.01 502.35,137.68 504.19,137.68 504.19,140.13 504.36,140.13 504.36,140.36 505.74,140.36 505.74,141.97 507.7,141.97 507.7,144.25 508.73,144.25 508.73,145.45 510.91,146 511.6,146 511.6,147.73 512.63,147.73 512.63,150.29 513.77,150.29 513.77,153.15 513.82,153.15 513.82,153.27 514.22,153.27 514.22,155.28 514.8,155.28 514.8,158.17 515.25,158.17 515.25,160.44 515.27,160.44 515.27,160.55 516.38,160.55 516.38,163.3 517.47,163.3 517.47,166.03 518.18,166.03 518.18,167.82 518.58,167.82 518.58,170.59 518.91,170.59 518.91,172.91 521.68,172.91 521.68,173.46 522.55,173.46 522.55,173.64 522.64,173.64 522.64,175.45 522.76,175.45 522.76,177.9 522.87,177.9 522.87,180.11 523,180.11 523,182.65 523.15,182.65 523.15,185.64 523.27,185.64 523.27,188.18 525.35,188.18 525.35,188.3 528.7,188.3 528.7,188.5 531.57,188.5 531.57,188.66 533.25,188.66 533.25,188.76 535.69,188.76 535.69,188.9 537.38,188.9 537.38,189 539.51,189 539.51,189.12 541.73,189.12 541.73,189.25 543.61,189.25 543.61,189.36 545.1,189.36 545.1,189.45" stroke="#dcd232" stroke-width="1.05" fill="none" stroke-linejoin="round"/>
<polyline points="427.2,107.6 462.57,107.6 465.03,107.6 465.03,108.28 467.36,108.28 467.36,108.92 468,108.92 468,109.09 471.03,109.09 471.03,109.7 473.74,109.7 473.74,110.24 475.27,110.24 475.27,110.55 477.6,110.55 477.6,111.01 479.6,111.01 479.6,111.41 482.48,111.41 482.48,111.99 482.55,111.99 482.55,112 485.55,112 485.55,113.5 487.52,113.5 487.52,114.49 489.82,114.49 489.82,115.64 491.59,115.64 491.59,116.7 493.88,116.7 493.88,118.07 496.43,118.07 496.43,119.6 497.09,119.6 497.09,120 498.48,120 498.48,122.77 499.95,122.77 499.95,125.72 500,125.72 500,125.82 500.9,125.82 500.9,128.06 501.73,128.06 501.73,130.16 502.66,130.16 502.66,132.47 502.91,132.47 502.91,133.09 503.29,133.09 503.29,135.38 503.85,135.38 503.85,138.72 504.16,138.72 504.16,140.59 504.36,140.59 504.36,141.82 504.59,141.82 504.59,143.61 504.94,143.61 504.94,146.38 505.2,146.38 505.2,148.43 505.63,148.43 505.63,151.76 505.82,151.76 505.82,153.27 506.39,153.27 506.39,155.18 507.08,155.18 507.08,157.49 507.9,157.49 507.9,160.2 508,160.2 508,160.55 545.1,189.45" stroke="#e05a5a" stroke-width="1.05" fill="none" stroke-linejoin="round"/>
<polyline points="427.2,107.6 447.24,107.6 447.83,109.24 468,109.82 470,109.82 470,110.39 471.6,110.39 471.6,110.85 473.51,110.85 473.51,111.39 476.15,111.39 476.15,112.15 478.18,112.15 478.18,112.73 480.68,112.73 480.68,113.98 482.55,113.98 482.55,114.91 484.02,114.91 484.02,115.64 486.54,115.64 486.54,116.91 486.91,116.91 486.91,117.09 488.76,117.09 488.76,118.94 490.57,118.94 490.57,120.75 491.27,120.75 491.27,121.45 493.82,121.45 493.82,123.36 496.54,123.36 496.54,125.4 497.09,125.4 497.09,125.82 497.74,125.82 497.74,127.44 498.67,127.44 498.67,129.77 499.55,129.77 499.55,131.97 500,131.97 500,133.09 501.11,133.09 501.11,135.31 502.08,135.31 502.08,137.26 503.09,137.26 503.09,139.28 503.91,139.28 503.91,140.9 504.36,140.9 504.36,141.82 506.57,141.82 506.57,143.66 507.83,143.66 507.83,144.71 508.73,144.71 508.73,145.45 511.64,146 512.47,146 512.47,148.5 513.31,148.5 513.31,151.02 514.01,151.02 514.01,153.12 514.55,153.12 514.55,154.73 515.04,154.73 515.04,156.69 515.82,156.69 515.82,159.84 516.63,159.84 516.63,163.05 516.73,163.05 516.73,163.45 517.24,163.45 517.24,166.56 517.54,166.56 517.54,168.36 518,168.36 518,171.1 518.18,171.1 518.18,172.18 518.8,172.18 518.8,173.84 519.67,173.84 519.67,176.15 520.36,176.15 520.36,178 522.47,178 522.47,180.1 523.91,180.1 523.91,181.55 526.09,181.55 526.09,183.73 526.18,183.73 526.18,183.82 528.94,183.82 528.94,185.54 530.93,185.54 530.93,186.78 532,186.78 532,187.45 534.33,187.45 534.33,187.81 536.3,187.81 536.3,188.11 538.64,188.11 538.64,188.47 541.07,188.47 541.07,188.84 543.85,188.84 543.85,189.26 545.1,189.26 545.1,189.45" stroke="#ffa826" stroke-width="1.05" fill="none" stroke-linejoin="round"/>
<polyline points="427.2,107.6 456.68,107.6 458.6,107.6 458.6,107.85 461.51,107.85 461.51,108.24 464.06,108.24 464.06,108.57 467.33,108.57 467.33,109 468,109 468,109.09 471.17,109.09 471.17,110.04 472.73,110.04 472.73,110.51 475.27,110.51 475.27,111.27 477.1,111.27 477.1,112 480.2,112 480.2,113.24 481.99,113.24 481.99,113.96 482.55,113.96 482.55,114.18 485.09,114.18 485.09,115.71 486.74,115.71 486.74,116.7 489.3,116.7 489.3,118.24 489.82,118.24 489.82,118.55 491.13,118.55 491.13,119.86 492.64,119.86 492.64,121.36 494.18,121.36 494.18,122.91 495.11,122.91 495.11,124.77 496.49,124.77 496.49,127.52 497.09,127.52 497.09,128.73 497.73,128.73 497.73,130.86 498.6,130.86 498.6,133.76 499.27,133.76 499.27,136 500.07,136 500.07,139.17 500.73,139.17 500.73,141.82 501.23,141.82 501.23,144.73 501.45,144.73 501.45,146 502.54,146 502.54,148.71 503.39,148.71 503.39,150.84 504.13,150.84 504.13,152.68 504.36,152.68 504.36,153.27 505.43,153.27 505.43,155.94 506.22,155.94 506.22,157.92 506.82,157.92 506.82,159.42 507.27,159.42 507.27,160.55 508.5,160.55 508.5,163.61 509.21,163.61 509.21,165.4 509.88,165.4 509.88,167.05 510.18,167.05 510.18,167.82 511.05,167.82 511.05,170.72 511.56,170.72 511.56,172.43 512.19,172.43 512.19,174.5 512.36,174.5 512.36,175.09 513.21,175.09 513.21,177.34 514.37,177.34 514.37,180.44 514.55,180.44 514.55,180.91 516.87,180.91 516.87,183.24 518.91,183.24 518.91,185.27 520.57,185.27 520.57,186.93 521.82,186.93 521.82,188.18 524.78,188.18 524.78,188.34 526.82,188.34 526.82,188.45 529.08,188.45 529.08,188.58 531.35,188.58 531.35,188.7 532.95,188.7 532.95,188.79 535.61,188.79 535.61,188.93 538.74,188.93 538.74,189.1 541.15,189.1 541.15,189.23 543.97,189.23 543.97,189.39 545.1,189.39 545.1,189.45" stroke="#c03cb8" stroke-width="1.05" fill="none" stroke-linejoin="round"/>
</g>
<path d="M427.2 107.6V189.45M545.1 107.6V189.45" fill="none" stroke="#c4c4c4" stroke-width="1.1" stroke-linecap="square"/>
<path d="M427.2 107.6H545.1M427.2 189.45H545.1" fill="none" stroke="#bebebe" stroke-width="0.75" stroke-linecap="square"/>
<text x="427.2" y="193.95" text-anchor="middle" class="t">0.0</text>
<text x="425.4" y="191.05" text-anchor="end" class="t">0.0</text>
<text x="450.78" y="193.95" text-anchor="middle" class="t">0.2</text>
<text x="425.4" y="174.68" text-anchor="end" class="t">0.2</text>
<text x="474.36" y="193.95" text-anchor="middle" class="t">0.4</text>
<text x="425.4" y="158.31" text-anchor="end" class="t">0.4</text>
<text x="497.94" y="193.95" text-anchor="middle" class="t">0.6</text>
<text x="425.4" y="141.94" text-anchor="end" class="t">0.6</text>
<text x="521.52" y="193.95" text-anchor="middle" class="t">0.8</text>
<text x="425.4" y="125.57" text-anchor="end" class="t">0.8</text>
<text x="545.1" y="193.95" text-anchor="middle" class="t">1.0</text>
<text x="425.4" y="109.2" text-anchor="end" class="t">1.0</text>
<text x="486.15" y="105.9" text-anchor="middle" class="b">Motorbike</text>
<text x="486.15" y="199.65" text-anchor="middle" class="b">Recall</text>
<text transform="translate(418.9 148.52) rotate(-90)" text-anchor="middle" class="b p">Precision</text>
</g>
<g>
<path d="M38.58 210.45V292.3M15 275.93H132.9M62.16 210.45V292.3M15 259.56H132.9M85.74 210.45V292.3M15 243.19H132.9M109.32 210.45V292.3M15 226.82H132.9" stroke="#e2e2e2" stroke-width="0.6" fill="none"/>
<path d="M15 292.3v1M15 292.3h-1M38.58 292.3v1M15 275.93h-1M62.16 292.3v1M15 259.56h-1M85.74 292.3v1M15 243.19h-1M109.32 292.3v1M15 226.82h-1M132.9 292.3v1M15 210.45h-1" stroke="#999" stroke-width="0.4" fill="none"/>
<clipPath id="cBicycle"><rect x="15" y="210.45" width="117.9" height="81.85"/></clipPath>
<g clip-path="url(#cBicycle)">
<polyline points="15,210.45 57,210.45 93.36,210.65 95.9,210.65 95.9,211.57 98.06,211.57 98.06,212.35 100.19,212.35 100.19,213.11 100.64,213.11 100.64,213.27 102.36,213.27 102.36,213.7 105.45,213.7 105.45,214.48 106.45,214.48 106.45,214.73 109.03,214.73 109.03,215.05 112.27,215.05 112.27,215.45 113.82,215.45 113.82,217.38 115.18,217.38 115.18,219.09 116.64,219.09 116.64,221.03 117.91,221.03 117.91,222.73 119.55,222.73 119.55,224.91 120.15,224.91 120.15,227.34 120.62,227.34 120.62,229.21 121,229.21 121,230.73 121.11,230.73 121.11,233.32 121.2,233.32 121.2,235.58 121.34,235.58 121.34,238.79 121.41,238.79 121.41,240.57 121.52,240.57 121.52,243.1 121.62,243.1 121.62,245.35 121.7,245.35 121.7,247.44 121.73,247.44 121.73,248 121.73,258.18 123.18,258.18 123.18,259.64 123.18,272.73 124.72,272.73 124.72,273.75 125.36,273.75 125.36,274.18 125.91,274.18 125.91,276.35 126.47,276.35 126.47,278.63 126.82,278.63 126.82,280 127.65,280 127.65,281.67 128.42,281.67 128.42,283.2 129.73,283.2 129.73,285.82 130.83,285.82 130.83,287.94 131.94,287.94 131.94,290.08 132.9,290.08 132.9,291.93" stroke="#ff4545" stroke-width="1.05" fill="none" stroke-linejoin="round"/>
<polyline points="15,210.45 57,210.45 86.09,210.8 88.47,210.8 88.47,211.47 91.62,211.47 91.62,212.37 93.31,212.37 93.31,212.85 94.82,212.85 94.82,213.27 97.99,213.27 97.99,214.07 100,214.07 100,214.57 100.64,214.57 100.64,214.73 102.94,214.73 102.94,215.88 105.7,215.88 105.7,217.26 106.45,217.26 106.45,217.64 108,217.64 108,218.66 109.89,218.66 109.89,219.93 110.82,219.93 110.82,220.55 111.99,220.55 111.99,222.31 113.68,222.31 113.68,224.84 113.73,224.84 113.73,224.91 114.45,224.91 114.45,227.09 115,227.09 115,228.73 115.18,228.73 115.18,229.27 115.52,229.27 115.52,231.63 115.89,231.63 115.89,234.22 116.13,234.22 116.13,235.94 116.39,235.94 116.39,237.73 116.62,237.73 116.62,239.34 116.64,239.34 116.64,239.45 116.78,239.45 116.78,241.09 116.92,241.09 116.92,242.83 117.16,242.83 117.16,245.63 117.36,245.63 117.36,248 117.64,248 117.64,250.23 118.02,250.23 118.02,253.23 118.09,253.23 118.09,253.82 119.26,253.82 119.26,255.57 120.52,255.57 120.52,257.46 121,257.46 121,258.18 121.14,258.18 121.14,260.37 121.31,260.37 121.31,263.16 121.46,263.16 121.46,265.49 121.62,265.49 121.62,268.13 121.73,268.13 121.73,269.82 122.06,269.82 122.06,273.19 122.26,273.19 122.26,275.1 122.45,275.1 122.45,277.09 123.16,277.09 123.16,278.98 124,278.98 124,281.22 124.64,281.22 124.64,282.91 124.9,282.91 124.9,285.58 125.12,285.58 125.12,287.78 125.36,287.78 125.36,290.18 127.95,290.18 127.95,290.78 131.2,290.78 131.2,291.53 132.9,291.53 132.9,291.93" stroke="#21b55c" stroke-width="1.05" fill="none" stroke-linejoin="round"/>
<polyline points="15,210.45 57,210.45 83.18,210.8 86.25,210.8 86.25,211.67 88.59,211.67 88.59,212.33 90.59,212.33 90.59,212.9 91.91,212.9 91.91,213.27 95.16,213.27 95.16,214.25 97.89,214.25 97.89,215.07 99.18,215.07 99.18,215.45 100.67,215.45 100.67,216.2 102.83,216.2 102.83,217.28 104.93,217.28 104.93,218.33 105,218.33 105,218.36 106.79,218.36 106.79,219.26 109.36,219.26 109.36,220.55 111.01,220.55 111.01,222.61 112.05,222.61 112.05,223.9 112.27,223.9 112.27,224.18 113.03,224.18 113.03,225.94 113.83,225.94 113.83,227.81 114.45,227.81 114.45,229.27 114.84,229.27 114.84,232.34 115.18,232.34 115.18,235.09 115.33,235.09 115.33,237.8 115.48,237.8 115.48,240.45 115.61,240.45 115.61,242.63 115.77,242.63 115.77,245.45 115.91,245.45 115.91,248 117.12,248 117.12,250.43 118.05,250.43 118.05,252.29 118.09,252.29 118.09,252.36 118.71,252.36 118.71,254.23 119.24,254.23 119.24,255.82 119.55,255.82 119.55,256.73 121.05,256.73 121.05,258.24 122.43,258.24 122.43,259.61 122.45,259.61 122.45,259.64 122.6,259.64 122.6,262.31 122.78,262.31 122.78,265.56 122.94,265.56 122.94,268.41 123.09,268.41 123.09,271.06 123.18,271.06 123.18,272.73 124.29,272.73 124.29,274.2 125.36,274.2 125.36,275.64 126.79,275.64 126.79,278.01 127.55,278.01 127.55,279.27 127.84,279.27 127.84,281.36 128.2,281.36 128.2,283.89 128.27,283.89 128.27,284.36 129.84,284.36 129.84,286.93 131.26,286.93 131.26,289.25 132.9,289.25 132.9,291.92 132.9,291.92 132.9,291.93" stroke="#4c4cf5" stroke-width="1.05" fill="none" stroke-linejoin="round"/>
<polyline points="15,210.45 57,210.45 71.55,210.45 73.38,210.45 73.38,211.33 75.55,211.33 75.55,212.37 75.91,212.37 75.91,212.55 78.59,212.55 78.59,212.74 81.9,212.74 81.9,212.97 83.91,212.97 83.91,213.12 86.09,213.12 86.09,213.27 89.25,213.27 89.25,213.8 91.17,213.8 91.17,214.12 93.6,214.12 93.6,214.53 94.82,214.53 94.82,214.73 98,214.73 98,215.79 99.56,215.79 99.56,216.31 102.3,216.31 102.3,217.22 103.55,217.22 103.55,217.64 106.19,217.64 106.19,219.75 107.18,219.75 107.18,220.55 107.65,220.55 107.65,222.91 108.01,222.91 108.01,224.69 108.5,224.69 108.5,227.14 108.64,227.14 108.64,227.82 109.08,227.82 109.08,230.05 109.54,230.05 109.54,232.32 110.09,232.32 110.09,235.09 111.73,235.09 111.73,237.28 112.27,237.28 112.27,238 112.45,238 112.45,240.41 112.64,240.41 112.64,243.11 112.81,243.11 112.81,245.44 113,245.44 113,248 114.78,248 114.78,250.68 115.76,250.68 115.76,252.15 115.91,252.15 115.91,252.36 116.1,252.36 116.1,254.97 116.3,254.97 116.3,257.78 116.53,257.78 116.53,261.01 116.64,261.01 116.64,262.55 116.64,282.91 118,282.91 118,284.95 118.09,284.95 118.09,285.09 119.79,285.09 119.79,286.41 122.37,286.41 122.37,288.42 124.62,288.42 124.62,290.17 124.64,290.17 124.64,290.18 126.62,290.18 126.62,290.6 128.89,290.6 128.89,291.08 132.04,291.08 132.04,291.75 132.9,291.75 132.9,291.93" stroke="#1fd2dc" stroke-width="1.05" fill="none" stroke-linejoin="round"/>
<polyline points="15,210.45 57,210.45 65.73,210.45 67.93,210.45 67.93,210.79 71.04,210.79 71.04,211.28 74.13,211.28 74.13,211.77 74.45,211.77 74.45,211.82 76.6,211.82 76.6,212.09 78.66,212.09 78.66,212.34 80.75,212.34 80.75,212.61 83.69,212.61 83.69,212.97 85.55,212.97 85.55,213.21 86.09,213.21 86.09,213.27 88.41,213.27 88.41,213.97 91.1,213.97 91.1,214.78 93.36,214.78 93.36,215.45 96.28,215.45 96.28,216.62 98.52,216.62 98.52,217.52 100.64,217.52 100.64,218.36 103.39,218.36 103.39,219.4 106.38,219.4 106.38,220.52 106.45,220.52 106.45,220.55 106.79,220.55 106.79,223.89 107.07,223.89 107.07,226.67 107.18,226.67 107.18,227.82 107.54,227.82 107.54,229.62 108.07,229.62 108.07,232.28 108.49,232.28 108.49,234.35 108.64,234.35 108.64,235.09 110.46,235.09 110.46,237.83 111.55,237.83 111.55,239.45 113.13,239.45 113.13,241.36 114.93,241.36 114.93,243.51 115.18,243.51 115.18,243.82 115.7,243.82 115.7,246.79 115.91,246.79 115.91,248 116.17,248 116.17,251.11 116.34,251.11 116.34,253.2 116.6,253.2 116.6,256.3 116.64,256.3 116.64,256.73 117.71,256.73 117.71,259.59 118.7,259.59 118.7,262.22 118.82,262.22 118.82,262.55 119.14,262.55 119.14,265.78 119.32,265.78 119.32,267.53 119.55,267.53 119.55,269.82 120.49,269.82 120.49,272.95 121.1,272.95 121.1,274.99 121.73,274.99 121.73,277.09 121.99,277.09 121.99,278.68 122.3,278.68 122.3,280.55 122.57,280.55 122.57,282.15 123.11,282.15 123.11,285.38 123.18,285.38 123.18,285.82 123.41,285.82 123.41,287.74 123.71,287.74 123.71,290.26 123.91,290.26 123.91,291.93 132.9,291.93" stroke="#f850dc" stroke-width="1.05" fill="none" stroke-linejoin="round"/>
<polyline points="15,210.45 57,210.45 59.58,210.45 59.58,210.51 62.04,210.51 62.04,210.56 64.33,210.56 64.33,210.61 66.81,210.61 66.81,210.67 69.47,210.67 69.47,210.72 72.47,210.72 72.47,210.79 74.48,210.79 74.48,210.84 77.59,210.84 77.59,210.9 80.82,210.9 80.82,210.97 83.44,210.97 83.44,211.03 85.52,211.03 85.52,211.08 86.09,211.08 86.09,211.09 89.24,211.09 89.24,212.14 91.61,212.14 91.61,212.93 94.28,212.93 94.28,213.82 94.82,213.82 94.82,214 98.01,214 98.01,214.8 99.87,214.8 99.87,215.26 100.64,215.26 100.64,215.45 102.83,215.45 102.83,216.28 104.42,216.28 104.42,216.87 106.45,216.87 106.45,217.64 108.38,217.64 108.38,218.12 110.76,218.12 110.76,218.71 112.27,218.71 112.27,219.09 113.82,219.09 113.82,219.61 115.59,219.61 115.59,220.2 116.64,220.2 116.64,220.55 118.92,220.55 118.92,222.37 120.19,222.37 120.19,223.39 120.27,223.39 120.27,223.45 120.56,223.45 120.56,226.06 120.87,226.06 120.87,228.87 121.15,228.87 121.15,231.34 121.46,231.34 121.46,234.13 121.68,234.13 121.68,236.12 121.73,236.12 121.73,236.55 123.62,236.55 123.62,237.27 123.91,248 123.91,290.18 127.17,290.18 127.17,290.81 130.16,290.81 130.16,291.4 132.75,291.4 132.75,291.9 132.9,291.9 132.9,291.93" stroke="#dcd232" stroke-width="1.05" fill="none" stroke-linejoin="round"/>
<polyline points="15,210.45 57,210.45 58.85,210.45 58.85,210.59 61.46,210.59 61.46,210.78 63.6,210.78 63.6,210.93 65.73,210.93 65.73,211.09 68.72,211.09 68.72,211.73 70.93,211.73 70.93,212.21 72.54,212.21 72.54,212.55 74.73,212.55 74.73,213.02 75.91,213.02 75.91,213.27 77.52,213.27 77.52,213.5 80.44,213.5 80.44,213.92 83.7,213.92 83.7,214.39 85.65,214.39 85.65,214.66 86.09,214.66 86.09,214.73 88.07,214.73 88.07,215.32 90.17,215.32 90.17,215.95 92.34,215.95 92.34,216.6 93.36,216.6 93.36,216.91 94.82,216.91 94.82,217.88 96.75,217.88 96.75,219.17 97.73,219.17 97.73,219.82 98.69,219.82 98.69,221.5 99.97,221.5 99.97,223.74 100.64,223.74 100.64,224.91 102.04,224.91 102.04,227.36 103.05,227.36 103.05,229.14 103.55,229.14 103.55,230 106.12,230 106.12,232.06 107.18,232.06 107.18,232.91 107.43,232.91 107.43,236.1 107.61,236.1 107.61,238.47 107.81,238.47 107.81,241.13 107.91,241.13 107.91,242.36 108.04,242.36 108.04,244.31 108.25,244.31 108.25,247.41 108.42,247.41 108.42,249.86 108.62,249.86 108.62,252.82 108.64,252.82 108.64,253.09 132.9,291.93" stroke="#e05a5a" stroke-width="1.05" fill="none" stroke-linejoin="round"/>
<polyline points="15,210.45 57,210.45 78.82,210.8 81.3,210.8 81.3,211.33 83.49,211.33 83.49,211.79 85.09,211.79 85.09,212.13 86.9,212.13 86.9,212.52 88.61,212.52 88.61,212.88 90.45,212.88 90.45,213.27 92.7,213.27 92.7,214.4 94.44,214.4 94.44,215.26 96.27,215.26 96.27,216.18 97.53,216.18 97.53,217.44 99.29,217.44 99.29,219.2 100.44,219.2 100.44,220.35 100.64,220.35 100.64,220.55 102.22,220.55 102.22,221.34 103.7,221.34 103.7,222.08 106.45,222.08 106.45,223.45 108.7,223.45 108.7,225.7 109.96,225.7 109.96,226.96 110.82,226.96 110.82,227.82 112.31,227.82 112.31,230.05 113.73,230.05 113.73,232.18 114.53,232.18 114.53,234.6 115.18,234.6 115.18,236.55 115.58,236.55 115.58,239.76 115.82,239.76 115.82,241.67 115.91,241.67 115.91,242.36 116.18,242.36 116.18,244.49 116.62,244.49 116.62,247.86 116.64,247.86 116.64,248 117.16,248 117.16,250.1 117.71,250.1 117.71,252.29 118.51,252.29 118.51,255.48 118.82,255.48 118.82,256.73 119.47,256.73 119.47,258.7 120.22,258.7 120.22,260.93 121.04,260.93 121.04,263.41 121.73,263.41 121.73,265.45 122.2,265.45 122.2,268.27 122.61,268.27 122.61,270.74 122.96,270.74 122.96,272.86 123.18,272.86 123.18,274.18 124.04,274.18 124.04,276.46 124.9,276.46 124.9,278.77 125.36,278.77 125.36,280 126.17,280 126.17,281.62 127.2,281.62 127.2,283.67 128.27,283.67 128.27,285.82 128.27,285.82 128.27,285.82 129.63,285.82 129.63,287.61 131.08,287.61 131.08,289.52 132.9,289.52 132.9,291.93" stroke="#ffa826" stroke-width="1.05" fill="none" stroke-linejoin="round"/>
<polyline points="15,210.45 57,210.45 65.73,210.45 67.38,210.45 67.38,210.85 70.35,210.85 70.35,211.56 73.2,211.56 73.2,212.24 74.45,212.24 74.45,212.55 75.81,212.55 75.81,213.9 76.64,213.9 76.64,214.73 78.36,214.73 78.36,214.88 81.12,214.88 81.12,215.13 83.36,215.13 83.36,215.34 84.64,215.34 84.64,215.45 86.09,215.45 86.09,216.91 88.86,216.91 88.86,217.25 91.06,217.25 91.06,217.53 91.91,217.53 91.91,217.64 93.63,217.64 93.63,219.01 94.93,219.01 94.93,220.05 95.55,220.05 95.55,220.55 96.34,220.55 96.34,223.7 96.96,223.7 96.96,226.2 97,226.2 97,226.36 99.62,226.36 99.62,228.46 100.64,228.46 100.64,229.27 101.5,229.27 101.5,231.85 102.09,231.85 102.09,233.64 103.47,233.64 103.47,235.37 104.79,235.37 104.79,237.01 105,237.01 105,237.27 106.73,237.27 106.73,240.16 107.18,240.16 107.18,240.91 107.54,240.91 107.54,244.16 107.78,244.16 107.78,246.28 107.91,246.28 107.91,247.45 108.64,248 108.81,248 108.81,249.77 109.14,249.77 109.14,253.05 109.36,253.05 109.36,255.2 109.36,255.2 109.36,255.27 110.21,255.27 110.21,258.1 110.82,258.1 110.82,260.14 111.32,260.14 111.32,261.79 111.55,261.79 111.55,262.55 112.44,262.55 112.44,265.51 113.15,265.51 113.15,267.89 113.73,267.89 113.73,269.82 114.05,269.82 114.05,271.41 114.47,271.41 114.47,273.54 115.08,273.54 115.08,276.56 115.18,276.56 115.18,277.09 116.54,277.09 116.54,279.82 117.36,279.82 117.36,281.45 117.85,281.45 117.85,284.37 118.09,284.37 118.09,285.82 120.74,285.82 120.74,287.81 121,287.81 121,288 123.4,288 123.4,288.79 126.57,288.79 126.57,289.84 128.44,289.84 128.44,290.46 130.76,290.46 130.76,291.22 132.76,291.22 132.76,291.88 132.9,291.88 132.9,291.93" stroke="#c03cb8" stroke-width="1.05" fill="none" stroke-linejoin="round"/>
</g>
<path d="M15 210.45V292.3M132.9 210.45V292.3" fill="none" stroke="#c4c4c4" stroke-width="1.1" stroke-linecap="square"/>
<path d="M15 210.45H132.9M15 292.3H132.9" fill="none" stroke="#bebebe" stroke-width="0.75" stroke-linecap="square"/>
<text x="15" y="296.8" text-anchor="middle" class="t">0.0</text>
<text x="13.2" y="293.9" text-anchor="end" class="t">0.0</text>
<text x="38.58" y="296.8" text-anchor="middle" class="t">0.2</text>
<text x="13.2" y="277.53" text-anchor="end" class="t">0.2</text>
<text x="62.16" y="296.8" text-anchor="middle" class="t">0.4</text>
<text x="13.2" y="261.16" text-anchor="end" class="t">0.4</text>
<text x="85.74" y="296.8" text-anchor="middle" class="t">0.6</text>
<text x="13.2" y="244.79" text-anchor="end" class="t">0.6</text>
<text x="109.32" y="296.8" text-anchor="middle" class="t">0.8</text>
<text x="13.2" y="228.42" text-anchor="end" class="t">0.8</text>
<text x="132.9" y="296.8" text-anchor="middle" class="t">1.0</text>
<text x="13.2" y="212.05" text-anchor="end" class="t">1.0</text>
<text x="73.95" y="208.75" text-anchor="middle" class="b">Bicycle</text>
<text x="73.95" y="302.5" text-anchor="middle" class="b">Recall</text>
<text transform="translate(6.7 251.38) rotate(-90)" text-anchor="middle" class="b p">Precision</text>
</g>
<g>
<path d="M176.08 210.45V292.3M152.5 275.93H270.4M199.66 210.45V292.3M152.5 259.56H270.4M223.24 210.45V292.3M152.5 243.19H270.4M246.82 210.45V292.3M152.5 226.82H270.4" stroke="#e2e2e2" stroke-width="0.6" fill="none"/>
<path d="M152.5 292.3v1M152.5 292.3h-1M176.08 292.3v1M152.5 275.93h-1M199.66 292.3v1M152.5 259.56h-1M223.24 292.3v1M152.5 243.19h-1M246.82 292.3v1M152.5 226.82h-1M270.4 292.3v1M152.5 210.45h-1" stroke="#999" stroke-width="0.4" fill="none"/>
<clipPath id="cBoat"><rect x="152.5" y="210.45" width="117.9" height="81.85"/></clipPath>
<g clip-path="url(#cBoat)">
<polyline points="152.5,210.45 195,210.45 197.3,210.45 197.3,210.56 200.42,210.56 200.42,210.72 202.35,210.72 202.35,210.81 205.46,210.81 205.46,210.97 208.09,210.97 208.09,211.1 210.24,211.1 210.24,211.2 213.6,211.2 213.6,211.37 216.77,211.37 216.77,211.52 216.82,211.52 216.82,211.53 219.62,211.53 219.62,212.48 222.8,212.48 222.8,213.56 224.09,213.56 224.09,214 226.59,214 226.59,214.75 228.98,214.75 228.98,215.47 231.13,215.47 231.13,216.11 231.36,216.11 231.36,216.18 234.41,216.18 234.41,217.4 236.03,217.4 236.03,218.05 238.21,218.05 238.21,218.92 238.64,218.92 238.64,219.09 240.21,219.09 240.21,219.62 241.92,219.62 241.92,220.19 243,220.19 243,220.55 244.42,220.55 244.42,222.68 245.65,222.68 245.65,224.52 245.91,224.52 245.91,224.91 247.36,224.91 247.36,227.81 248.09,227.81 248.09,229.27 248.54,229.27 248.54,231.08 249.06,231.08 249.06,233.15 249.55,233.15 249.55,235.09 250.48,235.09 250.48,238.22 251.29,238.22 251.29,240.89 251.73,240.89 251.73,242.36 252.48,242.36 252.48,245.02 253.08,245.02 253.08,247.11 253.18,247.11 253.18,247.45 254.64,248 254.81,248 254.81,250.73 254.96,250.73 254.96,253.19 255.13,253.19 255.13,255.96 255.32,255.96 255.32,259.01 255.36,259.01 255.36,259.64 256.37,259.64 256.37,261.66 257.2,261.66 257.2,263.3 258.05,263.3 258.05,265.01 258.81,265.01 258.81,266.53 259,266.53 259,266.91 259.88,266.91 259.88,269.54 260.45,269.54 260.45,271.27 261.75,271.27 261.75,273.01 262.64,273.01 262.64,274.18 262.97,274.18 262.97,277.47 263.18,277.47 263.18,279.67 263.36,279.67 263.36,281.45 264.28,281.45 264.28,282.98 265.98,282.98 265.98,285.81 267.55,285.81 267.55,288.43 267.73,288.43 267.73,288.73 269.44,288.73 269.44,290.82 270.35,290.82 270.35,291.93" stroke="#ff4545" stroke-width="1.05" fill="none" stroke-linejoin="round"/>
<polyline points="152.5,210.45 154.55,210.55 156.69,210.55 156.69,212.69 156.73,212.69 156.73,212.73 160,213.27 161.8,213.27 161.8,214.71 162.73,214.71 162.73,215.45 182.91,215.45 185.09,215.45 185.09,217.64 202.55,217.64 203.66,217.64 203.66,219.03 204.73,219.03 204.73,220.36 205.18,219.82 208.48,219.82 208.48,220.23 211,220.23 211,220.55 213.87,220.55 213.87,220.9 216.15,220.9 216.15,221.19 216.82,221.19 216.82,221.27 219.68,221.27 219.68,221.56 222.84,221.56 222.84,221.88 224.09,221.88 224.09,222 225.69,222 225.69,222.8 227.37,222.8 227.37,223.64 229.56,223.64 229.56,224.74 229.91,224.74 229.91,224.91 232.5,224.91 232.5,226.64 234.27,226.64 234.27,227.82 237.59,227.82 237.59,228.37 238.64,228.37 238.64,228.55 240.19,228.55 240.19,229.13 241.83,229.13 241.83,229.74 244.45,229.74 244.45,230.73 245.69,230.73 245.69,231.96 247.28,231.96 247.28,233.56 247.36,233.56 247.36,233.64 249.12,233.64 249.12,236.27 250.27,236.27 250.27,238 250.69,238 250.69,240.1 251.05,240.1 251.05,241.91 251.69,241.91 251.69,245.09 251.73,245.09 251.73,245.27 253.18,245.27 253.18,248 253.29,248 253.29,249.76 253.48,249.76 253.48,252.83 253.6,252.83 253.6,254.64 253.77,254.64 253.77,257.47 253.91,257.47 253.91,259.64 255.19,259.64 255.19,262.19 256.09,262.19 256.09,264 257.07,264 257.07,265.31 258.27,265.31 258.27,266.91 258.67,266.91 258.67,270.12 258.93,270.12 258.93,272.15 259,272.15 259,272.73 259.7,272.73 259.7,274.47 260.52,274.47 260.52,276.51 261.42,276.51 261.42,278.77 261.91,278.77 261.91,280 263.07,280 263.07,282.32 264.42,282.32 264.42,285.03 264.82,285.03 264.82,285.82 267.05,285.82 267.05,288.29 269.25,288.29 269.25,290.72 270.35,290.72 270.35,291.93" stroke="#21b55c" stroke-width="1.05" fill="none" stroke-linejoin="round"/>
<polyline points="152.5,210.45 195,210.65 197.51,210.65 197.51,210.81 199.69,210.81 199.69,210.94 202.55,210.94 202.55,211.12 205.7,211.12 205.7,211.31 209.05,211.31 209.05,211.52 210.78,211.52 210.78,211.63 213.17,211.63 213.17,211.77 213.91,211.77 213.91,211.82 216.07,211.82 216.07,212.63 218.04,212.63 218.04,213.37 219.73,213.37 219.73,214 222,214 222,215.71 222.64,215.71 222.64,216.18 224.57,216.18 224.57,218.59 225.55,218.59 225.55,219.82 227.46,219.82 227.46,221.26 229.59,221.26 229.59,222.85 231.02,222.85 231.02,223.93 231.36,223.93 231.36,224.18 233.09,224.18 233.09,225.05 234.8,225.05 234.8,225.9 235.73,225.9 235.73,226.36 237.4,226.36 237.4,227.48 239.49,227.48 239.49,228.87 240.09,228.87 240.09,229.27 241.5,229.27 241.5,231.38 242.83,231.38 242.83,233.38 243,233.38 243,233.64 243.83,233.64 243.83,236.14 244.45,236.14 244.45,238 245.31,238 245.31,239.7 246.35,239.7 246.35,241.79 247.36,241.79 247.36,243.82 248.22,243.82 248.22,246.28 248.82,246.28 248.82,248 249.43,248 249.43,250.03 250.02,250.03 250.02,252 250.66,252 250.66,254.15 251,254.15 251,255.27 251.8,255.27 251.8,256.88 253.09,256.88 253.09,259.45 253.18,259.45 253.18,259.64 253.96,259.64 253.96,261.59 254.66,261.59 254.66,263.32 255.69,263.32 255.69,265.92 256.09,265.92 256.09,266.91 256.43,266.91 256.43,268.6 256.86,268.6 256.86,270.74 257.22,270.74 257.22,272.55 257.55,272.55 257.55,274.18 258.35,274.18 258.35,276.2 259.47,276.2 259.47,278.99 260.1,278.99 260.1,280.56 260.45,280.56 260.45,281.45 262.76,281.45 262.76,283.76 264.49,283.76 264.49,285.49 264.82,285.49 264.82,285.82 265.62,285.82 265.62,288.22 266.27,288.22 266.27,290.18 267.77,290.18 267.77,290.83 270.02,290.83 270.02,291.79 270.35,291.79 270.35,291.93" stroke="#4c4cf5" stroke-width="1.05" fill="none" stroke-linejoin="round"/>
<polyline points="152.5,210.45 195,210.65 197.66,210.65 197.66,210.79 199.61,210.79 199.61,210.89 202.22,210.89 202.22,211.02 204.18,211.02 204.18,211.11 206.18,211.11 206.18,211.21 208.4,211.21 208.4,211.32 210.96,211.32 210.96,211.45 213.83,211.45 213.83,211.6 217.02,211.6 217.02,211.76 218.27,211.76 218.27,211.82 220.19,211.82 220.19,212.3 222.5,212.3 222.5,212.87 224.07,212.87 224.07,213.27 226.69,213.27 226.69,213.92 227,213.92 227,214 229.48,214 229.48,214.62 232.72,214.62 232.72,215.43 232.82,215.43 232.82,215.45 234.75,215.45 234.75,217.87 235.73,217.87 235.73,219.09 236.55,219.09 236.55,222.38 237.17,222.38 237.17,224.85 237.18,224.85 237.18,224.91 239.29,224.91 239.29,227.02 240.09,227.02 240.09,227.82 241.41,227.82 241.41,230.45 242.22,230.45 242.22,232.08 243,232.08 243,233.64 243.85,233.64 243.85,235.35 244.63,235.35 244.63,236.9 245.18,236.9 245.18,238 246.08,238 246.08,240.39 247.01,240.39 247.01,242.89 247.36,242.89 247.36,243.82 248.64,243.82 248.64,246.26 249.55,246.26 249.55,248 249.7,248 249.7,251.03 249.82,251.03 249.82,253.52 249.93,253.52 249.93,255.76 250.06,255.76 250.06,258.33 250.21,258.33 250.21,261.31 250.27,261.31 250.27,262.55 250.55,262.55 250.55,265.82 250.75,265.82 250.75,268.24 250.88,268.24 250.88,269.86 251,269.86 251,271.27 251.72,271.27 251.72,273.67 252.64,273.67 252.64,276.73 253.18,276.73 253.18,278.55 253.37,278.55 253.37,280.47 253.63,280.47 253.63,283.04 253.81,283.04 253.81,284.87 253.91,284.87 253.91,285.82 256.85,285.82 256.85,286.66 259,286.66 259,287.27 261.36,287.27 261.36,288.45 263.01,288.45 263.01,289.28 264.82,289.28 264.82,290.18 267.6,290.18 267.6,291.06 270.17,291.06 270.17,291.87 270.35,291.87 270.35,291.93" stroke="#1fd2dc" stroke-width="1.05" fill="none" stroke-linejoin="round"/>
<polyline points="152.5,210.45 191.41,210.45 195,210.8 197.92,210.8 197.92,210.89 200.79,210.89 200.79,210.97 203.79,210.97 203.79,211.06 206.9,211.06 206.9,211.15 208.6,211.15 208.6,211.2 210.41,211.2 210.41,211.25 212.69,211.25 212.69,211.32 215.59,211.32 215.59,211.41 217.83,211.41 217.83,211.47 219.73,211.47 219.73,211.53 221.29,211.53 221.29,212.22 224.22,212.22 224.22,213.5 226.5,213.5 226.5,214.51 227,214.51 227,214.73 228.51,214.73 228.51,215.33 231.22,215.33 231.22,216.42 232.73,216.42 232.73,217.02 234.27,217.02 234.27,217.64 236.41,217.64 236.41,219.77 238.33,219.77 238.33,221.69 238.64,221.69 238.64,222 240.43,222 240.43,224.69 241.55,224.69 241.55,226.36 242.68,226.36 242.68,228.06 243.69,228.06 243.69,229.58 244.45,229.58 244.45,230.73 245.29,230.73 245.29,232.39 246.64,232.39 246.64,235.09 247.28,235.09 247.28,236.81 248.21,236.81 248.21,239.28 248.82,239.28 248.82,240.91 249.26,240.91 249.26,242.89 249.68,242.89 249.68,244.8 250.27,244.8 250.27,247.45 251,248 251.76,248 251.76,251.03 252.35,251.03 252.35,253.4 252.76,253.4 252.76,255.04 253.18,255.04 253.18,256.73 253.81,256.73 253.81,258.61 254.87,258.61 254.87,261.8 255.58,261.8 255.58,263.93 256.09,263.93 256.09,265.45 256.92,265.45 256.92,268.22 257.42,268.22 257.42,269.89 258.17,269.89 258.17,272.38 258.27,272.38 258.27,272.73 258.88,272.73 258.88,274.35 259.86,274.35 259.86,276.97 260.45,276.97 260.45,278.55 261.7,278.55 261.7,281.05 262.68,281.05 262.68,283 263.36,283 263.36,284.36 265.43,284.36 265.43,286.6 267.62,286.6 267.62,288.98 268.97,288.98 268.97,290.43 270.35,290.43 270.35,291.93" stroke="#f850dc" stroke-width="1.05" fill="none" stroke-linejoin="round"/>
<polyline points="152.5,210.45 177.85,210.45 178.44,211.68 195,211.53 197.54,211.53 197.54,211.66 200.7,211.66 200.7,211.83 202.84,211.83 202.84,211.95 204.45,211.95 204.45,212.04 207.74,212.04 207.74,212.21 211.03,212.21 211.03,212.39 213.91,212.39 213.91,212.55 215.93,212.55 215.93,213.56 218.09,213.56 218.09,214.64 219.73,214.64 219.73,215.45 221.95,215.45 221.95,216.94 224.09,216.94 224.09,218.36 227.2,218.36 227.2,219.53 229.91,219.53 229.91,220.55 231.46,220.55 231.46,222.09 232.6,222.09 232.6,223.23 233.97,223.23 233.97,224.6 234.27,224.6 234.27,224.91 235.82,224.91 235.82,227.23 237.18,227.23 237.18,229.27 237.99,229.27 237.99,232.5 238.59,232.5 238.59,234.91 238.64,234.91 238.64,235.09 240.34,235.09 240.34,237.65 241.25,237.65 241.25,239.02 241.55,239.02 241.55,239.45 243,239.45 243,241.63 244.45,241.63 244.45,243.82 246.34,243.82 246.34,246.53 247.36,246.53 247.36,248 248.26,248 248.26,250.69 249.22,250.69 249.22,253.57 249.74,253.57 249.74,255.12 250.27,255.12 250.27,256.73 251.06,256.73 251.06,259.35 251.98,259.35 251.98,262.43 252.45,262.43 252.45,264 252.78,264 252.78,266.64 253.03,266.64 253.03,268.59 253.18,268.59 253.18,269.82 253.47,291.64 270.35,291.93" stroke="#dcd232" stroke-width="1.05" fill="none" stroke-linejoin="round"/>
<polyline points="152.5,210.45 195,210.8 198.26,210.8 198.26,211.06 200.21,211.06 200.21,211.22 202.4,211.22 202.4,211.39 204.54,211.39 204.54,211.56 207.41,211.56 207.41,211.79 209.51,211.79 209.51,211.96 211.42,211.96 211.42,212.11 213.17,212.11 213.17,212.25 216.12,212.25 216.12,212.49 216.82,212.49 216.82,212.55 218.62,212.55 218.62,213.45 220.08,213.45 220.08,214.18 221.18,214.18 221.18,214.73 221.91,214.73 221.91,217.28 222.64,217.28 222.64,219.82 225.6,219.82 225.6,220.19 227.84,220.19 227.84,220.47 228.45,220.47 228.45,220.55 230.43,220.55 230.43,221.2 232.09,221.2 232.09,221.76 232.82,221.76 232.82,222 235.21,222 235.21,223.6 237.18,223.6 237.18,224.91 239.26,224.91 239.26,226.98 240.69,226.98 240.69,228.41 241.55,228.41 241.55,229.27 242.85,229.27 242.85,231.23 244.29,231.23 244.29,233.39 244.45,233.39 244.45,233.64 245.04,233.64 245.04,235.97 245.6,235.97 245.6,238.22 245.91,238.22 245.91,239.45 247.12,239.45 247.12,241.89 248.32,241.89 248.32,244.28 248.82,244.28 248.82,245.27 249.63,245.27 249.63,246.8 250.27,246.8 250.27,248 250.84,248 250.84,250.54 251.24,250.54 251.24,252.34 251.82,252.34 251.82,254.95 252.17,254.95 252.17,256.54 252.9,256.54 252.9,259.84 253.18,259.84 253.18,261.09 253.81,261.09 253.81,263.17 254.77,263.17 254.77,266.37 255.36,266.37 255.36,268.36 256.21,268.36 256.21,270.61 256.89,270.61 256.89,272.43 257.55,272.43 257.55,274.18 259,274.18 259,276.61 260.18,276.61 260.18,278.58 261.29,278.58 261.29,280.42 261.91,280.42 261.91,281.45 263.62,281.45 263.62,283.58 265.41,283.58 265.41,285.8 267.15,285.8 267.15,287.96 268.48,287.96 268.48,289.61 269.8,289.61 269.8,291.25 270.35,291.25 270.35,291.93" stroke="#e05a5a" stroke-width="1.05" fill="none" stroke-linejoin="round"/>
<polyline points="152.5,210.45 199.66,210.45 200.84,210.45 200.84,212.5 197.81,212.5 197.81,212.14 195.38,212.14 195.38,211.86 195,211.86 195,211.82 197.27,211.82 197.27,212.05 200.06,212.05 200.06,212.32 202.42,212.32 202.42,212.56 204.58,212.56 204.58,212.78 206.38,212.78 206.38,212.96 209.55,212.96 209.55,213.27 212.25,213.27 212.25,213.54 215.33,213.54 215.33,213.85 216.82,213.85 216.82,214 219.92,214 219.92,214.93 222.2,214.93 222.2,215.61 224.09,215.61 224.09,216.18 226.53,216.18 226.53,217.4 228.21,217.4 228.21,218.24 229.91,218.24 229.91,219.09 231.19,219.09 231.19,220.37 233.54,220.37 233.54,222.73 234.27,222.73 234.27,223.45 236.15,223.45 236.15,226.28 237.18,226.28 237.18,227.82 238.12,227.82 238.12,229.23 239.17,229.23 239.17,230.8 240.09,230.8 240.09,232.18 241.73,232.18 241.73,234.64 243,234.64 243,236.55 244.21,236.55 244.21,239.56 245.11,239.56 245.11,241.82 245.91,241.82 245.91,243.82 247.08,243.82 247.08,246.05 248.09,246.05 248.09,248 248.66,248 248.66,250 249.55,250 249.55,253.12 250.47,253.12 250.47,256.34 251,256.34 251,258.18 251.78,258.18 251.78,260.8 252.56,260.8 252.56,263.37 253.14,263.37 253.14,265.33 253.18,265.33 253.18,265.45 253.8,265.45 253.8,266.99 254.48,266.99 254.48,268.7 255.5,268.7 255.5,271.25 256.09,271.25 256.09,272.73 257.2,272.73 257.2,274.95 258.63,274.95 258.63,277.8 259.42,277.8 259.42,279.39 259.73,279.39 259.73,280 261.17,280 261.17,282.31 262.57,282.31 262.57,284.55 263.36,284.55 263.36,285.82 264.95,285.82 264.95,287.21 266.26,287.21 266.26,288.35 267.58,288.35 267.58,289.5 268.81,289.5 268.81,290.58 270.35,290.58 270.35,291.93" stroke="#ffa826" stroke-width="1.05" fill="none" stroke-linejoin="round"/>
<polyline points="152.5,210.45 191.41,210.45 195,210.8 196.91,210.8 196.91,210.89 199.54,210.89 199.54,211.01 201.92,211.01 201.92,211.12 204.41,211.12 204.41,211.24 206.11,211.24 206.11,211.32 208.14,211.32 208.14,211.41 210.84,211.41 210.84,211.54 213.52,211.54 213.52,211.66 215.26,211.66 215.26,211.75 216.82,211.75 216.82,211.82 219.8,211.82 219.8,213.01 221.38,213.01 221.38,213.64 223.6,213.64 223.6,214.53 224.09,214.53 224.09,214.73 226.29,214.73 226.29,216.1 228.39,216.1 228.39,217.42 229.91,217.42 229.91,218.36 231.58,218.36 231.58,219.41 233.77,219.41 233.77,220.78 235.73,220.78 235.73,222 237.18,222 237.18,224.9 238.44,224.9 238.44,227.43 238.64,227.43 238.64,227.82 239.93,227.82 239.93,229.76 241.01,229.76 241.01,231.37 241.55,231.37 241.55,232.18 242.53,232.18 242.53,233.91 243.47,233.91 243.47,235.54 244.45,235.54 244.45,237.27 245.62,237.27 245.62,240 246.64,240 246.64,242.36 247.4,242.36 247.4,245.03 248.09,245.03 248.09,247.45 248.82,248 249.36,248 249.36,251.28 249.89,251.28 249.89,254.4 250.19,254.4 250.19,256.23 250.27,256.23 250.27,256.73 250.41,256.73 250.41,258.68 250.55,258.68 250.55,260.58 250.72,260.58 250.72,262.97 250.92,262.97 250.92,265.84 251,265.84 251,266.91 251.97,266.91 251.97,270.15 252.76,270.15 252.76,272.78 253.18,272.78 253.18,274.18 253.81,274.18 253.81,276.68 254.28,276.68 254.28,278.57 254.64,278.57 254.64,280 256,280 256,280.91 256.82,280.91 256.82,281.45 257.17,281.45 257.17,283.55 257.55,283.55 257.55,285.82 259.56,285.82 259.56,286.83 261.63,286.83 261.63,287.86 263.36,287.86 263.36,288.73 266.07,288.73 266.07,289.97 268.02,289.97 268.02,290.86 270.34,290.86 270.34,291.92 270.35,291.92 270.35,291.93" stroke="#c03cb8" stroke-width="1.05" fill="none" stroke-linejoin="round"/>
</g>
<path d="M152.5 210.45V292.3M270.4 210.45V292.3" fill="none" stroke="#c4c4c4" stroke-width="1.1" stroke-linecap="square"/>
<path d="M152.5 210.45H270.4M152.5 292.3H270.4" fill="none" stroke="#bebebe" stroke-width="0.75" stroke-linecap="square"/>
<text x="152.5" y="296.8" text-anchor="middle" class="t">0.0</text>
<text x="150.7" y="293.9" text-anchor="end" class="t">0.0</text>
<text x="176.08" y="296.8" text-anchor="middle" class="t">0.2</text>
<text x="150.7" y="277.53" text-anchor="end" class="t">0.2</text>
<text x="199.66" y="296.8" text-anchor="middle" class="t">0.4</text>
<text x="150.7" y="261.16" text-anchor="end" class="t">0.4</text>
<text x="223.24" y="296.8" text-anchor="middle" class="t">0.6</text>
<text x="150.7" y="244.79" text-anchor="end" class="t">0.6</text>
<text x="246.82" y="296.8" text-anchor="middle" class="t">0.8</text>
<text x="150.7" y="228.42" text-anchor="end" class="t">0.8</text>
<text x="270.4" y="296.8" text-anchor="middle" class="t">1.0</text>
<text x="150.7" y="212.05" text-anchor="end" class="t">1.0</text>
<text x="211.45" y="208.75" text-anchor="middle" class="b">Boat</text>
<text x="211.45" y="302.5" text-anchor="middle" class="b">Recall</text>
<text transform="translate(144.2 251.38) rotate(-90)" text-anchor="middle" class="b p">Precision</text>
</g>
<g>
<path d="M313.08 210.45V292.3M289.5 275.93H407.4M336.66 210.45V292.3M289.5 259.56H407.4M360.24 210.45V292.3M289.5 243.19H407.4M383.82 210.45V292.3M289.5 226.82H407.4" stroke="#e2e2e2" stroke-width="0.6" fill="none"/>
<path d="M289.5 292.3v1M289.5 292.3h-1M313.08 292.3v1M289.5 275.93h-1M336.66 292.3v1M289.5 259.56h-1M360.24 292.3v1M289.5 243.19h-1M383.82 292.3v1M289.5 226.82h-1M407.4 292.3v1M289.5 210.45h-1" stroke="#999" stroke-width="0.4" fill="none"/>
<clipPath id="cCup"><rect x="289.5" y="210.45" width="117.9" height="81.85"/></clipPath>
<g clip-path="url(#cCup)">
<polyline points="289.62,210.45 292.59,210.45 292.59,210.51 294.32,210.51 294.32,210.54 297.48,210.54 297.48,210.6 300.27,210.6 300.27,210.65 302.16,210.65 302.16,210.69 304.72,210.69 304.72,210.74 307.53,210.74 307.53,210.79 309.22,210.79 309.22,210.83 312.44,210.83 312.44,210.89 314.86,210.89 314.86,210.93 317.71,210.93 317.71,210.99 321.06,210.99 321.06,211.05 324.07,211.05 324.07,211.11 325.75,211.11 325.75,211.14 327.67,211.14 327.67,211.18 329.8,211.18 329.8,211.22 330.64,211.22 330.64,211.24 332,211.82 335,211.82 335,211.92 338.25,211.92 338.25,212.03 341.22,212.03 341.22,212.13 344.01,212.13 344.01,212.22 345.77,212.22 345.77,212.28 348.84,212.28 348.84,212.38 351.19,212.38 351.19,212.46 353.82,212.46 353.82,212.55 355,212.55 355,213.73 356.73,213.73 356.73,215.45 359.19,215.45 359.19,215.81 362.33,215.81 362.33,216.26 364.17,216.26 364.17,216.52 366.86,216.52 366.86,216.9 366.91,216.9 366.91,216.91 369.11,216.91 369.11,218.74 370.45,218.74 370.45,219.86 371.27,219.86 371.27,220.55 373.68,220.55 373.68,221.35 375.64,221.35 375.64,222 376.84,222 376.84,223.81 378.08,223.81 378.08,225.66 378.55,225.66 378.55,226.36 378.75,226.36 378.75,228.84 378.92,228.84 378.92,230.9 379.18,230.9 379.18,234.02 379.27,234.02 379.27,235.09 380.67,235.09 380.67,237.33 381.95,237.33 381.95,239.38 382.91,239.38 382.91,240.91 384.43,240.91 384.43,243.19 385.82,243.19 385.82,245.27 385.27,245.27 385.27,247.33 385.09,247.33 385.09,248 386.06,248 386.06,250.92 386.66,250.92 386.66,252.7 387.22,252.7 387.22,254.38 387.87,254.38 387.87,256.34 388,256.34 388,256.73 388.6,256.73 388.6,259.11 389.02,259.11 389.02,260.79 389.78,260.79 389.78,263.84 390.18,263.84 390.18,265.45 390.61,265.45 390.61,267.15 391.27,267.15 391.27,269.81 391.82,269.81 391.82,271.99 392.3,271.99 392.3,273.94 392.36,273.94 392.36,274.18 393.65,274.18 393.65,276.76 394.41,276.76 394.41,278.28 395.27,278.28 395.27,280 396.48,280 396.48,282.42 397.99,282.42 397.99,285.44 398.91,285.44 398.91,287.27 400.37,287.27 400.37,288.07 401.78,288.07 401.78,288.85 404.45,288.85 404.45,290.31 406.08,290.31 406.08,291.21 407.4,291.21 407.4,291.93" stroke="#ff4545" stroke-width="1.05" fill="none" stroke-linejoin="round"/>
<polyline points="289.62,210.45 292.8,210.45 292.8,211.38 294.27,211.38 294.27,211.82 296.72,211.82 296.72,211.9 299.69,211.9 299.69,212 301.77,212 301.77,212.07 304.38,212.07 304.38,212.15 306.38,212.15 306.38,212.22 308.45,212.22 308.45,212.29 311.77,212.29 311.77,212.4 313.67,212.4 313.67,212.46 316.02,212.46 316.02,212.54 316.09,212.54 316.09,212.55 318.27,212.55 318.27,214.73 320.4,214.73 320.4,214.85 322.19,214.85 322.19,214.96 325.42,214.96 325.42,215.15 327.6,215.15 327.6,215.28 330.64,215.28 330.64,215.45 332,214.73 333.76,214.73 333.76,214.92 335.74,214.92 335.74,215.14 337.91,215.14 337.91,215.38 340.07,215.38 340.07,215.62 343.4,215.62 343.4,215.99 345.09,215.99 345.09,216.18 346.12,216.18 346.12,218.74 346.55,218.74 346.55,219.82 349.81,219.82 349.81,220.14 351.77,220.14 351.77,220.34 353.82,220.34 353.82,220.55 355.78,220.55 355.78,221.04 358.59,221.04 358.59,221.74 359.64,221.74 359.64,222 362.14,222 362.14,223.67 364,223.67 364,224.91 365.96,224.91 365.96,226.54 368.36,226.54 368.36,228.55 370.92,228.55 370.92,228.87 373.84,228.87 373.84,229.23 374.18,229.23 374.18,229.27 375.91,229.27 375.91,231.87 377.09,231.87 377.09,233.64 378.87,233.64 378.87,235.41 380.11,235.41 380.11,236.65 381.45,236.65 381.45,238 382.53,238 382.53,240.16 383.35,240.16 383.35,241.78 384.32,241.78 384.32,243.72 384.36,243.72 384.36,243.82 385.05,243.82 385.05,245.8 385.82,245.8 385.82,248 386.49,248 386.49,249.8 387.5,249.8 387.5,252.47 388,252.47 388,253.82 388.47,253.82 388.47,255.4 389.37,255.4 389.37,258.39 390.18,258.39 390.18,261.09 390.63,261.09 390.63,263.78 391.16,263.78 391.16,266.97 391.61,266.97 391.61,269.65 391.64,269.65 391.64,269.82 392.57,269.82 392.57,272.16 393.53,272.16 393.53,274.56 394.52,274.56 394.52,277.03 394.55,277.03 394.55,277.09 395.28,277.09 395.28,280.05 395.91,280.05 395.91,282.53 396,282.53 396,282.91 397.28,282.91 397.28,284.83 398.52,284.83 398.52,286.69 398.91,286.69 398.91,287.27 401.72,287.27 401.72,288.81 403.55,288.81 403.55,289.82 405.38,289.82 405.38,290.82 407.4,290.82 407.4,291.93" stroke="#21b55c" stroke-width="1.05" fill="none" stroke-linejoin="round"/>
<polyline points="289.62,210.45 291.36,210.45 291.36,211.09 293.93,211.09 293.93,211.24 296.13,211.24 296.13,211.37 297.91,211.37 297.91,211.48 299.51,211.48 299.51,211.57 301.68,211.57 301.68,211.7 303.75,211.7 303.75,211.82 305.63,211.82 305.63,211.93 307.73,211.93 307.73,212.05 309.57,212.05 309.57,212.16 311.74,212.16 311.74,212.29 314.33,212.29 314.33,212.44 316.09,212.44 316.09,212.55 318.85,212.55 318.85,212.96 321.24,212.96 321.24,213.32 323.72,213.32 323.72,213.69 325.95,213.69 325.95,214.02 327.87,214.02 327.87,214.31 330.25,214.31 330.25,214.67 330.64,214.67 330.64,214.73 332,214.73 333.78,214.73 333.78,215.02 336.99,215.02 336.99,215.56 340.11,215.56 340.11,216.08 341.77,216.08 341.77,216.35 343.79,216.35 343.79,216.69 345.09,216.69 345.09,216.91 347.42,216.91 347.42,217.78 349.55,217.78 349.55,218.58 350.91,218.58 350.91,219.09 353.73,219.09 353.73,220.5 355.42,220.5 355.42,221.35 356.73,221.35 356.73,222 358.72,222 358.72,223.5 360.24,223.5 360.24,224.63 362.55,224.63 362.55,226.36 364.11,226.36 364.11,227.92 365.73,227.92 365.73,229.55 366.91,229.55 366.91,230.73 368.21,230.73 368.21,232.03 369.94,232.03 369.94,233.75 371.27,233.75 371.27,235.09 372.44,235.09 372.44,236.25 374.8,236.25 374.8,238.62 375.64,238.62 375.64,239.45 377.6,239.45 377.6,241.42 378.99,241.42 378.99,242.81 380,242.81 380,243.82 381.43,243.82 381.43,245.46 383.14,245.46 383.14,247.43 383.64,247.43 383.64,248 385.21,248 385.21,250.52 386.58,250.52 386.58,252.71 387.27,252.71 387.27,253.82 389.14,253.82 389.14,256.61 390.18,256.61 390.18,258.18 391,258.18 391,260.64 391.76,260.64 391.76,262.91 392.51,262.91 392.51,265.16 393.09,265.16 393.09,266.91 393.61,266.91 393.61,269.51 394.01,269.51 394.01,271.52 394.44,271.52 394.44,273.68 394.55,273.68 394.55,274.18 395.98,274.18 395.98,277.06 397.26,277.06 397.26,279.61 397.45,279.61 397.45,280 397.82,280 397.82,282.17 398.13,282.17 398.13,284.06 398.18,284.06 398.18,284.36 399.14,284.36 399.14,286.92 400.21,286.92 400.21,289.78 400.36,289.78 400.36,290.18 402.73,290.18 402.73,290.77 405.98,290.77 405.98,291.57 407.4,291.57 407.4,291.93" stroke="#4c4cf5" stroke-width="1.05" fill="none" stroke-linejoin="round"/>
<polyline points="289.62,210.45 291.67,210.45 291.67,210.52 294,210.52 294,210.6 295.64,210.6 295.64,210.65 298.81,210.65 298.81,210.76 301.41,210.76 301.41,210.84 303.55,210.84 303.55,210.92 305.63,210.92 305.63,210.98 308.78,210.98 308.78,211.09 308.82,211.09 308.82,211.09 310.75,211.09 310.75,211.16 312.65,211.16 312.65,211.23 314.45,211.23 314.45,211.29 316.78,211.29 316.78,211.38 319,211.38 319,211.45 321.38,211.45 321.38,211.54 323.07,211.54 323.07,211.6 325.32,211.6 325.32,211.68 328.34,211.68 328.34,211.79 329.18,211.79 329.18,211.82 330.1,211.82 330.1,213.19 330.64,213.19 330.64,214 332,214.73 334.89,214.73 334.89,214.93 337.26,214.93 337.26,215.1 340.11,215.1 340.11,215.31 342.16,215.31 342.16,215.45 342.18,215.45 342.18,215.45 343.68,215.45 343.68,217.33 345.09,217.33 345.09,219.09 346.11,219.09 346.11,220.79 347.49,220.79 347.49,223.09 348.99,223.09 348.99,225.59 349.45,225.59 349.45,226.36 351,226.36 351,227.71 353.42,227.71 353.42,229.83 355.27,229.83 355.27,231.45 356.41,231.45 356.41,233.54 357.8,233.54 357.8,236.09 358.83,236.09 358.83,237.98 359.64,237.98 359.64,239.45 360.9,239.45 360.9,241.14 362.92,241.14 362.92,243.83 364,243.83 364,245.27 365.41,245.27 365.41,247.04 366.18,247.04 366.18,248 367.12,248 367.12,250.25 367.91,250.25 367.91,252.15 368.73,252.15 368.73,254.12 369.79,254.12 369.79,256.67 369.82,256.67 369.82,256.73 370,256.73 370,258.39 370.23,258.39 370.23,260.43 370.53,260.43 370.53,263.13 370.72,263.13 370.72,264.85 370.96,264.85 370.96,267.02 371.22,267.02 371.22,269.37 371.27,269.37 371.27,269.82 371.98,269.82 371.98,271.58 373.03,271.58 373.03,274.22 373.87,274.22 373.87,276.31 374.18,276.31 374.18,277.09 375.09,277.09 375.09,279.36 375.97,279.36 375.97,281.55 376.96,281.55 376.96,284.02 377.09,284.02 377.09,284.36 378.96,284.36 378.96,286.24 380,286.24 380,287.27 382.94,287.27 382.94,287.86 385.23,287.86 385.23,288.32 387.27,288.32 387.27,288.73 390.6,288.73 390.6,289.26 393.94,289.26 393.94,289.79 395.85,289.79 395.85,290.09 397.58,290.09 397.58,290.37 399.98,290.37 399.98,290.75 403,290.75 403,291.23 406.06,291.23 406.06,291.71 407.4,291.71 407.4,291.93" stroke="#1fd2dc" stroke-width="1.05" fill="none" stroke-linejoin="round"/>
<polyline points="289.62,210.45 293.01,210.45 293.01,210.62 295.29,210.62 295.29,210.74 297.94,210.74 297.94,210.88 299.88,210.88 299.88,210.97 302.63,210.97 302.63,211.11 304.92,211.11 304.92,211.23 307.82,211.23 307.82,211.38 310.26,211.38 310.26,211.5 313.04,211.5 313.04,211.65 315.83,211.65 315.83,211.79 317.95,211.79 317.95,211.9 319.72,211.9 319.72,211.99 322.6,211.99 322.6,212.13 324.53,212.13 324.53,212.23 326.34,212.23 326.34,212.33 328.78,212.33 328.78,212.45 330.64,212.45 330.64,212.55 332,213.27 334.25,213.27 334.25,213.39 336.13,213.39 336.13,213.48 337.99,213.48 337.99,213.57 341.07,213.57 341.07,213.73 344.31,213.73 344.31,213.89 346.3,213.89 346.3,213.99 346.55,213.99 346.55,214 348.55,214 348.55,214.67 350.31,214.67 350.31,215.25 350.91,215.25 350.91,215.45 352.57,215.45 352.57,216.49 353.95,216.49 353.95,217.36 356.63,217.36 356.63,219.03 356.73,219.03 356.73,219.09 359.51,219.09 359.51,220.95 361.05,220.95 361.05,221.97 361.09,221.97 361.09,222 363.34,222 363.34,223.13 364.87,223.13 364.87,223.89 365.45,223.89 365.45,224.18 367,224.18 367,226.11 368.17,226.11 368.17,227.58 368.36,227.58 368.36,227.82 369.62,227.82 369.62,229.7 371.03,229.7 371.03,231.82 371.27,231.82 371.27,232.18 373.99,232.18 373.99,233.99 375.64,233.99 375.64,235.09 377.13,235.09 377.13,237.08 378.14,237.08 378.14,238.43 379.55,238.43 379.55,240.32 380,240.32 380,240.91 380.62,240.91 380.62,242.42 381.27,242.42 381.27,244.01 382.4,244.01 382.4,246.75 382.91,246.75 382.91,248 383.6,248 383.6,250.76 384.15,250.76 384.15,252.97 384.78,252.97 384.78,255.49 385.09,255.49 385.09,256.73 385.61,256.73 385.61,259.15 386.21,259.15 386.21,261.97 386.78,261.97 386.78,264.61 387.15,264.61 387.15,266.34 387.27,266.34 387.27,266.91 387.53,266.91 387.53,268.7 387.82,268.7 387.82,270.77 388.13,270.77 388.13,272.91 388.52,272.91 388.52,275.63 388.73,275.63 388.73,277.09 389.52,277.09 389.52,280.27 390.07,280.27 390.07,282.47 390.18,282.47 390.18,282.91 392.03,282.91 392.03,284.14 393.5,284.14 393.5,285.12 394.55,285.12 394.55,285.82 395.91,285.82 395.91,287.87 397.35,287.87 397.35,290.02 397.45,290.02 397.45,290.18 400.67,290.18 400.67,290.75 402.77,290.75 402.77,291.11 405.32,291.11 405.32,291.56 407.4,291.56 407.4,291.93" stroke="#f850dc" stroke-width="1.05" fill="none" stroke-linejoin="round"/>
<polyline points="289.62,210.45 291.36,210.65 293.44,210.65 293.44,210.75 295.57,210.75 295.57,210.86 297.63,210.86 297.63,210.96 300.39,210.96 300.39,211.09 303.16,211.09 303.16,211.22 304.93,211.22 304.93,211.31 306.98,211.31 306.98,211.41 308.97,211.41 308.97,211.5 311.49,211.5 311.49,211.62 313.52,211.62 313.52,211.72 315.21,211.72 315.21,211.8 317.15,211.8 317.15,211.9 319.38,211.9 319.38,212 321.98,212 321.98,212.13 324.72,212.13 324.72,212.26 327.46,212.26 327.46,212.39 329.82,212.39 329.82,212.51 330.64,212.51 330.64,212.55 332,212.55 332,214 334.1,214 334.1,214.1 335.83,214.1 335.83,214.17 339.21,214.17 339.21,214.33 341.27,214.33 341.27,214.42 343.65,214.42 343.65,214.53 346.48,214.53 346.48,214.66 348,214.66 348,214.73 349.53,214.73 349.53,215.19 351.9,215.19 351.9,215.9 353.43,215.9 353.43,216.36 355.27,216.36 355.27,216.91 357.42,216.91 357.42,217.98 359.64,217.98 359.64,219.09 360.79,219.09 360.79,220.25 362.55,220.25 362.55,222 364.01,222 364.01,222.73 366.91,222.73 366.91,224.18 366.91,224.18 366.91,224.18 367.95,224.18 367.95,226.01 369.58,226.01 369.58,228.85 369.82,228.85 369.82,229.27 370.74,229.27 370.74,230.65 372.08,230.65 372.08,232.67 372.73,232.67 372.73,233.64 373.68,233.64 373.68,236.17 374.68,236.17 374.68,238.85 374.91,238.85 374.91,239.45 375.12,239.45 375.12,241.96 375.34,241.96 375.34,244.57 375.55,244.57 375.55,246.99 375.64,246.99 375.64,248 376.34,248 376.34,250.34 376.83,250.34 376.83,251.96 377.29,251.96 377.29,253.52 377.82,253.52 377.82,255.27 378.39,255.27 378.39,257.18 379.09,257.18 379.09,259.52 379.58,259.52 379.58,261.14 380,261.14 380,262.55 380.31,262.55 380.31,265.68 380.48,265.68 380.48,267.31 380.66,267.31 380.66,269.11 380.73,269.11 380.73,269.82 381.49,269.82 381.49,272.1 382.18,272.1 382.18,274.18 384.01,274.18 384.01,275.51 386.71,275.51 386.71,277.48 389.01,277.48 389.01,279.15 390.18,279.15 390.18,280 390.41,280 390.41,281.83 390.69,281.83 390.69,284.08 391.1,284.08 391.1,287.38 391.33,287.38 391.33,289.22 391.59,289.22 391.59,291.28 391.64,291.28 391.64,291.64 407.4,291.93" stroke="#dcd232" stroke-width="1.05" fill="none" stroke-linejoin="round"/>
<polyline points="289.62,210.45 291.36,210.45 293.03,210.45 293.03,210.59 295.25,210.59 295.25,210.78 297.08,210.78 297.08,210.93 300.29,210.93 300.29,211.21 303.05,211.21 303.05,211.44 305.95,211.44 305.95,211.69 308.82,211.69 308.82,211.93 311.66,211.93 311.66,212.17 314.71,212.17 314.71,212.43 316.09,212.43 316.09,212.55 317.76,212.55 317.76,212.8 319.94,212.8 319.94,213.12 322.85,213.12 322.85,213.56 324.57,213.56 324.57,213.82 326.49,213.82 326.49,214.11 329,214.11 329,214.48 330.64,214.48 330.64,214.73 332,214.73 334.54,214.73 334.54,215.63 336.88,215.63 336.88,216.47 338.6,216.47 338.6,217.08 340.2,217.08 340.2,217.66 342.18,217.66 342.18,218.36 344.18,218.36 344.18,221.11 345.88,221.11 345.88,223.45 347.75,223.45 347.75,226.02 348,226.02 348,226.36 350.68,226.36 350.68,228.37 352.07,228.37 352.07,229.42 353.82,229.42 353.82,230.73 356.2,230.73 356.2,233.11 357.48,233.11 357.48,234.39 358.18,234.39 358.18,235.09 358.36,235.09 358.36,238.26 358.55,238.26 358.55,241.57 358.72,241.57 358.72,244.59 358.87,244.59 358.87,247.3 358.91,247.3 358.91,248 359.12,248 359.12,250.15 359.38,250.15 359.38,252.7 359.64,252.7 359.64,255.26 359.64,255.26 359.64,255.27 360.67,255.27 360.67,257.33 361.5,257.33 361.5,259 362.55,259 362.55,261.09 407.4,291.93" stroke="#e05a5a" stroke-width="1.05" fill="none" stroke-linejoin="round"/>
<polyline points="289.62,210.45 298.64,210.45 298.93,216.18 300.82,216.18 300.82,217.35 316.09,216.91 319.38,216.91 319.38,217.07 321.09,217.07 321.09,217.16 323.23,217.16 323.23,217.27 325.66,217.27 325.66,217.39 327.84,217.39 327.84,217.5 329.87,217.5 329.87,217.6 330.64,217.6 330.64,217.64 332.36,217.64 332.36,217.85 334.89,217.85 334.89,218.17 337.63,218.17 337.63,218.52 340.89,218.52 340.89,218.93 342.18,218.93 342.18,219.09 344.47,219.09 344.47,220.81 346.92,220.81 346.92,222.65 348,222.65 348,223.45 349.86,223.45 349.86,224.85 351.46,224.85 351.46,226.05 353.26,226.05 353.26,227.4 353.82,227.4 353.82,227.82 354.99,227.82 354.99,228.99 356.66,228.99 356.66,230.66 358.02,230.66 358.02,232.02 359.64,232.02 359.64,233.64 360.95,233.64 360.95,234.95 362.55,234.95 362.55,236.55 364.35,236.55 364.35,237.45 366.26,237.45 366.26,238.4 366.91,238.4 366.91,238.73 368.08,238.73 368.08,240.19 369.09,240.19 369.09,241.46 369.82,241.46 369.82,242.36 371.15,242.36 371.15,244.69 372.48,244.69 372.48,247.03 372.73,247.03 372.73,247.45 373.45,248 374.5,248 374.5,249.68 376.12,249.68 376.12,252.26 377.09,252.26 377.09,253.82 378.16,253.82 378.16,255.96 379.23,255.96 379.23,258.09 380,258.09 380,259.64 381.01,259.64 381.01,262.34 381.8,262.34 381.8,264.44 382.18,264.44 382.18,265.45 383.49,265.45 383.49,268.58 384.34,268.58 384.34,270.64 385.48,270.64 385.48,273.37 385.82,273.37 385.82,274.18 387.48,274.18 387.48,276.96 389.21,276.96 389.21,279.83 390.18,279.83 390.18,281.45 391.85,281.45 391.85,283.68 393.52,283.68 393.52,285.91 394.55,285.91 394.55,287.27 396.07,287.27 396.07,287.83 398.4,287.83 398.4,288.67 401.04,288.67 401.04,289.62 403.3,289.62 403.3,290.44 405.62,290.44 405.62,291.28 407.4,291.28 407.4,291.93" stroke="#ffa826" stroke-width="1.05" fill="none" stroke-linejoin="round"/>
<polyline points="289.62,210.45 291.3,210.45 291.3,211.07 291.36,211.07 291.36,211.09 293.4,211.09 293.4,211.21 296.33,211.21 296.33,211.38 298.31,211.38 298.31,211.5 300.4,211.5 300.4,211.62 303.52,211.62 303.52,211.81 305.35,211.81 305.35,211.91 307.95,211.91 307.95,212.07 311.01,212.07 311.01,212.25 313.15,212.25 313.15,212.37 314.89,212.37 314.89,212.48 316.09,212.48 316.09,212.55 319.09,212.55 319.09,213.11 321.39,213.11 321.39,213.54 323.14,213.54 323.14,213.87 324.77,213.87 324.77,214.17 327.73,214.17 327.73,214.73 330,214.73 330,216.67 332,216.67 332,218.36 334.42,218.36 334.42,219.57 337.12,219.57 337.12,220.93 337.82,220.93 337.82,221.27 338.84,221.27 338.84,223.32 339.27,223.32 339.27,224.18 345.09,224.62 346.25,224.62 346.25,225.9 347.42,225.9 347.42,227.18 348,227.18 348,227.82 349.95,227.82 349.95,229.03 351.68,229.03 351.68,230.12 353.82,230.12 353.82,231.45 355.41,231.45 355.41,233.44 356.73,233.44 356.73,235.09 358.75,235.09 358.75,237.79 359.84,237.79 359.84,239.24 361.09,239.24 361.09,240.91 363.33,240.91 363.33,243.15 364.6,243.15 364.6,244.42 365.45,244.42 365.45,245.27 367.33,245.27 367.33,247.62 367.64,247.62 367.64,248 368.3,248 368.3,249.59 368.96,249.59 368.96,251.17 370.24,251.17 370.24,254.24 371.27,254.24 371.27,256.73 372.28,256.73 372.28,258.34 374.04,258.34 374.04,261.16 374.91,261.16 374.91,262.55 376.23,262.55 376.23,265.19 377.38,265.19 377.38,267.49 378.12,267.49 378.12,268.97 378.55,268.97 378.55,269.82 379.46,269.82 379.46,271.65 380.92,271.65 380.92,274.57 381.97,274.57 381.97,276.67 382.18,276.67 382.18,277.09 383.89,277.09 383.89,279.82 384.78,279.82 384.78,281.25 385.75,281.25 385.75,282.8 385.82,282.8 385.82,282.91 386.58,282.91 386.58,284.44 387.27,284.44 387.27,285.82 389.12,285.82 389.12,286.28 392.36,286.28 392.36,287.09 393.09,287.09 393.09,287.27 395.76,287.27 395.76,289.05 397.45,289.05 397.45,290.18 399.7,290.18 399.7,290.58 402.06,290.58 402.06,290.99 404.47,290.99 404.47,291.41 406.11,291.41 406.11,291.7 407.4,291.7 407.4,291.93" stroke="#c03cb8" stroke-width="1.05" fill="none" stroke-linejoin="round"/>
</g>
<path d="M289.5 210.45V292.3M407.4 210.45V292.3" fill="none" stroke="#c4c4c4" stroke-width="1.1" stroke-linecap="square"/>
<path d="M289.5 210.45H407.4M289.5 292.3H407.4" fill="none" stroke="#bebebe" stroke-width="0.75" stroke-linecap="square"/>
<text x="289.5" y="296.8" text-anchor="middle" class="t">0.0</text>
<text x="287.7" y="293.9" text-anchor="end" class="t">0.0</text>
<text x="313.08" y="296.8" text-anchor="middle" class="t">0.2</text>
<text x="287.7" y="277.53" text-anchor="end" class="t">0.2</text>
<text x="336.66" y="296.8" text-anchor="middle" class="t">0.4</text>
<text x="287.7" y="261.16" text-anchor="end" class="t">0.4</text>
<text x="360.24" y="296.8" text-anchor="middle" class="t">0.6</text>
<text x="287.7" y="244.79" text-anchor="end" class="t">0.6</text>
<text x="383.82" y="296.8" text-anchor="middle" class="t">0.8</text>
<text x="287.7" y="228.42" text-anchor="end" class="t">0.8</text>
<text x="407.4" y="296.8" text-anchor="middle" class="t">1.0</text>
<text x="287.7" y="212.05" text-anchor="end" class="t">1.0</text>
<text x="348.45" y="208.75" text-anchor="middle" class="b">Cup</text>
<text x="348.45" y="302.5" text-anchor="middle" class="b">Recall</text>
<text transform="translate(281.2 251.38) rotate(-90)" text-anchor="middle" class="b p">Precision</text>
</g>
<g>
<path d="M450.78 210.45V292.3M427.2 275.93H545.1M474.36 210.45V292.3M427.2 259.56H545.1M497.94 210.45V292.3M427.2 243.19H545.1M521.52 210.45V292.3M427.2 226.82H545.1" stroke="#e2e2e2" stroke-width="0.6" fill="none"/>
<path d="M427.2 292.3v1M427.2 292.3h-1M450.78 292.3v1M427.2 275.93h-1M474.36 292.3v1M427.2 259.56h-1M497.94 292.3v1M427.2 243.19h-1M521.52 292.3v1M427.2 226.82h-1M545.1 292.3v1M427.2 210.45h-1" stroke="#999" stroke-width="0.4" fill="none"/>
<clipPath id="cBottle"><rect x="427.2" y="210.45" width="117.9" height="81.85"/></clipPath>
<g clip-path="url(#cBottle)">
<polyline points="427.2,210.45 468,210.45 470.38,210.45 470.38,210.57 473.78,210.57 473.78,210.73 475.46,210.73 475.46,210.82 477.98,210.82 477.98,210.94 480.85,210.94 480.85,211.08 481.09,211.08 481.09,211.09 482.75,211.09 482.75,212.48 485.18,212.48 485.18,214.5 485.45,214.5 485.45,214.73 486.97,214.73 486.97,215.49 488.62,215.49 488.62,216.31 491.27,216.31 491.27,217.64 494.09,217.64 494.09,218.69 496.03,218.69 496.03,219.42 497.09,219.42 497.09,219.82 498.65,219.82 498.65,220.4 500.72,220.4 500.72,221.18 502.91,221.18 502.91,222 505.34,222 505.34,223.52 507.08,223.52 507.08,224.61 508.73,224.61 508.73,225.64 511.06,225.64 511.06,226.1 513.54,226.1 513.54,226.6 516,226.6 516,227.09 517.19,227.09 517.19,230.07 517.45,230.07 517.45,230.73 517.7,230.73 517.7,233.71 517.95,233.71 517.95,236.68 518.12,236.68 518.12,238.65 518.18,238.65 518.18,239.45 518.79,239.45 518.79,241.28 519.56,241.28 519.56,243.58 519.64,243.58 519.64,243.82 519.64,248 519.82,248 519.82,250.93 519.92,250.93 519.92,252.59 520.06,252.59 520.06,254.73 520.2,254.73 520.2,256.97 520.36,256.97 520.36,259.61 520.36,259.61 520.36,259.64 521.29,259.64 521.29,261.03 522.28,261.03 522.28,262.51 523.27,262.51 523.27,264 524.12,264 524.12,266.11 525.2,266.11 525.2,268.81 526.17,268.81 526.17,271.25 526.18,271.25 526.18,271.27 526.72,271.27 526.72,273.43 527.41,273.43 527.41,276.2 527.64,276.2 527.64,277.09 528.22,277.09 528.22,279.44 528.62,279.44 528.62,281.04 529.08,281.04 529.08,282.85 529.09,282.85 529.09,282.91 529.41,282.91 529.41,284.49 529.82,284.49 529.82,286.55 532.29,286.55 532.29,287.96 534.91,287.96 534.91,289.45 537.47,289.45 537.47,290.08 540.19,290.08 540.19,290.74 542.93,290.74 542.93,291.4 545.1,291.4 545.1,291.93" stroke="#ff4545" stroke-width="1.05" fill="none" stroke-linejoin="round"/>
<polyline points="427.2,210.45 468,210.45 471.01,210.45 471.01,210.65 473.16,210.65 473.16,210.8 475.6,210.8 475.6,210.96 478.46,210.96 478.46,211.15 481.58,211.15 481.58,211.36 483.31,211.36 483.31,211.48 485.69,211.48 485.69,211.64 487.81,211.64 487.81,211.78 488.36,211.78 488.36,211.82 489.97,211.82 489.97,212.89 491.92,212.89 491.92,214.19 492.73,214.19 492.73,214.73 494.07,214.73 494.07,216.74 495.49,216.74 495.49,218.87 495.64,218.87 495.64,219.09 497.37,219.09 497.37,220.39 498.55,220.39 498.55,221.27 500.23,221.27 500.23,222.68 501.87,222.68 501.87,224.05 502.91,224.05 502.91,224.91 504.34,224.91 504.34,226.34 506.28,226.34 506.28,228.28 507.27,228.28 507.27,229.27 508.47,229.27 508.47,231.08 509.93,231.08 509.93,233.26 510.18,233.26 510.18,233.64 510.93,233.64 510.93,235.87 511.62,235.87 511.62,237.95 511.64,237.95 511.64,238 512.51,238 512.51,240.33 513.51,240.33 513.51,243 513.82,243 513.82,243.82 514.25,248 514.55,255.27 515.22,255.27 515.22,257.53 515.88,257.53 515.88,259.72 516.73,259.72 516.73,262.55 517.14,262.55 517.14,265.43 517.43,265.43 517.43,267.44 517.81,267.44 517.81,270.15 518.18,270.15 518.18,272.7 518.18,272.7 518.18,272.73 519.5,272.73 519.5,274.71 521.09,274.71 521.09,277.09 521.44,277.09 521.44,279.88 521.82,279.88 521.82,282.9 521.82,282.9 521.82,282.91 524.05,282.91 524.05,284.39 525.64,284.39 525.64,285.45 526.18,285.45 526.18,285.82 527.12,285.82 527.12,288.64 527.64,288.64 527.64,290.18 529.84,290.18 529.84,290.4 533.08,290.4 533.08,290.73 536.02,290.73 536.02,291.02 537.9,291.02 537.9,291.21 540.76,291.21 540.76,291.49 543.31,291.49 543.31,291.75 545.1,291.75 545.1,291.93" stroke="#21b55c" stroke-width="1.05" fill="none" stroke-linejoin="round"/>
<polyline points="427.2,210.45 468,210.45 471.2,210.45 471.2,210.55 473.74,210.55 473.74,210.63 476.17,210.63 476.17,210.71 478.47,210.71 478.47,210.78 480.99,210.78 480.99,210.86 483.57,210.86 483.57,210.94 486.88,210.94 486.88,211.04 488.36,211.04 488.36,211.09 491.41,211.09 491.41,212.23 493.15,212.23 493.15,212.89 494.18,212.89 494.18,213.27 496.58,213.27 496.58,214.87 498.55,214.87 498.55,216.18 500.48,216.18 500.48,217.8 502.28,217.8 502.28,219.29 502.91,219.29 502.91,219.82 504.02,219.82 504.02,221.11 505.33,221.11 505.33,222.64 507.21,222.64 507.21,224.84 507.27,224.84 507.27,224.91 508.08,224.91 508.08,226.32 509.71,226.32 509.71,229.18 510.18,229.18 510.18,230 511.58,230 511.58,231.74 513.04,231.74 513.04,233.58 513.09,233.58 513.09,233.64 514.54,233.64 514.54,234.61 515.27,234.61 515.27,235.09 515.54,235.09 515.54,238.35 515.79,238.35 515.79,241.33 516,241.33 516,243.82 516.37,243.82 516.37,245.97 516.73,245.97 516.73,248 517,248 517,251.33 517.24,251.33 517.24,254.13 517.39,254.13 517.39,255.93 517.45,255.93 517.45,256.73 517.59,256.73 517.59,259.23 517.69,259.23 517.69,261 517.79,261 517.79,262.81 517.95,262.81 517.95,265.59 518.04,265.59 518.04,267.21 518.13,267.21 518.13,268.85 518.18,268.85 518.18,269.82 519.03,269.82 519.03,271.51 519.82,271.51 519.82,273.1 520.36,273.1 520.36,274.18 521.46,274.18 521.46,275.64 522.55,275.64 522.55,277.09 522.98,287.27 524.07,287.27 524.07,289.09 524.73,289.09 524.73,290.18 527.59,290.18 527.59,290.43 530.53,290.43 530.53,290.68 533.58,290.68 533.58,290.94 536.6,290.94 536.6,291.2 538.78,291.2 538.78,291.39 540.88,291.39 540.88,291.57 543.32,291.57 543.32,291.77 545.1,291.77 545.1,291.93" stroke="#4c4cf5" stroke-width="1.05" fill="none" stroke-linejoin="round"/>
<polyline points="427.2,210.45 456.09,210.45 456.68,212.09 466.11,212.09 467.88,212.09 467.88,213.72 470.28,213.72 470.28,215.06 470.82,215.06 470.82,215.36 468.97,215.36 468.97,213.99 468,213.99 468,213.27 470,213.27 470,214.07 472.36,214.07 472.36,215.02 472.36,215.02 472.36,215.02 478.91,215.45 480.4,215.45 480.4,217.94 481.09,217.94 481.09,219.09 482.61,219.09 482.61,220.61 484,220.61 484,222 485.85,222 485.85,222.62 488.31,222.62 488.31,223.44 488.36,223.44 488.36,223.45 489.22,223.45 489.22,225.73 489.91,225.73 489.91,227.58 490.55,227.58 490.55,229.27 490.92,229.27 490.92,231.15 491.27,231.15 491.27,232.91 493.59,232.91 493.59,234.65 494.18,234.65 494.18,235.09 495.37,235.09 495.37,237.48 496.86,237.48 496.86,240.44 497.09,240.44 497.09,240.91 497.61,240.91 497.61,243.26 498.04,243.26 498.04,245.19 498.55,245.19 498.55,247.45 499.02,247.45 499.02,250.66 499.27,250.66 499.27,252.36 499.71,268.36 500.61,268.36 500.61,270.4 501.69,270.4 501.69,272.86 502.67,272.86 502.67,275.09 502.91,275.09 502.91,275.64 504.3,275.64 504.3,278.41 505.56,278.41 505.56,280.93 505.82,280.93 505.82,281.45 506.68,281.45 506.68,283.75 507.79,283.75 507.79,286.73 508,286.73 508,287.27 509.8,287.27 509.8,289.07 510.18,289.07 510.18,289.45 513.47,289.45 513.47,289.66 515.24,289.66 515.24,289.77 518.28,289.77 518.28,289.96 520.55,289.96 520.55,290.1 522.39,290.1 522.39,290.22 524.86,290.22 524.86,290.37 527.84,290.37 527.84,290.56 531.21,290.56 531.21,290.77 533.37,290.77 533.37,290.9 536.74,290.9 536.74,291.11 539.51,291.11 539.51,291.29 542.65,291.29 542.65,291.48 545.1,291.48 545.1,291.64" stroke="#1fd2dc" stroke-width="1.05" fill="none" stroke-linejoin="round"/>
<polyline points="427.2,210.45 462.57,210.45 465.3,210.45 465.3,210.77 468,210.77 468,211.09 470.11,211.09 470.11,211.3 473.04,211.3 473.04,211.59 475.51,211.59 475.51,211.84 478.13,211.84 478.13,212.1 480.2,212.1 480.2,212.31 481.86,212.31 481.86,212.48 482.55,212.48 482.55,212.55 483.88,212.55 483.88,213.55 485.63,213.55 485.63,214.86 487.65,214.86 487.65,216.38 488.36,216.38 488.36,216.91 490.96,216.91 490.96,218.53 493.42,218.53 493.42,220.07 494.18,220.07 494.18,220.55 496.52,220.55 496.52,221.72 497.09,221.72 497.09,222 498.13,222 498.13,224.77 498.81,224.77 498.81,226.59 499.27,226.59 499.27,227.82 500.05,227.82 500.05,230.92 500.73,230.92 500.73,233.64 501.51,233.64 501.51,236.78 502.32,236.78 502.32,240.01 502.91,240.01 502.91,242.36 504.05,242.36 504.05,245.31 505.02,245.31 505.02,247.8 505.09,247.8 505.09,248 506.08,248 506.08,250.95 507.03,250.95 507.03,253.81 507.75,253.81 507.75,255.99 508,255.99 508,256.73 508.72,256.73 508.72,259.61 509.46,259.61 509.46,262.56 510.18,262.56 510.18,265.45 510.71,265.45 510.71,268.08 511.1,268.08 511.1,270.05 511.44,270.05 511.44,271.74 511.64,271.74 511.64,272.73 512.67,272.73 512.67,274.28 514.39,274.28 514.39,276.85 514.55,276.85 514.55,277.09 514.77,277.09 514.77,279.75 514.92,279.75 514.92,281.57 515.09,281.57 515.09,283.62 515.27,283.62 515.27,285.82 516.61,285.82 516.61,287.6 517.45,287.6 517.45,288.73 519.22,288.73 519.22,290.67 520.36,290.67 520.36,291.93 545.1,291.93" stroke="#f850dc" stroke-width="1.05" fill="none" stroke-linejoin="round"/>
<polyline points="427.2,210.45 462.57,210.45 465.33,210.45 465.33,211 467.95,211 467.95,211.52 468,211.52 468,211.53 469.89,211.53 469.89,211.81 472.2,211.81 472.2,212.16 474.7,212.16 474.7,212.53 477.82,212.53 477.82,213 479.46,213 479.46,213.25 479.64,213.25 479.64,213.27 481.79,213.27 481.79,214.89 483.46,214.89 483.46,216.14 484.99,216.14 484.99,217.29 485.45,217.29 485.45,217.64 487.78,217.64 487.78,218.8 490.11,218.8 490.11,219.96 491.27,219.96 491.27,220.55 493.11,220.55 493.11,221.77 494.53,221.77 494.53,222.72 495.64,222.72 495.64,223.45 496.81,223.45 496.81,225.01 497.81,225.01 497.81,226.35 497.82,226.35 497.82,226.36 498.33,226.36 498.33,228.43 498.74,228.43 498.74,230.07 499.27,230.07 499.27,232.18 499.49,232.18 499.49,234.37 499.65,234.37 499.65,235.96 499.96,235.96 499.96,239.03 500,239.03 500,239.45 500.91,239.45 500.91,242.12 501.92,242.12 501.92,245.09 502.67,245.09 502.67,247.29 502.91,247.29 502.91,248 503.18,248 503.18,251.29 503.43,251.29 503.43,254.26 503.64,254.26 503.64,256.73 503.74,256.73 503.74,258.53 503.85,258.53 503.85,260.58 504.01,260.58 504.01,263.43 504.18,263.43 504.18,266.45 504.28,266.45 504.28,268.31 504.36,268.31 504.36,269.82 505.07,269.82 505.07,271.69 505.83,271.69 505.83,273.73 506.55,273.73 506.55,275.64 508.39,275.64 508.39,277.48 510.21,277.48 510.21,279.3 510.91,279.3 510.91,280 511.14,280 511.14,283.21 511.35,283.21 511.35,286.11 511.55,286.11 511.55,288.94 511.64,288.94 511.64,290.18 513.03,290.18 513.03,291.85 513.09,291.85 513.09,291.93 545.1,291.93" stroke="#dcd232" stroke-width="1.05" fill="none" stroke-linejoin="round"/>
<polyline points="427.2,210.45 444.3,210.45 444.88,211.84 466.11,211.84 468,211.84 468,211.09 470.5,211.09 470.5,211.51 473.42,211.51 473.42,211.99 475.75,211.99 475.75,212.38 478.58,212.38 478.58,212.85 481.09,212.85 481.09,213.27 483.43,213.27 483.43,215.61 485.45,215.61 485.45,217.64 487.72,217.64 487.72,219.9 489.02,219.9 489.02,221.2 489.82,221.2 489.82,222 490.81,222 490.81,223.98 491.98,223.98 491.98,226.32 492.73,226.32 492.73,227.82 493.42,227.82 493.42,229.66 494.29,229.66 494.29,231.97 494.88,231.97 494.88,233.57 494.91,233.57 494.91,233.64 495.48,233.64 495.48,235.55 496.4,235.55 496.4,238.62 496.92,238.62 496.92,240.34 497.09,240.34 497.09,240.91 497.76,240.91 497.76,243.07 498.59,243.07 498.59,245.79 499.27,245.79 499.27,248 499.7,248 499.7,250.59 500.05,250.59 500.05,252.68 500.45,252.68 500.45,255.07 500.73,255.07 500.73,256.73 500.99,256.73 500.99,258.31 501.39,258.31 501.39,260.7 501.92,260.7 501.92,263.88 502.18,263.88 502.18,265.45 545.1,291.93" stroke="#e05a5a" stroke-width="1.05" fill="none" stroke-linejoin="round"/>
<polyline points="427.2,210.45 466.11,210.45 466.7,212.5 468,212.55 471.03,212.55 471.03,212.8 473.97,212.8 473.97,213.04 475.73,213.04 475.73,213.19 476.73,213.19 476.73,213.27 478.43,213.27 478.43,214.97 480.66,214.97 480.66,217.2 482.55,217.2 482.55,219.09 484.75,219.09 484.75,220.56 486.91,220.56 486.91,222 488.18,222 488.18,223.91 489.82,223.91 489.82,226.36 491.49,226.36 491.49,228.87 492.47,228.87 492.47,230.35 492.73,230.35 492.73,230.73 494.56,230.73 494.56,233.48 495.64,233.48 495.64,235.09 496.74,235.09 496.74,237.29 497.53,237.29 497.53,238.88 498.55,238.88 498.55,240.91 499.72,240.91 499.72,244.03 500.7,244.03 500.7,246.64 500.73,246.64 500.73,246.73 502.18,246.73 502.18,248 503.66,248 503.66,250.36 505.42,250.36 505.42,253.18 505.82,253.18 505.82,253.82 506.27,253.82 506.27,255.64 506.7,255.64 506.7,257.33 507.31,257.33 507.31,259.77 507.89,259.77 507.89,262.11 508,262.11 508,262.55 508.83,262.55 508.83,265.31 509.53,265.31 509.53,267.66 510.18,267.66 510.18,269.82 510.66,269.82 510.66,272.22 511.18,272.22 511.18,274.81 511.64,274.81 511.64,277.09 511.85,277.09 511.85,279.69 512.08,279.69 512.08,282.39 512.29,282.39 512.29,284.95 512.36,284.95 512.36,285.82 514.09,285.82 514.09,287.89 515.43,287.89 515.43,289.5 516,289.5 516,290.18 517.67,290.18 517.67,290.28 519.41,290.28 519.41,290.39 522.34,290.39 522.34,290.56 525.17,290.56 525.17,290.73 527.53,290.73 527.53,290.87 530.64,290.87 530.64,291.06 533.14,291.06 533.14,291.21 536.27,291.21 536.27,291.4 538.98,291.4 538.98,291.56 541.03,291.56 541.03,291.68 543.16,291.68 543.16,291.81 545.1,291.81 545.1,291.93" stroke="#ffa826" stroke-width="1.05" fill="none" stroke-linejoin="round"/>
<polyline points="427.2,210.45 462.57,210.45 465.17,210.45 465.17,210.76 467.28,210.76 467.28,211.01 468,211.01 468,211.09 469.78,211.09 469.78,211.31 473.03,211.31 473.03,211.72 475.51,211.72 475.51,212.03 478.78,212.03 478.78,212.44 479.64,212.44 479.64,212.55 482.01,212.55 482.01,214.92 483.77,214.92 483.77,216.68 484,216.68 484,216.91 485.6,216.91 485.6,218.24 486.88,218.24 486.88,219.31 488.36,219.31 488.36,220.55 489.64,220.55 489.64,222.45 491.27,222.45 491.27,224.91 492.12,224.91 492.12,226.6 493.39,226.6 493.39,229.14 494.18,229.14 494.18,230.73 495.09,230.73 495.09,233.16 496.2,233.16 496.2,236.1 496.36,236.1 496.36,236.55 496.78,236.55 496.78,238.2 497.24,238.2 497.24,240.04 497.82,240.04 497.82,242.36 498.09,242.36 498.09,244.44 498.39,244.44 498.39,246.8 498.55,246.8 498.55,248 499.35,248 499.35,251.21 500.1,251.21 500.1,254.21 500.59,254.21 500.59,256.16 500.73,256.16 500.73,256.73 501.81,256.73 501.81,258.9 503.19,258.9 503.19,261.65 504.36,261.65 504.36,264 505.12,264 505.12,265.52 506.49,265.52 506.49,268.25 507.27,268.25 507.27,269.82 508.69,269.82 508.69,272.66 509.84,272.66 509.84,274.94 510.18,274.94 510.18,275.64 510.58,275.64 510.58,277.64 511.23,277.64 511.23,280.88 511.55,280.88 511.55,282.47 511.64,282.47 511.64,282.91 513.52,282.91 513.52,285.73 514.55,285.73 514.55,287.27 517.08,287.27 517.08,289.38 518.91,289.38 518.91,290.91 521.46,290.91 521.46,291.01 524.1,291.01 524.1,291.11 526.46,291.11 526.46,291.2 529.18,291.2 529.18,291.31 531.76,291.31 531.76,291.41 533.92,291.41 533.92,291.49 536.3,291.49 536.3,291.59 539.21,291.59 539.21,291.7 542.45,291.7 542.45,291.82 545.1,291.82 545.1,291.93" stroke="#c03cb8" stroke-width="1.05" fill="none" stroke-linejoin="round"/>
</g>
<path d="M427.2 210.45V292.3M545.1 210.45V292.3" fill="none" stroke="#c4c4c4" stroke-width="1.1" stroke-linecap="square"/>
<path d="M427.2 210.45H545.1M427.2 292.3H545.1" fill="none" stroke="#bebebe" stroke-width="0.75" stroke-linecap="square"/>
<text x="427.2" y="296.8" text-anchor="middle" class="t">0.0</text>
<text x="425.4" y="293.9" text-anchor="end" class="t">0.0</text>
<text x="450.78" y="296.8" text-anchor="middle" class="t">0.2</text>
<text x="425.4" y="277.53" text-anchor="end" class="t">0.2</text>
<text x="474.36" y="296.8" text-anchor="middle" class="t">0.4</text>
<text x="425.4" y="261.16" text-anchor="end" class="t">0.4</text>
<text x="497.94" y="296.8" text-anchor="middle" class="t">0.6</text>
<text x="425.4" y="244.79" text-anchor="end" class="t">0.6</text>
<text x="521.52" y="296.8" text-anchor="middle" class="t">0.8</text>
<text x="425.4" y="228.42" text-anchor="end" class="t">0.8</text>
<text x="545.1" y="296.8" text-anchor="middle" class="t">1.0</text>
<text x="425.4" y="212.05" text-anchor="end" class="t">1.0</text>
<text x="486.15" y="208.75" text-anchor="middle" class="b">Bottle</text>
<text x="486.15" y="302.5" text-anchor="middle" class="b">Recall</text>
<text transform="translate(418.9 251.38) rotate(-90)" text-anchor="middle" class="b p">Precision</text>
</g>
<g>
<path d="M38.58 314.6V396.5M15 380.12H132.9M62.16 314.6V396.5M15 363.74H132.9M85.74 314.6V396.5M15 347.36H132.9M109.32 314.6V396.5M15 330.98H132.9" stroke="#e2e2e2" stroke-width="0.6" fill="none"/>
<path d="M15 396.5v1M15 396.5h-1M38.58 396.5v1M15 380.12h-1M62.16 396.5v1M15 363.74h-1M85.74 396.5v1M15 347.36h-1M109.32 396.5v1M15 330.98h-1M132.9 396.5v1M15 314.6h-1" stroke="#999" stroke-width="0.4" fill="none"/>
<clipPath id="cTable"><rect x="15" y="314.6" width="117.9" height="81.9"/></clipPath>
<g clip-path="url(#cTable)">
<polyline points="15,314.64 20,314.64 20.29,321.18 22.61,321.18 22.61,321.72 25.39,321.72 25.39,322.37 26.55,322.37 26.55,322.64 29.47,322.64 29.47,324.1 31.26,324.1 31.26,324.99 32.36,324.99 32.36,325.55 34.75,325.55 34.75,326.14 37.31,326.14 37.31,326.78 38.18,326.78 38.18,327 40.22,327 40.22,328.02 42.35,328.02 42.35,329.09 44,329.09 44,329.91 45.62,329.91 45.62,330.11 48.13,330.11 48.13,330.43 49.82,330.43 49.82,330.64 52.44,330.64 52.44,331.62 54.1,331.62 54.1,332.24 55.64,332.24 55.64,332.82 58.18,332.82 58.18,333.43 59.98,333.43 59.98,333.87 62.41,333.87 62.41,334.46 64.04,334.46 64.04,334.85 64.27,334.85 64.27,334.91 67.35,334.91 67.35,336.14 70.3,336.14 70.3,337.32 71.55,337.32 71.55,337.82 73.14,337.82 73.14,338.82 75.95,338.82 75.95,340.57 77.36,340.57 77.36,341.45 78.92,341.45 78.92,343.01 81.27,343.01 81.27,345.36 81.73,345.36 81.73,345.82 90.45,345.82 92.21,345.82 92.21,346.91 94.81,346.91 94.81,348.54 96.27,348.54 96.27,349.45 97.28,349.45 97.28,352.68 98.05,352.68 98.05,355.18 98.61,355.18 98.61,356.98 99.18,356.98 99.18,358.82 100.12,358.82 100.12,360.39 100.95,360.39 100.95,361.77 102.62,361.77 102.62,364.55 103.55,364.55 103.55,366.09 105.41,366.09 105.41,368.89 106.45,368.89 106.45,370.45 108.23,370.45 108.23,373.3 109.74,373.3 109.74,375.72 110.09,375.72 110.09,376.27 110.76,376.27 110.76,378.05 111.75,378.05 111.75,380.7 112.27,380.7 112.27,382.09 113.83,382.09 113.83,384.17 115.06,384.17 115.06,385.8 116.62,385.8 116.62,387.89 116.64,387.89 116.64,387.91 117.99,387.91 117.99,389.49 120.02,389.49 120.02,391.86 121,391.86 121,393 123.57,393 123.57,393.72 125.29,393.72 125.29,394.21 127.78,394.21 127.78,394.91 130.04,394.91 130.04,395.54 132.8,395.54 132.8,396.32 132.9,396.32 132.9,396.35" stroke="#ff4545" stroke-width="1.05" fill="none" stroke-linejoin="round"/>
<polyline points="15,314.64 19.27,314.64 19.56,324.09 21.99,324.09 21.99,324.34 24.66,324.34 24.66,324.62 26.55,324.62 26.55,324.82 28.59,324.82 28.59,325.16 30.91,325.16 30.91,325.55 34.17,325.55 34.17,326.2 36.75,326.2 36.75,326.71 38.18,326.71 38.18,327 40.02,327 40.02,326.74 42.35,326.74 42.35,326.4 43.27,326.4 43.27,326.27 45.02,326.27 45.02,326.62 46.91,326.62 46.91,327 49.6,327 49.6,327.54 52.53,327.54 52.53,328.12 54.18,328.12 54.18,328.45 56.18,328.45 56.18,330.46 57.09,330.46 57.09,331.36 57.91,331.36 57.91,334.23 58.55,334.23 58.55,336.45 59.83,336.45 59.83,338.41 61.23,338.41 61.23,340.53 61.36,340.53 61.36,340.73 63.87,340.73 63.87,341.98 65.51,341.98 65.51,342.8 67.13,342.8 67.13,343.61 67.18,343.61 67.18,343.64 69.29,343.64 69.29,344.16 71.23,344.16 71.23,344.65 73,344.65 73,345.09 75.86,345.09 75.86,345.38 78.5,345.38 78.5,345.64 80.27,345.64 80.27,345.82 82.2,345.82 82.2,346.54 83.9,346.54 83.9,347.18 86.09,347.18 86.09,348 88,348 88,349.27 90,349.27 90,350.61 90.45,350.61 90.45,350.91 91.84,350.91 91.84,352.49 94.05,352.49 94.05,355.03 94.82,355.03 94.82,355.91 95.91,355.91 95.91,358.82 96.9,358.82 96.9,361.46 97,361.46 97,361.73 98.3,361.73 98.3,363.28 99.49,363.28 99.49,364.71 100.55,364.71 100.55,365.98 100.64,365.98 100.64,366.09 102.91,366.09 102.91,367.61 104.76,367.61 104.76,368.84 105,368.84 105,369 105.35,369 105.35,371.79 105.62,371.79 105.62,373.95 105.73,373.95 105.73,374.82 107.5,374.82 107.5,376 107.91,376 107.91,376.27 108.51,376.27 108.51,378.66 109.15,378.66 109.15,381.22 109.36,381.22 109.36,382.09 110.8,382.09 110.8,383.53 112.37,383.53 112.37,385.1 113.73,385.1 113.73,386.45 115.75,386.45 115.75,388.48 117.2,388.48 117.2,389.92 119.08,389.92 119.08,391.81 119.55,391.81 119.55,392.27 122.07,392.27 122.07,393.04 124.72,393.04 124.72,393.85 127.78,393.85 127.78,394.78 129.49,394.78 129.49,395.3 131.43,395.3 131.43,395.9 132.9,395.9 132.9,396.35" stroke="#21b55c" stroke-width="1.05" fill="none" stroke-linejoin="round"/>
<polyline points="15,314.64 17.53,314.64 17.82,321.18 26.55,321.47 28.36,321.47 28.36,321.95 31.54,321.95 31.54,322.77 33.82,322.77 33.82,323.36 35.47,323.36 35.47,323.53 37.43,323.53 37.43,323.72 39.87,323.72 39.87,323.97 41.09,323.97 41.09,324.09 42.12,324.09 42.12,325.8 43.27,325.8 43.27,327.73 45.52,327.73 45.52,328.37 47.69,328.37 47.69,328.99 48.36,328.99 48.36,329.18 50.24,329.18 50.24,329.74 53.2,329.74 53.2,330.63 55.64,330.63 55.64,331.36 57.56,331.36 57.56,331.83 60.46,331.83 60.46,332.53 63.61,332.53 63.61,333.29 64.27,333.29 64.27,333.45 66.45,333.45 66.45,335.09 68.35,335.09 68.35,336.51 70.09,336.51 70.09,337.82 72.65,337.82 72.65,339.74 74.46,339.74 74.46,341.09 75.91,341.09 75.91,342.18 78.3,342.18 78.3,343.62 79.97,343.62 79.97,344.62 82.86,344.62 82.86,346.35 83.18,346.35 83.18,346.55 83.54,346.55 83.54,349.38 83.84,349.38 83.84,351.81 83.91,351.81 83.91,352.36 84.33,352.36 84.33,354.45 84.72,354.45 84.72,356.37 85.21,356.37 85.21,358.8 85.36,358.8 85.36,359.55 87.03,359.55 87.03,361.21 88.27,361.21 88.27,362.45 89.06,362.45 89.06,365.21 89.58,365.21 89.58,367.01 89.73,367.01 89.73,367.55 91.68,367.55 91.68,369.5 93.36,369.5 93.36,371.18 94.44,371.18 94.44,373.69 95.22,373.69 95.22,375.51 95.55,375.51 95.55,376.27 97.19,376.27 97.19,378.74 98.13,378.74 98.13,380.15 98.45,380.15 98.45,380.64 99.46,380.64 99.46,383.32 100.23,383.32 100.23,385.38 100.64,385.38 100.64,386.45 102.27,386.45 102.27,387.27 103.7,387.27 103.7,387.99 105,387.99 105,388.64 106.02,388.64 106.02,390.34 107.18,390.34 107.18,392.27 108.17,392.27 108.17,393.6 109.34,393.6 109.34,395.15 109.36,395.15 109.36,395.18 111.45,395.18 111.45,395.28 114.08,395.28 114.08,395.41 116.14,395.41 116.14,395.52 119.11,395.52 119.11,395.66 121.31,395.66 121.31,395.77 124.67,395.77 124.67,395.94 127.58,395.94 127.58,396.08 130.84,396.08 130.84,396.24 132.9,396.24 132.9,396.35" stroke="#4c4cf5" stroke-width="1.05" fill="none" stroke-linejoin="round"/>
<polyline points="15,314.64 20.73,314.64 21.02,321.18 33.09,321.47 33.6,321.47 33.6,324.33 33.82,324.33 33.82,325.55 35.32,325.55 35.32,326.79 37.6,326.79 37.6,328.69 38.18,328.69 38.18,329.18 40.19,329.18 40.19,330.94 41.9,330.94 41.9,332.44 44,332.44 44,334.27 46.02,334.27 46.02,334.78 48.56,334.78 48.56,335.41 49.82,335.41 49.82,335.73 51.53,335.73 51.53,337.44 52.92,337.44 52.92,338.83 54.17,338.83 54.17,340.08 55.64,340.08 55.64,341.55 56.74,341.55 56.74,343.02 58.58,343.02 58.58,345.47 60,345.47 60,347.36 61.36,348 63.01,348 63.01,348.82 65.23,348.82 65.23,349.93 65.73,349.93 65.73,350.18 66.79,350.18 66.79,351.5 68.48,351.5 68.48,353.58 69.73,353.58 69.73,355.13 71.1,355.13 71.1,356.82 71.55,356.82 71.55,357.36 73.2,357.36 73.2,359.02 75.18,359.02 75.18,361 76.6,361 76.6,362.07 78.09,362.07 78.09,363.18 78.71,363.18 78.71,366.3 78.82,366.3 78.82,366.82 79.85,366.82 79.85,368.37 81.32,368.37 81.32,370.57 82.26,370.57 82.26,371.98 83.18,371.98 83.18,373.36 84.18,373.36 84.18,375.61 85.14,375.61 85.14,377.78 86.07,377.78 86.07,379.87 86.09,379.87 86.09,379.91 87.42,379.91 87.42,381.24 89.38,381.24 89.38,383.2 90.45,383.2 90.45,384.27 91.06,384.27 91.06,385.8 91.77,385.8 91.77,387.57 91.91,387.57 91.91,387.91 93.82,387.91 93.82,389.18 95.58,389.18 95.58,390.36 96.27,390.36 96.27,390.82 99.11,390.82 99.11,391.43 101.94,391.43 101.94,392.03 103.59,392.03 103.59,392.39 106.45,392.39 106.45,393 108.08,393 108.08,393.41 109.67,393.41 109.67,393.8 111.25,393.8 111.25,394.2 114.45,394.2 114.45,395 115.18,395 115.18,395.18 118.41,395.18 118.41,395.39 121.1,395.39 121.1,395.57 123.79,395.57 123.79,395.75 126.01,395.75 126.01,395.89 127.98,395.89 127.98,396.02 130.61,396.02 130.61,396.19 132.9,396.19 132.9,396.35" stroke="#1fd2dc" stroke-width="1.05" fill="none" stroke-linejoin="round"/>
<polyline points="15,314.64 18.55,314.64 18.84,321.91 20.46,321.91 20.46,322.06 23.2,322.06 23.2,322.32 25.47,322.32 25.47,322.54 26.55,322.54 26.55,322.64 28.04,322.64 28.04,323.53 30.69,323.53 30.69,325.12 33.09,325.12 33.09,326.56 33.82,326.56 33.82,327 36.6,327 36.6,328.67 38.01,328.67 38.01,329.52 40.11,329.52 40.11,330.78 41.09,330.78 41.09,331.36 43.55,331.36 43.55,332.84 45.89,332.84 45.89,334.24 48.36,334.24 48.36,335.73 51.49,335.73 51.49,336.77 52.73,336.77 52.73,337.18 53.95,337.18 53.95,338.4 55.28,338.4 55.28,339.73 57.09,339.73 57.09,341.55 59.84,341.55 59.84,343.36 61.36,343.36 61.36,344.36 63.11,344.36 63.11,345.82 65.39,345.82 65.39,347.72 65.73,347.72 65.73,348 67.56,348 67.56,349.84 69.12,349.84 69.12,351.39 70.09,351.39 70.09,352.36 71.84,352.36 71.84,354.77 73.29,354.77 73.29,356.77 73.73,356.77 73.73,357.36 75.84,357.36 75.84,359.78 77.68,359.78 77.68,361.88 78.82,361.88 78.82,363.18 80.28,363.18 80.28,364.64 82.3,364.64 82.3,366.67 82.45,366.67 82.45,366.82 84.2,366.82 84.2,368.56 86.09,368.56 86.09,370.45 87.27,370.45 87.27,372.22 88.94,372.22 88.94,374.72 89,374.72 89,374.82 90.84,374.82 90.84,376.05 92.18,376.05 92.18,376.94 93.36,376.94 93.36,377.73 94.28,377.73 94.28,379.1 95.55,379.1 95.55,381 96.27,381 96.27,382.09 97.89,382.09 97.89,382.9 100.64,382.9 100.64,384.27 102.56,384.27 102.56,385.55 104.41,385.55 104.41,386.79 105,386.79 105,387.18 107.54,387.18 107.54,388.13 109.86,388.13 109.86,389 110.82,389 110.82,389.36 112.15,389.36 112.15,391.36 113.23,391.36 113.23,392.99 113.73,392.99 113.73,393.73 114.17,393.73 114.17,395.32 114.45,395.32 114.45,396.35 132.9,396.35" stroke="#f850dc" stroke-width="1.05" fill="none" stroke-linejoin="round"/>
<polyline points="15,314.64 22.91,314.64 23.2,319.73 26.2,319.73 26.2,321.03 26.55,321.03 26.55,321.18 26.9,321.18 26.9,323.31 27.19,323.31 27.19,325.04 27.27,325.04 27.27,325.55 28.13,325.55 28.13,327.27 29.03,327.27 29.03,329.06 29.45,329.06 29.45,329.91 32.13,329.91 32.13,330.24 35.17,330.24 35.17,330.62 35.27,330.62 35.27,330.64 37.24,330.64 37.24,331.87 39.5,331.87 39.5,333.28 41.09,333.28 41.09,334.27 43.31,334.27 43.31,335.75 45.45,335.75 45.45,337.18 47.49,337.18 47.49,338.2 49.75,338.2 49.75,339.33 49.82,339.33 49.82,339.36 52.98,339.36 52.98,340.55 55.64,340.55 55.64,341.55 58.22,341.55 58.22,342.56 60.81,342.56 60.81,343.58 62.82,343.58 62.82,344.36 65.99,344.36 65.99,345 68.02,345 68.02,345.4 70.05,345.4 70.05,345.81 70.09,345.81 70.09,345.82 72.94,345.82 72.94,347.53 75.22,347.53 75.22,348.9 76.78,348.9 76.78,349.83 77.36,349.83 77.36,350.18 78.93,350.18 78.93,350.97 80.42,350.97 80.42,351.71 81.92,351.71 81.92,352.46 83.18,352.46 83.18,353.09 83.71,353.09 83.71,355.45 84.23,355.45 84.23,357.74 84.63,357.74 84.63,359.5 84.64,359.5 84.64,359.55 85.45,359.55 85.45,361.45 86.17,361.45 86.17,363.12 86.82,363.12 86.82,364.64 87.8,364.64 87.8,367.26 88.93,367.26 88.93,370.28 89,370.28 89,370.45 90.09,370.45 90.09,372.64 90.97,372.64 90.97,374.4 91.72,374.4 91.72,375.9 91.91,375.9 91.91,376.27 93.4,376.27 93.4,379.26 94.09,379.26 94.09,380.64 95.2,380.64 95.2,383.42 95.96,383.42 95.96,385.32 97,385.32 97,387.91 97.42,387.91 97.42,390.22 97.97,390.22 97.97,393.23 98.4,393.23 98.4,395.63 98.45,395.63 98.45,395.91 132.9,396.35" stroke="#dcd232" stroke-width="1.05" fill="none" stroke-linejoin="round"/>
<polyline points="15,314.64 17.82,314.64 18.09,314.64 18.09,317.37 18.26,317.37 18.26,319.01 18.47,319.01 18.47,321.13 18.55,321.13 18.55,321.91 21.58,321.91 21.58,322.34 23.64,322.34 23.64,322.64 26.41,322.64 26.41,324.02 28.9,324.02 28.9,325.27 29.45,325.27 29.45,325.55 31.35,325.55 31.35,327.44 33.14,327.44 33.14,329.23 34.9,329.23 34.9,330.99 35.27,330.99 35.27,331.36 36.66,331.36 36.66,333.45 38.01,333.45 38.01,335.47 38.18,335.47 38.18,335.73 39.78,335.73 39.78,337.06 41.44,337.06 41.44,338.45 42.55,338.45 42.55,339.36 45.18,339.36 45.18,340.68 46.91,340.68 46.91,341.55 48.79,341.55 48.79,343.12 50.95,343.12 50.95,344.91 51.27,344.91 51.27,345.18 53.5,345.18 53.5,347.04 55.63,347.04 55.63,348.81 55.64,348.81 55.64,348.82 57.35,348.82 57.35,349.67 60,349.67 60,351 61.08,351 61.08,352.47 62.24,352.47 62.24,354.06 63.68,354.06 63.68,356.03 64.73,356.03 64.73,357.45 65.73,357.45 65.73,358.82 67.14,358.82 67.14,361.65 68.32,361.65 68.32,364.01 69.55,364.01 69.55,366.47 70.09,366.47 70.09,367.55 71.4,367.55 71.4,370.16 72.76,370.16 72.76,372.89 73,372.89 73,373.36 132.9,396.35" stroke="#e05a5a" stroke-width="1.05" fill="none" stroke-linejoin="round"/>
<polyline points="15,314.64 21.45,314.64 21.75,320.45 23.91,320.45 23.91,322.81 25.09,322.81 25.09,324.09 27.41,324.09 27.41,324.67 30.32,324.67 30.32,325.4 30.91,325.4 30.91,325.55 32.46,325.55 32.46,327.09 34.53,327.09 34.53,329.16 35.27,329.16 35.27,329.91 37.24,329.91 37.24,331.22 39.21,331.22 39.21,332.54 39.64,332.54 39.64,332.82 40.84,332.82 40.84,334.92 42.27,334.92 42.27,337.43 42.55,337.43 42.55,337.91 44.69,337.91 44.69,338.62 46.52,338.62 46.52,339.23 46.91,339.23 46.91,339.36 49.76,339.36 49.76,339.93 51.82,339.93 51.82,340.35 54.18,340.35 54.18,340.82 56.25,340.82 56.25,342.11 58.66,342.11 58.66,343.62 60,343.62 60,344.45 61.52,344.45 61.52,345.58 62.82,345.58 62.82,346.55 64.76,346.55 64.76,347.52 66.39,347.52 66.39,348.33 68.64,348.33 68.64,349.45 70.64,349.45 70.64,351.12 72.8,351.12 72.8,352.92 73,352.92 73,353.09 75.12,353.09 75.12,355.48 76.46,355.48 76.46,356.98 78.09,356.98 78.09,358.82 80.74,358.82 80.74,360.71 82.22,360.71 82.22,361.77 83.18,361.77 83.18,362.45 84.61,362.45 84.61,363.35 86.85,363.35 86.85,364.74 89,364.74 89,366.09 90.89,366.09 90.89,367.03 93.65,367.03 93.65,368.41 94.82,368.41 94.82,369 96.71,369 96.71,371.52 98.67,371.52 98.67,374.13 99.18,374.13 99.18,374.82 100.15,374.82 100.15,376.11 101.78,376.11 101.78,378.28 103.26,378.28 103.26,380.26 103.55,380.26 103.55,380.64 105.41,380.64 105.41,382.04 106.89,382.04 106.89,383.15 108.94,383.15 108.94,384.68 109.36,384.68 109.36,385 110.95,385 110.95,386.19 113.3,386.19 113.3,387.95 115.18,387.95 115.18,389.36 117.66,389.36 117.66,390.91 119.55,390.91 119.55,392.1 121,392.1 121,393 123.86,393 123.86,393.8 126.11,393.8 126.11,394.44 128.78,394.44 128.78,395.19 130.59,395.19 130.59,395.7 132.9,395.7 132.9,396.35" stroke="#ffa826" stroke-width="1.05" fill="none" stroke-linejoin="round"/>
<polyline points="15,314.64 17.53,314.64 17.82,321.91 19.5,321.91 19.5,322.03 21.38,322.03 21.38,322.16 24.72,322.16 24.72,322.4 26.76,322.4 26.76,322.55 28,322.55 28,322.64 29.51,322.64 29.51,323.58 31.68,323.58 31.68,324.93 33.63,324.93 33.63,326.16 33.82,326.16 33.82,326.27 35.52,326.27 35.52,327.69 36.97,327.69 36.97,328.9 38.18,328.9 38.18,329.91 39.85,329.91 39.85,330.74 42.19,330.74 42.19,331.91 44,331.91 44,332.82 45.73,332.82 45.73,333.9 47.39,333.9 47.39,334.94 49.37,334.94 49.37,336.17 49.82,336.17 49.82,336.45 52.4,336.45 52.4,337.32 54.18,337.32 54.18,337.91 56.22,337.91 56.22,340.28 57.31,340.28 57.31,341.56 58.55,341.56 58.55,343 60.16,343 60.16,343.8 63.11,343.8 63.11,345.24 64.27,345.24 64.27,345.82 65.88,345.82 65.88,347.43 67.18,347.43 67.18,348.73 68.46,348.73 68.46,350.89 69.59,350.89 69.59,352.81 70.74,352.81 70.74,354.77 71.76,354.77 71.76,356.49 72.27,356.49 72.27,357.36 73.51,357.36 73.51,359.52 74.3,359.52 74.3,360.92 75.18,360.92 75.18,362.45 76.29,362.45 76.29,364 77.97,364 77.97,366.35 78.82,366.35 78.82,367.55 79.96,367.55 79.96,369.38 81.53,369.38 81.53,371.89 82.45,371.89 82.45,373.36 83.7,373.36 83.7,375.36 84.94,375.36 84.94,377.34 86.09,377.34 86.09,379.18 87.09,379.18 87.09,381.84 87.9,381.84 87.9,384.02 88.27,384.02 88.27,385 89.18,385 89.18,387.42 90.04,387.42 90.04,389.71 90.45,389.71 90.45,390.82 92.62,390.82 92.62,391.54 94.66,391.54 94.66,392.22 94.82,392.22 94.82,392.27 98.03,392.27 98.03,392.81 100.49,392.81 100.49,393.22 103.13,393.22 103.13,393.66 106.09,393.66 106.09,394.15 107.91,394.15 107.91,394.45 110.35,394.45 110.35,394.64 112.02,394.64 112.02,394.77 114.62,394.77 114.62,394.96 116.84,394.96 116.84,395.13 120.05,395.13 120.05,395.37 122.38,395.37 122.38,395.55 125.47,395.55 125.47,395.78 128.33,395.78 128.33,396 131.05,396 131.05,396.21 132.9,396.21 132.9,396.35" stroke="#c03cb8" stroke-width="1.05" fill="none" stroke-linejoin="round"/>
</g>
<path d="M15 314.6V396.5M132.9 314.6V396.5" fill="none" stroke="#c4c4c4" stroke-width="1.1" stroke-linecap="square"/>
<path d="M15 314.6H132.9M15 396.5H132.9" fill="none" stroke="#bebebe" stroke-width="0.75" stroke-linecap="square"/>
<text x="15" y="401" text-anchor="middle" class="t">0.0</text>
<text x="13.2" y="398.1" text-anchor="end" class="t">0.0</text>
<text x="38.58" y="401" text-anchor="middle" class="t">0.2</text>
<text x="13.2" y="381.72" text-anchor="end" class="t">0.2</text>
<text x="62.16" y="401" text-anchor="middle" class="t">0.4</text>
<text x="13.2" y="365.34" text-anchor="end" class="t">0.4</text>
<text x="85.74" y="401" text-anchor="middle" class="t">0.6</text>
<text x="13.2" y="348.96" text-anchor="end" class="t">0.6</text>
<text x="109.32" y="401" text-anchor="middle" class="t">0.8</text>
<text x="13.2" y="332.58" text-anchor="end" class="t">0.8</text>
<text x="132.9" y="401" text-anchor="middle" class="t">1.0</text>
<text x="13.2" y="316.2" text-anchor="end" class="t">1.0</text>
<text x="73.95" y="312.9" text-anchor="middle" class="b">Table</text>
<text x="73.95" y="406.7" text-anchor="middle" class="b">Recall</text>
<text transform="translate(6.7 355.55) rotate(-90)" text-anchor="middle" class="b p">Precision</text>
</g>
<g>
<path d="M176.08 314.6V396.5M152.5 380.12H270.4M199.66 314.6V396.5M152.5 363.74H270.4M223.24 314.6V396.5M152.5 347.36H270.4M246.82 314.6V396.5M152.5 330.98H270.4" stroke="#e2e2e2" stroke-width="0.6" fill="none"/>
<path d="M152.5 396.5v1M152.5 396.5h-1M176.08 396.5v1M152.5 380.12h-1M199.66 396.5v1M152.5 363.74h-1M223.24 396.5v1M152.5 347.36h-1M246.82 396.5v1M152.5 330.98h-1M270.4 396.5v1M152.5 314.6h-1" stroke="#999" stroke-width="0.4" fill="none"/>
<clipPath id="cChair"><rect x="152.5" y="314.6" width="117.9" height="81.9"/></clipPath>
<g clip-path="url(#cChair)">
<polyline points="152.5,314.64 154.12,314.64 154.12,314.68 157.37,314.68 157.37,314.75 159.94,314.75 159.94,314.82 161.65,314.82 161.65,314.86 164.97,314.86 164.97,314.94 168.31,314.94 168.31,315.02 170.92,315.02 170.92,315.08 173.56,315.08 173.56,315.15 176.52,315.15 176.52,315.22 178.7,315.22 178.7,315.27 181.79,315.27 181.79,315.35 182.45,315.35 182.45,315.36 185.36,315.36 185.36,316.09 187.92,316.09 187.92,316.73 190.86,316.73 190.86,317.47 191.18,317.47 191.18,317.55 193.13,317.55 193.13,318.03 195.43,318.03 195.43,318.61 197,318.61 197,319 199.18,319 199.18,319.67 202.07,319.67 202.07,320.55 203.94,320.55 203.94,321.12 206.73,321.12 206.73,321.97 209.34,321.97 209.34,322.77 211,322.77 211,323.27 213.06,323.27 213.06,324.65 215.06,324.65 215.06,325.98 215.36,325.98 215.36,326.18 217.77,326.18 217.77,328.11 220.05,328.11 220.05,329.93 222.26,329.93 222.26,331.7 222.64,331.7 222.64,332 224.2,332 224.2,334.35 225.55,334.35 225.55,336.36 227.66,336.36 227.66,339.01 228.45,339.01 228.45,340 229.27,340 229.27,342.46 230,342.46 230,344.64 230.6,344.64 230.6,346.44 230.64,346.44 230.64,346.55 231.34,346.55 231.34,348.88 231.95,348.88 231.95,350.93 232.55,350.93 232.55,352.93 232.82,352.93 232.82,353.82 233.51,353.82 233.51,355.86 234.48,355.86 234.48,358.73 235,358.73 235,360.27 236,360.27 236,362.79 236.94,362.79 236.94,365.12 237.78,365.12 237.78,367.23 237.91,367.23 237.91,367.55 238.83,367.55 238.83,370.61 239.66,370.61 239.66,373.39 240.09,373.39 240.09,374.82 241.64,374.82 241.64,377.14 243,377.14 243,379.18 244.27,379.18 244.27,381.4 245.47,381.4 245.47,383.51 245.91,383.51 245.91,384.27 247.97,384.27 247.97,386.33 249.79,386.33 249.79,388.16 250.27,388.16 250.27,388.64 252.13,388.64 252.13,391.43 253.05,391.43 253.05,392.81 253.18,392.81 253.18,393 255.36,393 255.36,393.42 258.56,393.42 258.56,394.05 261.18,394.05 261.18,394.56 263.21,394.56 263.21,394.95 265.7,394.95 265.7,395.44 268.89,395.44 268.89,396.06 270.35,396.06 270.35,396.35" stroke="#ff4545" stroke-width="1.05" fill="none" stroke-linejoin="round"/>
<polyline points="152.5,314.64 155.19,314.64 155.19,314.89 157.22,314.89 157.22,315.08 159.9,315.08 159.9,315.34 161.56,315.34 161.56,315.49 164.35,315.49 164.35,315.75 167.13,315.75 167.13,316.02 167.91,316.02 167.91,316.09 169.85,316.09 169.85,316.67 172.05,316.67 172.05,317.33 173.71,317.33 173.71,317.83 175.18,317.83 175.18,318.27 178.03,318.27 178.03,318.75 180.27,318.75 180.27,319.12 182.81,319.12 182.81,319.54 183.91,319.54 183.91,319.73 185.57,319.73 185.57,320.56 187.8,320.56 187.8,321.67 190.68,321.67 190.68,323.11 192.12,323.11 192.12,323.83 192.64,323.83 192.64,324.09 194.35,324.09 194.35,325.31 195.89,325.31 195.89,326.41 197.74,326.41 197.74,327.73 199.99,327.73 199.99,329.33 202.41,329.33 202.41,331.06 203.73,331.06 203.73,332 206.31,332 206.31,332.65 207.97,332.65 207.97,333.06 209.55,333.06 209.55,333.45 212.13,333.45 212.13,335.39 214.33,335.39 214.33,337.04 215.36,337.04 215.36,337.82 217.41,337.82 217.41,339.86 219.27,339.86 219.27,341.73 219.73,341.73 219.73,342.18 222.21,342.18 222.21,343.83 224.09,343.83 224.09,345.09 226.41,345.09 226.41,347.41 227.9,347.41 227.9,348.9 228.45,348.9 228.45,349.45 229.86,349.45 229.86,351.71 231.55,351.71 231.55,354.44 232.75,354.44 232.75,356.36 234.07,356.36 234.07,358.49 234.27,358.49 234.27,358.82 235.99,358.82 235.99,360.88 237.56,360.88 237.56,362.77 237.91,362.77 237.91,363.18 239.04,363.18 239.04,366.2 240.09,366.2 240.09,369 242.58,369 242.58,370.55 244.91,370.55 244.91,372.01 245.91,372.01 245.91,372.64 247.34,372.64 247.34,375.14 248.74,375.14 248.74,377.59 248.82,377.59 248.82,377.73 249.76,377.73 249.76,379.14 251.49,379.14 251.49,381.73 251.73,381.73 251.73,382.09 252.73,382.09 252.73,383.43 253.95,383.43 253.95,385.06 255.48,385.06 255.48,387.1 256.09,387.1 256.09,387.91 258.35,387.91 258.35,390.17 259,390.17 259,390.82 260.6,390.82 260.6,392.82 261.91,392.82 261.91,394.45 265.15,394.45 265.15,395.18 267.24,395.18 267.24,395.65 269.2,395.65 269.2,396.09 270.35,396.09 270.35,396.35" stroke="#21b55c" stroke-width="1.05" fill="none" stroke-linejoin="round"/>
<polyline points="152.5,314.64 157.73,315.07 159.18,315.07 159.18,317.55 169.36,317.55 172.23,317.55 172.23,318.02 173.73,318.02 173.73,318.27 175.89,318.27 175.89,318.63 178.36,318.63 178.36,319.04 180.78,319.04 180.78,319.45 182.45,319.45 182.45,319.73 184.7,319.73 184.7,320.63 187.14,320.63 187.14,321.6 189.73,321.6 189.73,322.64 191.99,322.64 191.99,323.54 193.69,323.54 193.69,324.22 196.74,324.22 196.74,325.44 197,325.44 197,325.55 198.77,325.55 198.77,326.38 201.39,326.38 201.39,327.61 202.9,327.61 202.9,328.31 203,328.31 203,328.36 205.74,328.36 205.74,329.89 208.59,329.89 208.59,331.47 209.55,331.47 209.55,332 212.29,332 212.29,333.37 215.33,333.37 215.33,334.89 215.36,334.89 215.36,334.91 216.77,334.91 216.77,335.96 218.77,335.96 218.77,337.47 221.03,337.47 221.03,339.16 221.18,339.16 221.18,339.27 223.29,339.27 223.29,341.03 225.1,341.03 225.1,342.54 225.55,342.54 225.55,342.91 228.11,342.91 228.11,344.62 229.91,344.62 229.91,345.82 232.12,345.82 232.12,347.29 233.53,347.29 233.53,348.23 234.27,348.23 234.27,348.73 237.26,348.73 237.26,349.92 237.91,349.92 237.91,350.18 238.09,350.18 238.09,352.33 238.3,352.33 238.3,354.87 238.51,354.87 238.51,357.34 238.64,357.34 238.64,358.82 239.87,358.82 239.87,360.37 240.99,360.37 240.99,361.76 241.55,361.76 241.55,362.45 242.81,362.45 242.81,363.72 245.1,363.72 245.1,366.01 245.91,366.01 245.91,366.82 248.03,366.82 248.03,369.36 249.55,369.36 249.55,371.18 249.91,371.18 249.91,374.5 250.25,374.5 250.25,377.51 250.27,377.51 250.27,377.73 251.45,377.73 251.45,379.49 253.18,379.49 253.18,382.09 253.48,382.09 253.48,384.44 253.68,384.44 253.68,386.08 253.91,386.08 253.91,387.91 255.58,387.91 255.58,389.58 257.34,389.58 257.34,391.34 257.55,391.34 257.55,391.55 258.78,391.55 258.78,394.01 259,394.01 259,394.45 261.93,394.45 261.93,394.94 264.75,394.94 264.75,395.41 266.66,395.41 266.66,395.73 269.6,395.73 269.6,396.22 270.35,396.22 270.35,396.35" stroke="#4c4cf5" stroke-width="1.05" fill="none" stroke-linejoin="round"/>
<polyline points="152.5,314.64 154.36,314.64 154.36,314.88 156.06,314.88 156.06,315.1 158.57,315.1 158.57,315.44 161.38,315.44 161.38,315.81 163,315.81 163,316.02 163.55,316.02 163.55,316.09 165.31,316.09 165.31,316.8 166.81,316.8 166.81,317.4 168.95,317.4 168.95,318.25 170.82,318.25 170.82,319 172.94,319 172.94,320.86 174.17,320.86 174.17,321.93 176.42,321.93 176.42,323.9 176.64,323.9 176.64,324.09 178.53,324.09 178.53,325.51 180.26,325.51 180.26,326.81 182.17,326.81 182.17,328.24 182.45,328.24 182.45,328.45 185.51,328.45 185.51,329.07 188,329.07 188,329.56 189.73,329.56 189.73,329.91 192.46,329.91 192.46,331.73 194.09,331.73 194.09,332.82 195.64,332.82 195.64,333.64 197.76,333.64 197.76,334.75 199.64,334.75 199.64,335.74 200.82,335.74 200.82,336.36 202.67,336.36 202.67,337.06 204.29,337.06 204.29,337.67 206.64,337.67 206.64,338.55 208.16,338.55 208.16,340.45 209.55,340.45 209.55,342.18 210.44,342.18 210.44,344.42 211.27,344.42 211.27,346.5 212.41,346.5 212.41,349.34 212.45,349.34 212.45,349.45 214.18,349.45 214.18,352.23 215.15,352.23 215.15,353.79 216.26,353.79 216.26,355.58 217.7,355.58 217.7,357.89 218.27,357.89 218.27,358.82 219.32,358.82 219.32,360.91 220.49,360.91 220.49,363.26 221.18,363.26 221.18,364.64 222.28,364.64 222.28,367.38 223.25,367.38 223.25,369.81 224.01,369.81 224.01,371.71 224.09,371.71 224.09,371.91 224.65,371.91 224.65,373.78 225.35,373.78 225.35,376.09 226.01,376.09 226.01,378.29 226.27,378.29 226.27,379.18 227.19,379.18 227.19,381.01 228.44,381.01 228.44,383.51 229.53,383.51 229.53,385.69 229.91,385.69 229.91,386.45 230.98,386.45 230.98,388.95 231.7,388.95 231.7,390.64 232.09,390.64 232.09,391.55 235.08,391.55 235.08,392.4 237.18,392.4 237.18,393 239.98,393 239.98,393.25 242.16,393.25 242.16,393.45 245.22,393.45 245.22,393.73 246.86,393.73 246.86,393.88 249.85,393.88 249.85,394.15 251.71,394.15 251.71,394.32 253.18,394.32 253.18,394.45 256.25,394.45 256.25,394.79 258.87,394.79 258.87,395.08 261.96,395.08 261.96,395.42 264.7,395.42 264.7,395.72 266.4,395.72 266.4,395.91 269.12,395.91 269.12,396.21 270.35,396.21 270.35,396.35" stroke="#1fd2dc" stroke-width="1.05" fill="none" stroke-linejoin="round"/>
<polyline points="152.5,314.64 155.4,314.64 155.4,314.8 158.37,314.8 158.37,314.97 160.32,314.97 160.32,315.08 163.28,315.08 163.28,315.25 165.15,315.25 165.15,315.36 167.81,315.36 167.81,315.51 170.09,315.51 170.09,315.64 173.36,315.64 173.36,315.82 175.44,315.82 175.44,315.94 178.06,315.94 178.06,316.09 178.09,316.09 178.09,316.09 180.44,316.09 180.44,316.68 182.35,316.68 182.35,317.15 184.07,317.15 184.07,317.59 186.38,317.59 186.38,318.16 186.82,318.16 186.82,318.27 189.67,318.27 189.67,319.41 192.34,319.41 192.34,320.48 194.05,320.48 194.05,321.16 194.09,321.16 194.09,321.18 196.38,321.18 196.38,323.13 197.67,323.13 197.67,324.23 199.71,324.23 199.71,325.97 200.82,325.97 200.82,326.91 202.6,326.91 202.6,328.16 204.87,328.16 204.87,329.75 206.79,329.75 206.79,331.09 208.09,331.09 208.09,332 209.35,332 209.35,333.26 210.79,333.26 210.79,334.7 213.04,334.7 213.04,336.95 213.91,336.95 213.91,337.82 215.03,337.82 215.03,339.31 216.61,339.31 216.61,341.42 217.63,341.42 217.63,342.78 218.27,342.78 218.27,343.64 219.37,343.64 219.37,345.84 220.43,345.84 220.43,347.96 221.18,347.96 221.18,349.45 222.27,349.45 222.27,351.78 223.07,351.78 223.07,353.48 224.26,353.48 224.26,355.99 224.96,355.99 224.96,357.49 225.66,357.49 225.66,358.98 226.27,358.98 226.27,360.27 227.21,360.27 227.21,361.97 228.33,361.97 228.33,363.97 229.36,363.97 229.36,365.83 229.91,365.83 229.91,366.82 231.09,366.82 231.09,369.47 232.26,369.47 232.26,372.11 232.82,372.11 232.82,373.36 234.18,373.36 234.18,376.08 234.92,376.08 234.92,377.58 235.66,377.58 235.66,379.04 235.73,379.04 235.73,379.18 237.03,379.18 237.03,382.21 237.8,382.21 237.8,384.02 237.91,384.02 237.91,384.27 239.81,384.27 239.81,386.18 241.55,386.18 241.55,387.91 243.12,387.91 243.12,389.48 244.52,389.48 244.52,390.88 245.91,390.88 245.91,392.27 247.86,392.27 247.86,393.9 250.27,393.9 250.27,395.91 270.35,396.35" stroke="#f850dc" stroke-width="1.05" fill="none" stroke-linejoin="round"/>
<polyline points="152.5,314.64 154.12,314.64 154.12,314.77 156.87,314.77 156.87,314.98 159.14,314.98 159.14,315.16 162.47,315.16 162.47,315.43 164.21,315.43 164.21,315.57 167.28,315.57 167.28,315.81 170.07,315.81 170.07,316.03 170.82,316.03 170.82,316.09 173.93,316.09 173.93,316.98 175.52,316.98 175.52,317.43 177.87,317.43 177.87,318.11 180.79,318.11 180.79,318.94 181,318.94 181,319 183.61,319 183.61,319.78 186.58,319.78 186.58,320.67 188.27,320.67 188.27,321.18 189.8,321.18 189.8,322.1 191.28,322.1 191.28,322.99 192.9,322.99 192.9,323.96 195.55,323.96 195.55,325.55 198.52,325.55 198.52,326.94 201.08,326.94 201.08,328.14 201.55,328.14 201.55,328.36 204.31,328.36 204.31,329.43 207.12,329.43 207.12,330.51 209.54,330.51 209.54,331.44 211,331.44 211,332 212.97,332 212.97,334.63 214.76,334.63 214.76,337.01 215.36,337.01 215.36,337.82 216.74,337.82 216.74,339.66 218.67,339.66 218.67,342.22 219.73,342.22 219.73,343.64 221.02,343.64 221.02,345.19 222.34,345.19 222.34,346.77 223.36,346.77 223.36,348 225.03,348 225.03,350.66 226.34,350.66 226.34,352.76 227,352.76 227,353.82 228.25,353.82 228.25,355.54 230.02,355.54 230.02,357.97 230.64,357.97 230.64,358.82 231.17,358.82 231.17,360.96 231.56,360.96 231.56,362.52 232.28,362.52 232.28,365.37 232.68,365.37 232.68,366.97 232.82,366.97 232.82,367.55 233.77,367.55 233.77,369.94 234.45,369.94 234.45,371.62 235.69,371.62 235.69,374.73 235.73,374.73 235.73,374.82 236.56,374.82 236.56,376.89 237.56,376.89 237.56,379.41 238.57,379.41 238.57,381.93 238.64,381.93 238.64,382.09 239.6,382.09 239.6,384.99 240.09,384.99 240.09,386.45 240.24,386.45 240.24,388.4 240.44,388.4 240.44,390.93 240.56,390.93 240.56,392.58 240.78,392.58 240.78,395.47 240.82,395.47 240.82,395.91 270.35,396.35" stroke="#dcd232" stroke-width="1.05" fill="none" stroke-linejoin="round"/>
<polyline points="152.5,314.64 155.76,314.64 155.76,314.85 158.92,314.85 158.92,315.05 161.07,315.05 161.07,315.19 162.82,315.19 162.82,315.3 165.39,315.3 165.39,315.46 167.32,315.46 167.32,315.59 169.32,315.59 169.32,315.71 172.7,315.71 172.7,315.93 175.18,315.93 175.18,316.09 178.03,316.09 178.03,317.23 180.56,317.23 180.56,318.24 182.45,318.24 182.45,319 184.33,319 184.33,320.88 185.92,320.88 185.92,322.46 186.82,322.46 186.82,323.36 188.68,323.36 188.68,325.54 190.16,325.54 190.16,327.26 191.18,327.26 191.18,328.45 193.46,328.45 193.46,329.97 195.55,329.97 195.55,331.36 197.93,331.36 197.93,333.58 199.36,333.58 199.36,334.91 201.03,334.91 201.03,337.14 202.56,337.14 202.56,339.17 203.73,339.17 203.73,340.73 204.23,340.73 204.23,342.74 204.73,342.74 204.73,344.75 205.18,344.75 205.18,346.55 207.53,346.55 207.53,348.89 209.41,348.89 209.41,350.78 209.55,350.78 209.55,350.91 210.75,350.91 210.75,353.57 211.47,353.57 211.47,355.17 212.15,355.17 212.15,356.69 212.45,356.69 212.45,357.36 212.7,357.36 212.7,360.28 212.9,360.28 212.9,362.69 213.09,362.69 213.09,365.03 213.18,365.03 213.18,366.09 214.86,366.09 214.86,368.19 216.09,368.19 216.09,369.73 270.35,396.35" stroke="#e05a5a" stroke-width="1.05" fill="none" stroke-linejoin="round"/>
<polyline points="152.5,314.64 155.98,315.07 156.27,321.91 170.09,322.35 170.82,322.35 170.82,324.82 172.43,324.82 172.43,325.14 174.53,325.14 174.53,325.56 177.47,325.56 177.47,326.15 178.09,326.15 178.09,326.27 180.56,326.27 180.56,327.51 182.45,327.51 182.45,328.45 185.22,328.45 185.22,328.8 186.91,328.8 186.91,329.01 188.27,329.01 188.27,329.18 190.78,329.18 190.78,329.5 193.25,329.5 193.25,329.8 194.09,329.8 194.09,329.91 195.55,329.91 195.55,331.95 196.97,331.95 196.97,333.92 198.94,333.92 198.94,336.66 200.16,336.66 200.16,338.36 200.82,338.36 200.82,339.27 203.41,339.27 203.41,341.43 205.18,341.43 205.18,342.91 207.56,342.91 207.56,344.89 209.45,344.89 209.45,346.46 209.55,346.46 209.55,346.55 212.37,346.55 212.37,347.96 213.91,347.96 213.91,348.73 215.28,348.73 215.28,351.13 216.4,351.13 216.4,353.09 216.82,353.09 216.82,353.82 219.77,353.82 219.77,354.88 221.49,354.88 221.49,355.5 222.64,355.5 222.64,355.91 223.93,355.91 223.93,357.98 224.87,357.98 224.87,359.48 226.27,359.48 226.27,361.73 226.27,361.73 226.27,361.73 227.96,361.73 227.96,363.75 229.72,363.75 229.72,365.87 229.91,365.87 229.91,366.09 231.46,366.09 231.46,368.57 233.08,368.57 233.08,371.16 233.55,371.16 233.55,371.91 235.32,371.91 235.32,374.75 236.31,374.75 236.31,376.33 237.18,376.33 237.18,377.73 239.29,377.73 239.29,379.84 240.94,379.84 240.94,381.48 241.55,381.48 241.55,382.09 243.76,382.09 243.76,383.75 245.74,383.75 245.74,385.24 247.36,385.24 247.36,386.45 249.11,386.45 249.11,387.55 250.87,387.55 250.87,388.65 252.58,388.65 252.58,389.72 253.18,389.72 253.18,390.09 255,390.09 255,392.82 256.09,392.82 256.09,394.45 258.79,394.45 258.79,394.81 260.62,394.81 260.62,395.06 263.15,395.06 263.15,395.39 265.23,395.39 265.23,395.67 268.27,395.67 268.27,396.07 270.35,396.07 270.35,396.35" stroke="#ffa826" stroke-width="1.05" fill="none" stroke-linejoin="round"/>
<polyline points="152.5,314.64 155.47,314.64 155.47,314.87 158.49,314.87 158.49,315.11 160.33,315.11 160.33,315.26 163.52,315.26 163.52,315.51 166.61,315.51 166.61,315.76 169.69,315.76 169.69,316 170.82,316 170.82,316.09 174.09,316.09 174.09,316.79 177.09,316.79 177.09,317.43 180.24,317.43 180.24,318.11 181,318.11 181,318.27 182.23,318.27 182.23,319.5 184.62,319.5 184.62,321.9 185.36,321.9 185.36,322.64 186.86,322.64 186.86,325.63 188.24,325.63 188.24,328.39 188.27,328.39 188.27,328.45 189.89,328.45 189.89,330.88 190.86,330.88 190.86,332.33 191.18,332.33 191.18,332.82 193.39,332.82 193.39,333.65 196.28,333.65 196.28,334.73 197,334.73 197,335 199.29,335 199.29,336.32 199.36,336.32 199.36,336.36 200.71,336.36 200.71,337.48 202.8,337.48 202.8,339.22 203.73,339.22 203.73,340 204.81,340 204.81,341.45 206.26,341.45 206.26,343.37 207.8,343.37 207.8,345.43 208.09,345.43 208.09,345.82 209.24,345.82 209.24,348.89 209.87,348.89 209.87,350.55 210.27,350.55 210.27,351.64 210.98,351.64 210.98,353.31 212.14,353.31 212.14,356.06 213.28,356.06 213.28,358.77 213.91,358.77 213.91,360.27 215.05,360.27 215.05,361.79 216.51,361.79 216.51,363.74 218.08,363.74 218.08,365.83 218.27,365.83 218.27,366.09 219.83,366.09 219.83,367.87 221.1,367.87 221.1,369.32 222.91,369.32 222.91,371.39 223.36,371.39 223.36,371.91 224.34,371.91 224.34,374.83 225.1,374.83 225.1,377.11 225.55,377.11 225.55,378.45 226.42,378.45 226.42,380.5 227.27,380.5 227.27,382.48 227.73,382.48 227.73,383.55 229.2,383.55 229.2,385.01 230.82,385.01 230.82,386.64 231.36,386.64 231.36,387.18 233.84,387.18 233.84,389.25 235.73,389.25 235.73,390.82 238.55,390.82 238.55,391.95 241.54,391.95 241.54,393.14 243,393.14 243,393.73 244.97,393.73 244.97,394.01 247.41,394.01 247.41,394.36 249.92,394.36 249.92,394.72 253.18,394.72 253.18,395.18 256.22,395.18 256.22,395.39 258.66,395.39 258.66,395.55 261.52,395.55 261.52,395.75 264.34,395.75 264.34,395.94 267.16,395.94 267.16,396.13 270.1,396.13 270.1,396.33 270.35,396.33 270.35,396.35" stroke="#c03cb8" stroke-width="1.05" fill="none" stroke-linejoin="round"/>
</g>
<path d="M152.5 314.6V396.5M270.4 314.6V396.5" fill="none" stroke="#c4c4c4" stroke-width="1.1" stroke-linecap="square"/>
<path d="M152.5 314.6H270.4M152.5 396.5H270.4" fill="none" stroke="#bebebe" stroke-width="0.75" stroke-linecap="square"/>
<text x="152.5" y="401" text-anchor="middle" class="t">0.0</text>
<text x="150.7" y="398.1" text-anchor="end" class="t">0.0</text>
<text x="176.08" y="401" text-anchor="middle" class="t">0.2</text>
<text x="150.7" y="381.72" text-anchor="end" class="t">0.2</text>
<text x="199.66" y="401" text-anchor="middle" class="t">0.4</text>
<text x="150.7" y="365.34" text-anchor="end" class="t">0.4</text>
<text x="223.24" y="401" text-anchor="middle" class="t">0.6</text>
<text x="150.7" y="348.96" text-anchor="end" class="t">0.6</text>
<text x="246.82" y="401" text-anchor="middle" class="t">0.8</text>
<text x="150.7" y="332.58" text-anchor="end" class="t">0.8</text>
<text x="270.4" y="401" text-anchor="middle" class="t">1.0</text>
<text x="150.7" y="316.2" text-anchor="end" class="t">1.0</text>
<text x="211.45" y="312.9" text-anchor="middle" class="b">Chair</text>
<text x="211.45" y="406.7" text-anchor="middle" class="b">Recall</text>
<text transform="translate(144.2 355.55) rotate(-90)" text-anchor="middle" class="b p">Precision</text>
</g>
<g>
<path d="M313.08 314.6V396.5M289.5 380.12H407.4M336.66 314.6V396.5M289.5 363.74H407.4M360.24 314.6V396.5M289.5 347.36H407.4M383.82 314.6V396.5M289.5 330.98H407.4" stroke="#e2e2e2" stroke-width="0.6" fill="none"/>
<path d="M289.5 396.5v1M289.5 396.5h-1M313.08 396.5v1M289.5 380.12h-1M336.66 396.5v1M289.5 363.74h-1M360.24 396.5v1M289.5 347.36h-1M383.82 396.5v1M289.5 330.98h-1M407.4 396.5v1M289.5 314.6h-1" stroke="#999" stroke-width="0.4" fill="none"/>
<clipPath id="cCar"><rect x="289.5" y="314.6" width="117.9" height="81.9"/></clipPath>
<g clip-path="url(#cCar)">
<polyline points="289.5,314.6 324.87,314.76 332,315.07 333.42,315.07 333.42,315.14 334.55,315.14 334.55,315.2 336.1,315.2 336.1,315.28 338.09,315.28 338.09,315.38 339.28,315.38 339.28,315.44 340.6,315.44 340.6,315.5 342.15,315.5 342.15,315.58 343.17,315.58 343.17,315.63 344.27,315.63 344.27,315.69 345.46,315.69 345.46,315.75 346.55,315.75 346.55,315.8 348.32,315.8 348.32,316.05 349.63,316.05 349.63,316.24 350.62,316.24 350.62,316.38 351.74,316.38 351.74,316.54 353.62,316.54 353.62,316.81 354.73,316.81 354.73,316.97 356.28,316.97 356.28,317.19 356.73,317.19 356.73,317.25 357.8,317.25 357.8,317.47 359.42,317.47 359.42,317.79 361.29,317.79 361.29,318.17 362.78,318.17 362.78,318.47 364.19,318.47 364.19,318.75 365.29,318.75 365.29,318.97 365.45,318.97 365.45,319 366.71,319 366.71,319.5 368.52,319.5 368.52,320.22 370,320.22 370,320.82 371.08,320.82 371.08,321.25 372.58,321.25 372.58,321.85 372.73,321.85 372.73,321.91 373.77,321.91 373.77,322.69 375.26,322.69 375.26,323.81 376.48,323.81 376.48,324.72 378.07,324.72 378.07,325.92 378.55,325.92 378.55,326.27 379.45,326.27 379.45,327.63 380.46,327.63 380.46,329.15 381.57,329.15 381.57,330.81 382.62,330.81 382.62,332.38 382.91,332.38 382.91,332.82 384.04,332.82 384.04,333.81 384.81,333.81 384.81,334.48 385.68,334.48 385.68,335.25 387,335.25 387,336.4 388.18,336.4 388.18,337.43 388.73,337.43 388.73,337.91 389.66,337.91 389.66,339.16 390.28,339.16 390.28,339.98 391.3,339.98 391.3,341.33 392.45,341.33 392.45,342.87 393.09,342.87 393.09,343.73 394.11,343.73 394.11,344.74 395.48,344.74 395.48,346.11 396.35,346.11 396.35,346.98 396.73,346.98 396.73,347.36 397.08,347.36 397.08,348.6 397.4,348.6 397.4,349.71 397.94,349.71 397.94,351.61 398.18,351.61 398.18,352.45 398.18,353 398.28,353 398.28,354.16 398.4,354.16 398.4,355.6 398.49,355.6 398.49,356.69 398.58,356.69 398.58,357.79 398.69,357.79 398.69,359.11 398.79,359.11 398.79,360.26 398.91,360.26 398.91,361.73 399.21,361.73 399.21,363.53 399.42,363.53 399.42,364.8 399.61,364.8 399.61,365.92 399.88,365.92 399.88,367.55 400.06,367.55 400.06,368.64 400.36,368.64 400.36,370.42 400.36,370.42 400.36,370.45 400.62,370.45 400.62,371.46 401.02,371.46 401.02,373.09 401.38,373.09 401.38,374.51 401.68,374.51 401.68,375.72 402.04,375.72 402.04,377.15 402.33,377.15 402.33,378.34 402.55,378.34 402.55,379.18 402.82,379.18 402.82,380.85 403.11,380.85 403.11,382.58 403.39,382.58 403.39,384.23 403.63,384.23 403.63,385.67 403.86,385.67 403.86,387.05 404,387.05 404,387.91 404.15,387.91 404.15,389.26 404.29,389.26 404.29,390.52 404.43,390.52 404.43,391.82 404.6,391.82 404.6,393.3 404.73,393.3 404.73,394.45 405.92,394.45 405.92,395.3 406.95,395.3 406.95,396.03 407.4,396.03 407.4,396.35" stroke="#ff4545" stroke-width="1.05" fill="none" stroke-linejoin="round"/>
<polyline points="289.5,314.6 324.87,315.01 332,315.36 333.52,315.36 333.52,315.49 335.4,315.49 335.4,315.64 336.71,315.64 336.71,315.74 338.27,315.74 338.27,315.86 339.9,315.86 339.9,316 341.43,316 341.43,316.12 342.45,316.12 342.45,316.2 344.24,316.2 344.24,316.34 345.86,316.34 345.86,316.47 346.55,316.47 346.55,316.53 348.05,316.53 348.05,316.75 349.58,316.75 349.58,316.98 351.15,316.98 351.15,317.22 352.45,317.22 352.45,317.41 354.16,317.41 354.16,317.67 356.02,317.67 356.02,317.95 357.04,317.95 357.04,318.1 358.04,318.1 358.04,318.25 358.18,318.25 358.18,318.27 359.39,318.27 359.39,318.57 360.81,318.57 360.81,318.93 362.05,318.93 362.05,319.24 363.17,319.24 363.17,319.52 364.2,319.52 364.2,319.78 365.75,319.78 365.75,320.16 366.91,320.16 366.91,320.45 367.93,320.45 367.93,320.86 369.32,320.86 369.32,321.42 371.03,321.42 371.03,322.1 372.21,322.1 372.21,322.57 373.48,322.57 373.48,323.08 374.18,323.08 374.18,323.36 375.16,323.36 375.16,323.85 376.34,323.85 376.34,324.44 377.88,324.44 377.88,325.22 378.55,325.22 378.55,325.55 379.41,325.55 379.41,326.99 380.3,326.99 380.3,328.47 381.23,328.47 381.23,330.01 382.25,330.01 382.25,331.73 382.91,331.73 382.91,332.82 383.49,332.82 383.49,333.69 384.41,333.69 384.41,335.07 385.12,335.07 385.12,336.13 386.08,336.13 386.08,337.57 386.76,337.57 386.76,338.59 387.27,338.59 387.27,339.36 387.9,339.36 387.9,340.78 388.5,340.78 388.5,342.13 389.09,342.13 389.09,343.44 389.71,343.44 389.71,344.85 390.18,344.85 390.18,345.91 390.76,345.91 390.76,347.07 391.28,347.07 391.28,348.11 391.88,348.11 391.88,349.3 392.67,349.3 392.67,350.88 393.09,350.88 393.09,351.73 394.26,351.73 394.26,352.75 394.55,352.75 394.55,353 395.11,353 395.11,354.51 395.8,354.51 395.8,356.34 396.21,356.34 396.21,357.44 396.73,357.44 396.73,358.82 397.12,358.82 397.12,360.37 397.52,360.37 397.52,361.97 397.81,361.97 397.81,363.13 398.12,363.13 398.12,364.4 398.47,364.4 398.47,365.77 398.88,365.77 398.88,367.44 398.91,367.44 398.91,367.55 399.15,367.55 399.15,368.77 399.5,368.77 399.5,370.49 399.88,370.49 399.88,372.39 400.08,372.39 400.08,373.42 400.33,373.42 400.33,374.65 400.36,374.65 400.36,374.82 400.72,374.82 400.72,376.23 401.06,376.23 401.06,377.61 401.45,377.61 401.45,379.15 401.89,379.15 401.89,380.91 402.27,380.91 402.27,382.46 402.55,382.46 402.55,383.55 402.9,383.55 402.9,384.71 403.37,384.71 403.37,386.3 403.78,386.3 403.78,387.65 404.34,387.65 404.34,389.51 404.69,389.51 404.69,390.68 404.73,390.68 404.73,390.82 405.25,390.82 405.25,391.9 405.7,391.9 405.7,392.83 406.53,392.83 406.53,394.54 407.22,394.54 407.22,395.97 407.4,395.97 407.4,396.35" stroke="#21b55c" stroke-width="1.05" fill="none" stroke-linejoin="round"/>
<polyline points="289.5,314.6 317.8,314.6 318.67,314.6 318.67,315.51 318.98,315.51 318.98,315.83 332,315.65 333.81,315.65 333.81,315.76 334.88,315.76 334.88,315.83 336.28,315.83 336.28,315.91 338.09,315.91 338.09,316.02 339.17,316.02 339.17,316.08 340.21,316.08 340.21,316.15 341.76,316.15 341.76,316.24 342.81,316.24 342.81,316.3 343.85,316.3 343.85,316.37 345.38,316.37 345.38,316.46 346.55,316.46 346.55,316.53 347.9,316.53 347.9,316.76 349.51,316.76 349.51,317.05 351.38,317.05 351.38,317.37 352.81,317.37 352.81,317.62 354.46,317.62 354.46,317.91 355.82,317.91 355.82,318.15 356.9,318.15 356.9,318.34 358.18,318.34 358.18,318.56 359.44,318.56 359.44,318.94 360.89,318.94 360.89,319.38 362.3,319.38 362.3,319.8 363.32,319.8 363.32,320.11 365.12,320.11 365.12,320.65 366.14,320.65 366.14,320.95 366.91,320.95 366.91,321.18 367.99,321.18 367.99,321.61 369.55,321.61 369.55,322.24 371.36,322.24 371.36,322.96 372.79,322.96 372.79,323.54 373.86,323.54 373.86,323.96 374.18,323.96 374.18,324.09 375.11,324.09 375.11,324.86 376.34,324.86 376.34,325.89 377.13,325.89 377.13,326.55 378.27,326.55 378.27,327.5 378.55,327.5 378.55,327.73 379.24,327.73 379.24,328.84 379.87,328.84 379.87,329.84 380.43,329.84 380.43,330.75 381.49,330.75 381.49,332.43 382.18,332.43 382.18,333.55 382.91,333.55 382.91,334.64 383.86,334.64 383.86,336.07 384.91,336.07 384.91,337.64 385.65,337.64 385.65,338.74 386.23,338.74 386.23,339.61 386.55,339.61 386.55,340.09 387.1,340.09 387.1,341.33 387.7,341.33 387.7,342.7 388.34,342.7 388.34,344.13 388.94,344.13 388.94,345.47 389.45,345.47 389.45,346.64 389.91,346.64 389.91,347.86 390.37,347.86 390.37,349.08 390.74,349.08 390.74,350.07 391.28,350.07 391.28,351.5 391.64,351.5 391.64,352.45 390.18,353 390.91,353 390.91,354.81 391.56,354.81 391.56,356.43 392.05,356.43 392.05,357.68 392.72,357.68 392.72,359.34 393.09,359.34 393.09,360.27 393.61,360.27 393.61,362.08 394.11,362.08 394.11,363.85 394.45,363.85 394.45,365.04 394.99,365.04 394.99,366.9 395.49,366.9 395.49,368.68 395.78,368.68 395.78,369.67 396,369.67 396,370.45 396.53,370.45 396.53,372.23 397.03,372.23 397.03,373.89 397.48,373.89 397.48,375.39 397.94,375.39 397.94,376.93 398.18,376.93 398.18,377.73 398.62,377.73 398.62,378.88 399.07,378.88 399.07,380.11 399.56,380.11 399.56,381.4 400.1,381.4 400.1,382.83 400.36,382.83 400.36,383.55 400.97,383.55 400.97,384.76 401.77,384.76 401.77,386.35 402.37,386.35 402.37,387.56 402.96,387.56 402.96,388.73 403.27,388.73 403.27,389.36 403.95,389.36 403.95,390.5 404.5,390.5 404.5,391.44 405.04,391.44 405.04,392.35 405.93,392.35 405.93,393.85 406.6,393.85 406.6,395 407.4,395 407.4,396.35" stroke="#4c4cf5" stroke-width="1.05" fill="none" stroke-linejoin="round"/>
<polyline points="289.5,314.6 304.83,314.6 306.01,315.42 307.2,315.42 307.2,315.45 308.39,315.45 308.39,315.48 309.77,315.48 309.77,315.52 311.45,315.52 311.45,315.56 313.03,315.56 313.03,315.6 314.24,315.6 314.24,315.63 315.34,315.63 315.34,315.66 316.7,315.66 316.7,315.7 318.15,315.7 318.15,315.73 319.75,315.73 319.75,315.77 321.7,315.77 321.7,315.82 323.24,315.82 323.24,315.86 324.48,315.86 324.48,315.9 325.56,315.9 325.56,315.92 327.28,315.92 327.28,315.97 328.66,315.97 328.66,316 330.01,316 330.01,316.04 331.3,316.04 331.3,316.07 332,316.07 332,316.09 333.28,316.09 333.28,316.26 334.37,316.26 334.37,316.4 335.41,316.4 335.41,316.53 337.1,316.53 337.1,316.75 338.57,316.75 338.57,316.95 340.15,316.95 340.15,317.15 341.23,317.15 341.23,317.29 342.77,317.29 342.77,317.49 344.52,317.49 344.52,317.72 345.91,317.72 345.91,317.9 346.55,317.9 346.55,317.98 348.27,317.98 348.27,318.47 349.26,318.47 349.26,318.75 351.07,318.75 351.07,319.26 352.5,319.26 352.5,319.67 353.71,319.67 353.71,320.01 355.27,320.01 355.27,320.45 356.58,320.45 356.58,320.98 357.51,320.98 357.51,321.35 359.01,321.35 359.01,321.95 360.53,321.95 360.53,322.56 361.55,322.56 361.55,322.96 362.55,322.96 362.55,323.36 363.54,323.36 363.54,323.86 365.27,323.86 365.27,324.73 367.01,324.73 367.01,325.6 368.36,325.6 368.36,326.27 369.25,326.27 369.25,327.3 370.14,327.3 370.14,328.35 371.44,328.35 371.44,329.86 372.49,329.86 372.49,331.09 372.73,331.09 372.73,331.36 373.77,331.36 373.77,332.76 374.84,332.76 374.84,334.18 375.72,334.18 375.72,335.35 376.82,335.35 376.82,336.82 377.09,336.82 377.09,337.18 377.77,337.18 377.77,338.54 378.59,338.54 378.59,340.19 379.46,340.19 379.46,341.93 380,341.93 380,343 380.84,343 380.84,344.69 381.62,344.69 381.62,346.24 382.45,346.24 382.45,347.9 382.91,347.9 382.91,348.82 383.79,348.82 383.79,350.51 384.51,350.51 384.51,351.89 385.09,351.89 385.09,353 385.64,353 385.64,354.46 386.18,354.46 386.18,355.9 386.7,355.9 386.7,357.3 387.25,357.3 387.25,358.77 387.27,358.77 387.27,358.82 387.61,358.82 387.61,359.94 387.94,359.94 387.94,361.03 388.23,361.03 388.23,361.99 388.54,361.99 388.54,363.05 388.97,363.05 388.97,364.48 389.4,364.48 389.4,365.9 389.45,365.9 389.45,366.09 389.82,366.09 389.82,367.05 390.37,367.05 390.37,368.53 390.84,368.53 390.84,369.79 391.35,369.79 391.35,371.15 391.64,371.15 391.64,371.91 391.89,371.91 391.89,373.2 392.26,373.2 392.26,375.04 392.54,375.04 392.54,376.42 392.78,376.42 392.78,377.61 393,377.61 393,378.74 393.09,378.74 393.09,379.18 393.36,379.18 393.36,380.28 393.72,380.28 393.72,381.7 394.05,381.7 394.05,383.02 394.4,383.02 394.4,384.4 394.55,384.4 394.55,385 394.96,385 394.96,386.23 395.56,386.23 395.56,388.04 396,388.04 396,389.36 396.88,389.36 396.88,390.24 397.7,390.24 397.7,391.07 398.47,391.07 398.47,391.83 399.84,391.83 399.84,393.2 400.36,393.2 400.36,393.73 402.01,393.73 402.01,394.34 403.74,394.34 403.74,394.98 404.76,394.98 404.76,395.36 406.12,395.36 406.12,395.87 407.4,395.87 407.4,396.35" stroke="#1fd2dc" stroke-width="1.05" fill="none" stroke-linejoin="round"/>
<polyline points="289.5,314.6 290.6,314.6 290.6,314.63 292.54,314.63 292.54,314.67 294.38,314.67 294.38,314.71 295.53,314.71 295.53,314.74 297.48,314.74 297.48,314.78 299.46,314.78 299.46,314.83 301.05,314.83 301.05,314.87 303.03,314.87 303.03,314.91 304.74,314.91 304.74,314.95 305.98,314.95 305.98,314.98 307.7,314.98 307.7,315.02 309.28,315.02 309.28,315.06 310.37,315.06 310.37,315.08 311.7,315.08 311.7,315.11 313.42,315.11 313.42,315.15 314.69,315.15 314.69,315.18 316.44,315.18 316.44,315.22 317.45,315.22 317.45,315.25 318.71,315.25 318.71,315.28 319.83,315.28 319.83,315.3 321.05,315.3 321.05,315.33 322.73,315.33 322.73,315.37 324.22,315.37 324.22,315.4 324.87,315.4 324.87,315.42 332,315.8 333.63,315.8 333.63,316 334.8,316 334.8,316.14 336.65,316.14 336.65,316.36 337.84,316.36 337.84,316.5 339.02,316.5 339.02,316.64 340.53,316.64 340.53,316.82 342.27,316.82 342.27,317.03 343.97,317.03 343.97,317.24 345.68,317.24 345.68,317.44 346.55,317.44 346.55,317.55 348.31,317.55 348.31,318.05 349.35,318.05 349.35,318.34 350.94,318.34 350.94,318.79 352.25,318.79 352.25,319.16 353.64,319.16 353.64,319.56 355.27,319.56 355.27,320.02 356.61,320.02 356.61,320.5 358.48,320.5 358.48,321.17 360.18,321.17 360.18,321.79 361.2,321.79 361.2,322.15 362.47,322.15 362.47,322.61 362.55,322.61 362.55,322.64 363.98,322.64 363.98,323.35 365.28,323.35 365.28,324.01 366.79,324.01 366.79,324.76 367.9,324.76 367.9,325.31 368.36,325.31 368.36,325.55 369.91,325.55 369.91,326.7 370.92,326.7 370.92,327.46 372.18,327.46 372.18,328.41 373.55,328.41 373.55,329.44 374.18,329.44 374.18,329.91 375.01,329.91 375.01,330.74 375.76,330.74 375.76,331.48 376.95,331.48 376.95,332.68 378.02,332.68 378.02,333.75 378.55,333.75 378.55,334.27 379.72,334.27 379.72,335.83 380.64,335.83 380.64,337.06 381.56,337.06 381.56,338.29 382.58,338.29 382.58,339.66 382.91,339.66 382.91,340.09 383.85,340.09 383.85,341.6 384.41,341.6 384.41,342.5 385.38,342.5 385.38,344.04 386.05,344.04 386.05,345.11 386.55,345.11 386.55,345.91 387.07,345.91 387.07,347.19 387.79,347.19 387.79,348.95 388.53,348.95 388.53,350.74 388.97,350.74 388.97,351.82 389.38,351.82 389.38,352.82 389.45,352.82 389.45,353 389.82,353 389.82,354.22 390.2,354.22 390.2,355.49 390.74,355.49 390.74,357.27 391.18,357.27 391.18,358.74 391.64,358.74 391.64,360.27 391.95,360.27 391.95,361.33 392.4,361.33 392.4,362.82 392.88,362.82 392.88,364.41 393.38,364.41 393.38,366.09 393.73,366.09 393.73,367.25 393.82,367.25 393.82,367.55 394.31,367.55 394.31,369.18 394.68,369.18 394.68,370.43 395.12,370.43 395.12,371.9 395.49,371.9 395.49,373.11 395.95,373.11 395.95,374.64 396,374.64 396,374.82 396.64,374.82 396.64,376.42 397.22,376.42 397.22,377.87 397.79,377.87 397.79,379.28 398.24,379.28 398.24,380.42 398.77,380.42 398.77,381.75 398.91,381.75 398.91,382.09 399.4,382.09 399.4,383.72 399.89,383.72 399.89,385.36 400.19,385.36 400.19,386.37 400.49,386.37 400.49,387.37 400.9,387.37 400.9,388.74 401.09,388.74 401.09,389.36 401.24,389.36 401.24,390.69 401.39,390.69 401.39,392.1 401.61,392.1 401.61,394.06 401.77,394.06 401.77,395.48 401.82,395.48 401.82,395.91 407.4,396.35" stroke="#f850dc" stroke-width="1.05" fill="none" stroke-linejoin="round"/>
<polyline points="289.5,314.6 290.54,314.6 290.54,314.62 291.67,314.62 291.67,314.65 293.4,314.65 293.4,314.69 294.45,314.69 294.45,314.71 295.54,314.71 295.54,314.74 297.32,314.74 297.32,314.78 299.03,314.78 299.03,314.82 300.33,314.82 300.33,314.85 301.5,314.85 301.5,314.88 303.38,314.88 303.38,314.92 304.43,314.92 304.43,314.95 305.65,314.95 305.65,314.97 307.03,314.97 307.03,315.01 308.71,315.01 308.71,315.04 310.61,315.04 310.61,315.09 312.13,315.09 312.13,315.12 313.3,315.12 313.3,315.15 314.51,315.15 314.51,315.18 316.15,315.18 316.15,315.22 317.69,315.22 317.69,315.25 319.26,315.25 319.26,315.29 321.05,315.29 321.05,315.33 322.86,315.33 322.86,315.37 324.47,315.37 324.47,315.41 324.87,315.41 324.87,315.42 332,315.8 333.79,315.8 333.79,316.02 335.33,316.02 335.33,316.2 336.96,316.2 336.96,316.4 338.28,316.4 338.28,316.55 339.82,316.55 339.82,316.74 341.03,316.74 341.03,316.88 342.99,316.88 342.99,317.12 344.09,317.12 344.09,317.25 345.42,317.25 345.42,317.41 346.55,317.41 346.55,317.55 347.91,317.55 347.91,317.89 349.61,317.89 349.61,318.31 350.98,318.31 350.98,318.66 352.05,318.66 352.05,318.92 353.45,318.92 353.45,319.27 354.78,319.27 354.78,319.6 355.27,319.6 355.27,319.73 356.9,319.73 356.9,320.38 358.49,320.38 358.49,321.02 359.62,321.02 359.62,321.46 360.59,321.46 360.59,321.85 361.7,321.85 361.7,322.3 362.55,322.3 362.55,322.64 363.84,322.64 363.84,323.41 364.94,323.41 364.94,324.08 366.53,324.08 366.53,325.03 367.48,325.03 367.48,325.6 368.85,325.6 368.85,326.42 369.76,326.42 369.76,326.96 369.82,326.96 369.82,327 370.99,327 370.99,328.17 371.73,328.17 371.73,328.91 372.77,328.91 372.77,329.95 373.98,329.95 373.98,331.16 375.05,331.16 375.05,332.23 375.64,332.23 375.64,332.82 376.88,332.82 376.88,334.06 377.7,334.06 377.7,334.88 378.99,334.88 378.99,336.17 380,336.17 380,337.18 380.83,337.18 380.83,338.28 381.53,338.28 381.53,339.22 382.27,339.22 382.27,340.21 383.46,340.21 383.46,341.8 384.36,341.8 384.36,343 385.19,343 385.19,344.64 385.7,344.64 385.7,345.68 386.23,345.68 386.23,346.72 386.71,346.72 386.71,347.68 387.27,347.68 387.27,348.82 388,348.82 388,349.86 388.68,349.86 388.68,350.84 389.68,350.84 389.68,352.28 390.18,352.28 390.18,353 390.65,353 390.65,354.39 390.99,354.39 390.99,355.44 391.57,355.44 391.57,357.17 392.02,357.17 392.02,358.52 392.49,358.52 392.49,359.93 392.9,359.93 392.9,361.17 393.09,361.17 393.09,361.73 393.38,361.73 393.38,362.89 393.78,362.89 393.78,364.47 394.13,364.47 394.13,365.89 394.4,365.89 394.4,366.97 394.87,366.97 394.87,368.86 395.14,368.86 395.14,369.94 395.27,369.94 395.27,370.45 395.47,370.45 395.47,371.65 395.67,371.65 395.67,372.85 395.87,372.85 395.87,374.03 396.09,374.03 396.09,375.36 396.37,375.36 396.37,377.04 396.56,377.04 396.56,378.2 396.73,378.2 396.73,379.18 396.83,379.18 396.83,380.64 396.93,380.64 396.93,381.98 397.05,381.98 397.05,383.68 397.18,383.68 397.18,385.51 397.31,385.51 397.31,387.28 397.39,387.28 397.39,388.46 397.45,388.46 397.45,389.36 397.75,395.91 407.4,396.35" stroke="#dcd232" stroke-width="1.05" fill="none" stroke-linejoin="round"/>
<polyline points="289.5,314.6 290.84,314.6 290.84,314.63 292.5,314.63 292.5,314.67 294.24,314.67 294.24,314.71 295.57,314.71 295.57,314.74 296.88,314.74 296.88,314.77 298.79,314.77 298.79,314.82 299.99,314.82 299.99,314.84 301.54,314.84 301.54,314.88 303.3,314.88 303.3,314.92 305,314.92 305,314.96 306.86,314.96 306.86,315 308.47,315 308.47,315.04 309.96,315.04 309.96,315.07 311.96,315.07 311.96,315.12 313.45,315.12 313.45,315.15 314.73,315.15 314.73,315.18 315.99,315.18 315.99,315.21 317.39,315.21 317.39,315.25 318.52,315.25 318.52,315.27 319.93,315.27 319.93,315.3 321.73,315.3 321.73,315.35 322.99,315.35 322.99,315.38 324.76,315.38 324.76,315.42 324.87,315.42 324.87,315.42 326.81,315.42 326.81,315.6 328.56,315.6 328.56,315.77 330.5,315.77 330.5,315.95 331.83,315.95 331.83,316.08 332,316.08 332,316.09 333.61,316.09 333.61,316.33 335.39,316.33 335.39,316.6 337,316.6 337,316.84 338.07,316.84 338.07,317 339.62,317 339.62,317.23 340.67,317.23 340.67,317.39 341.8,317.39 341.8,317.56 342.99,317.56 342.99,317.74 344.17,317.74 344.17,317.92 346.14,317.92 346.14,318.21 346.55,318.21 346.55,318.27 347.83,318.27 347.83,318.66 349.19,318.66 349.19,319.07 350.8,319.07 350.8,319.55 352.31,319.55 352.31,320 353.82,320 353.82,320.45 355.52,320.45 355.52,321.14 356.82,321.14 356.82,321.66 357.88,321.66 357.88,322.08 359.41,322.08 359.41,322.69 361.09,322.69 361.09,323.36 362.47,323.36 362.47,324.05 363.88,324.05 363.88,324.76 365.42,324.76 365.42,325.53 365.45,325.53 365.45,325.55 366.04,325.55 366.04,326.42 366.78,326.42 366.78,327.53 367.51,327.53 367.51,328.63 368.36,328.63 368.36,329.91 368.96,329.91 368.96,330.87 369.82,330.87 369.82,332.24 370.43,332.24 370.43,333.21 371.44,333.21 371.44,334.83 372,334.83 372,335.73 372.47,335.73 372.47,336.66 373.19,336.66 373.19,338.1 373.71,338.1 373.71,339.15 374.38,339.15 374.38,340.49 374.91,340.49 374.91,341.55 375.24,341.55 375.24,342.82 375.49,342.82 375.49,343.8 376,343.8 376,345.73 376.48,345.73 376.48,347.58 376.8,347.58 376.8,348.82 377.09,353 377.27,353 377.27,354.4 377.5,354.4 377.5,356.26 377.73,356.26 377.73,358.11 377.82,358.11 377.82,358.82 378.45,358.82 378.45,360.07 379.27,360.07 379.27,361.72 379.86,361.72 379.86,362.89 380,362.89 380,363.18 407.4,396.35" stroke="#e05a5a" stroke-width="1.05" fill="none" stroke-linejoin="round"/>
<polyline points="289.5,314.6 290.74,314.6 290.74,314.63 292.27,314.63 292.27,314.66 293.94,314.66 293.94,314.7 295.32,314.7 295.32,314.73 297.02,314.73 297.02,314.77 298.87,314.77 298.87,314.82 300.25,314.82 300.25,314.85 301.8,314.85 301.8,314.88 303.25,314.88 303.25,314.92 304.27,314.92 304.27,314.94 305.98,314.94 305.98,314.98 307.65,314.98 307.65,315.02 309.35,315.02 309.35,315.06 311.35,315.06 311.35,315.11 312.78,315.11 312.78,315.14 314.72,315.14 314.72,315.18 315.73,315.18 315.73,315.21 316.81,315.21 316.81,315.23 318.49,315.23 318.49,315.27 319.57,315.27 319.57,315.3 321.07,315.3 321.07,315.33 323.02,315.33 323.02,315.38 324.85,315.38 324.85,315.42 324.87,315.42 324.87,315.42 332,315.8 333.02,315.8 333.02,315.89 334.7,315.89 334.7,316.04 336.38,316.04 336.38,316.19 337.67,316.19 337.67,316.31 338.84,316.31 338.84,316.42 340.11,316.42 340.11,316.53 341.74,316.53 341.74,316.68 343.5,316.68 343.5,316.83 344.89,316.83 344.89,316.96 346.55,316.96 346.55,317.11 348.32,317.11 348.32,317.44 350.14,317.44 350.14,317.78 351.39,317.78 351.39,318.01 353.31,318.01 353.31,318.37 354.77,318.37 354.77,318.64 356.09,318.64 356.09,318.88 356.73,318.88 356.73,319 357.98,319 357.98,319.5 359.54,319.5 359.54,320.13 361.21,320.13 361.21,320.79 362.91,320.79 362.91,321.47 364,321.47 364,321.91 365.62,321.91 365.62,322.72 367,322.72 367,323.41 368.11,323.41 368.11,323.96 369.34,323.96 369.34,324.58 370.33,324.58 370.33,325.07 371.27,325.07 371.27,325.55 372.13,325.55 372.13,326.26 372.9,326.26 372.9,326.91 373.68,326.91 373.68,327.55 375.04,327.55 375.04,328.68 375.64,328.68 375.64,329.18 376.38,329.18 376.38,330.05 377.17,330.05 377.17,330.97 378.15,330.97 378.15,332.12 378.93,332.12 378.93,333.03 379.85,333.03 379.85,334.1 380,334.1 380,334.27 381.2,334.27 381.2,335.87 382.01,335.87 382.01,336.95 382.79,336.95 382.79,337.99 383.65,337.99 383.65,339.14 384.36,339.14 384.36,340.08 384.36,340.08 384.36,340.09 385.09,340.09 385.09,341.25 385.67,341.25 385.67,342.18 386.38,342.18 386.38,343.31 386.94,343.31 386.94,344.22 387.86,344.22 387.86,345.68 388,345.68 388,345.91 388.47,345.91 388.47,347.18 389.09,347.18 389.09,348.8 389.61,348.8 389.61,350.22 390.18,350.22 390.18,351.73 391.64,351.73 391.64,353 392.47,353 392.47,354.34 393.3,354.34 393.3,355.67 393.93,355.67 393.93,356.67 394.62,356.67 394.62,357.78 395.27,357.78 395.27,358.82 395.73,358.82 395.73,360.18 396.14,360.18 396.14,361.43 396.53,361.43 396.53,362.59 396.88,362.59 396.88,363.63 397.27,363.63 397.27,364.8 397.73,364.8 397.73,366.18 398.18,366.18 398.18,367.55 398.66,367.55 398.66,369.45 398.94,369.45 398.94,370.59 399.29,370.59 399.29,371.99 399.77,371.99 399.77,373.91 400.15,373.91 400.15,375.44 400.36,375.44 400.36,376.27 400.79,376.27 400.79,377.96 401.23,377.96 401.23,379.72 401.62,379.72 401.62,381.28 401.87,381.28 401.87,382.28 402.27,382.28 402.27,383.9 402.55,383.9 402.55,385 403.06,385 403.06,386.71 403.53,386.71 403.53,388.3 404.03,388.3 404.03,389.96 404.61,389.96 404.61,391.87 404.73,391.87 404.73,392.27 405.71,392.27 405.71,393.77 406.75,393.77 406.75,395.35 407.4,395.35 407.4,396.35" stroke="#ffa826" stroke-width="1.05" fill="none" stroke-linejoin="round"/>
<polyline points="289.5,314.6 318.98,314.6 320.08,314.6 320.08,316.14 320.15,316.14 320.15,316.24 332,316.53 333.95,316.53 333.95,316.8 335.24,316.8 335.24,316.98 336.49,316.98 336.49,317.16 337.98,317.16 337.98,317.36 339.58,317.36 339.58,317.59 340.91,317.59 340.91,317.77 342.39,317.77 342.39,317.98 344.04,317.98 344.04,318.21 345.98,318.21 345.98,318.48 346.55,318.48 346.55,318.56 348.07,318.56 348.07,319.11 349.28,319.11 349.28,319.55 351.1,319.55 351.1,320.2 352.52,320.2 352.52,320.71 353.82,320.71 353.82,321.18 355.17,321.18 355.17,322.03 356.15,322.03 356.15,322.64 357.26,322.64 357.26,323.33 358.3,323.33 358.3,323.98 359.2,323.98 359.2,324.54 359.64,324.54 359.64,324.82 360.8,324.82 360.8,325.79 362.29,325.79 362.29,327.03 363.57,327.03 363.57,328.1 364,328.1 364,328.45 365.3,328.45 365.3,329.76 366.43,329.76 366.43,330.88 367.82,330.88 367.82,332.28 368.36,332.28 368.36,332.82 369.34,332.82 369.34,334.12 370.08,334.12 370.08,335.1 371.13,335.1 371.13,336.51 372,336.51 372,337.67 372.73,337.67 372.73,338.64 373.5,338.64 373.5,340.19 374.33,340.19 374.33,341.85 374.83,341.85 374.83,342.85 375.32,342.85 375.32,343.83 375.64,343.83 375.64,344.45 376.28,344.45 376.28,345.95 377.02,345.95 377.02,347.67 377.66,347.67 377.66,349.17 377.82,349.17 377.82,349.55 378.98,349.55 378.98,350.92 380.23,350.92 380.23,352.41 380.73,352.41 380.73,353 381.56,353 381.56,354.66 382.09,354.66 382.09,355.72 382.73,355.72 382.73,357.01 383.27,357.01 383.27,358.09 383.64,358.09 383.64,358.82 383.8,358.82 383.8,360.78 383.94,360.78 383.94,362.44 384.06,362.44 384.06,363.86 384.2,363.86 384.2,365.56 384.34,365.56 384.34,367.21 384.36,367.21 384.36,367.55 384.6,367.55 384.6,368.72 384.91,368.72 384.91,370.28 385.27,370.28 385.27,372.09 385.56,372.09 385.56,373.54 385.82,373.54 385.82,374.82 386.12,374.82 386.12,376.32 386.38,376.32 386.38,377.6 386.72,377.6 386.72,379.35 387.07,379.35 387.07,381.06 387.27,381.06 387.27,382.09 387.74,382.09 387.74,383.34 388.28,383.34 388.28,384.78 388.83,384.78 388.83,386.24 389.36,386.24 389.36,387.65 389.45,387.65 389.45,387.91 390.31,387.91 390.31,388.94 391.02,388.94 391.02,389.79 391.7,389.79 391.7,390.61 392.89,390.61 392.89,392.03 393.09,392.03 393.09,392.27 394.5,392.27 394.5,393.21 395.41,393.21 395.41,393.82 396.95,393.82 396.95,394.84 397.45,394.84 397.45,395.18 399.12,395.18 399.12,395.38 400.51,395.38 400.51,395.54 402.42,395.54 402.42,395.76 404.1,395.76 404.1,395.96 405.88,395.96 405.88,396.17 406.97,396.17 406.97,396.3 407.4,396.3 407.4,396.35" stroke="#c03cb8" stroke-width="1.05" fill="none" stroke-linejoin="round"/>
</g>
<path d="M289.5 314.6V396.5M407.4 314.6V396.5" fill="none" stroke="#c4c4c4" stroke-width="1.1" stroke-linecap="square"/>
<path d="M289.5 314.6H407.4M289.5 396.5H407.4" fill="none" stroke="#bebebe" stroke-width="0.75" stroke-linecap="square"/>
<text x="289.5" y="401" text-anchor="middle" class="t">0.0</text>
<text x="287.7" y="398.1" text-anchor="end" class="t">0.0</text>
<text x="313.08" y="401" text-anchor="middle" class="t">0.2</text>
<text x="287.7" y="381.72" text-anchor="end" class="t">0.2</text>
<text x="336.66" y="401" text-anchor="middle" class="t">0.4</text>
<text x="287.7" y="365.34" text-anchor="end" class="t">0.4</text>
<text x="360.24" y="401" text-anchor="middle" class="t">0.6</text>
<text x="287.7" y="348.96" text-anchor="end" class="t">0.6</text>
<text x="383.82" y="401" text-anchor="middle" class="t">0.8</text>
<text x="287.7" y="332.58" text-anchor="end" class="t">0.8</text>
<text x="407.4" y="401" text-anchor="middle" class="t">1.0</text>
<text x="287.7" y="316.2" text-anchor="end" class="t">1.0</text>
<text x="348.45" y="312.9" text-anchor="middle" class="b">Car</text>
<text x="348.45" y="406.7" text-anchor="middle" class="b">Recall</text>
<text transform="translate(281.2 355.55) rotate(-90)" text-anchor="middle" class="b p">Precision</text>
</g>
<g>
<path d="M450.78 314.6V396.5M427.2 380.12H545.1M474.36 314.6V396.5M427.2 363.74H545.1M497.94 314.6V396.5M427.2 347.36H545.1M521.52 314.6V396.5M427.2 330.98H545.1" stroke="#e2e2e2" stroke-width="0.6" fill="none"/>
<path d="M427.2 396.5v1M427.2 396.5h-1M450.78 396.5v1M427.2 380.12h-1M474.36 396.5v1M427.2 363.74h-1M497.94 396.5v1M427.2 347.36h-1M521.52 396.5v1M427.2 330.98h-1M545.1 396.5v1M427.2 314.6h-1" stroke="#999" stroke-width="0.4" fill="none"/>
<clipPath id="cPeople"><rect x="427.2" y="314.6" width="117.9" height="81.9"/></clipPath>
<g clip-path="url(#cPeople)">
<polyline points="427.2,314.6 450.78,315.01 468,315.36 482.55,315.8 497.09,316.38 507.27,316.53 508.39,316.53 508.39,317.27 509.3,317.27 509.3,317.88 509.45,317.88 509.45,317.98 513.09,318.27 514.12,318.27 514.12,319.13 515.55,319.13 515.55,320.32 516.47,320.32 516.47,321.09 517.28,321.09 517.28,321.77 517.45,321.77 517.45,321.91 518.21,321.91 518.21,322.92 519.06,322.92 519.06,324.05 520.23,324.05 520.23,325.6 521.11,325.6 521.11,326.79 521.82,326.79 521.82,327.73 522.39,327.73 522.39,329.16 523.09,329.16 523.09,330.9 523.74,330.9 523.74,332.53 524.45,332.53 524.45,334.3 524.73,334.3 524.73,335 525.08,335 525.08,336.07 525.59,336.07 525.59,337.6 526.19,337.6 526.19,339.37 526.75,339.37 526.75,341.07 526.91,341.07 526.91,341.55 527.17,341.55 527.17,342.61 527.53,342.61 527.53,344.04 527.97,344.04 527.97,345.8 528.23,345.8 528.23,346.84 528.63,346.84 528.63,348.42 528.88,348.42 528.88,349.43 529.09,349.43 529.09,350.27 529.55,350.27 529.55,352 529.82,352 529.82,353 530.14,353 530.14,354.6 530.34,354.6 530.34,355.61 530.56,355.61 530.56,356.69 530.78,356.69 530.78,357.82 531.16,357.82 531.16,359.7 531.27,359.7 531.27,360.27 531.71,360.27 531.71,362.02 532.17,362.02 532.17,363.85 532.62,363.85 532.62,365.67 532.99,365.67 532.99,367.16 533.42,367.16 533.42,368.84 533.45,368.84 533.45,369 533.93,369 533.93,370.89 534.2,370.89 534.2,371.96 534.59,371.96 534.59,373.55 534.94,373.55 534.94,374.94 535.24,374.94 535.24,376.16 535.54,376.16 535.54,377.35 535.64,377.35 535.64,377.73 536.09,377.73 536.09,379.23 536.38,379.23 536.38,380.21 536.9,380.21 536.9,381.93 537.3,381.93 537.3,383.28 537.61,383.28 537.61,384.3 537.82,384.3 537.82,385 538.37,385 538.37,386.23 539.09,386.23 539.09,387.86 539.71,387.86 539.71,389.27 540.15,389.27 540.15,390.25 540.73,390.25 540.73,391.55 541.65,391.55 541.65,392.55 542.61,392.55 542.61,393.61 543.75,393.61 543.75,394.87 544.54,394.87 544.54,395.73 545.1,395.73 545.1,396.35" stroke="#ff4545" stroke-width="1.05" fill="none" stroke-linejoin="round"/>
<polyline points="427.2,314.6 428.97,314.6 428.97,314.69 430.05,314.69 430.05,314.75 431.39,314.75 431.39,314.82 432.93,314.82 432.93,314.9 434.39,314.9 434.39,314.97 436.13,314.97 436.13,315.07 437.51,315.07 437.51,315.14 439.29,315.14 439.29,315.23 441.21,315.23 441.21,315.33 442.46,315.33 442.46,315.39 444.41,315.39 444.41,315.5 446.18,315.5 446.18,315.59 447.46,315.59 447.46,315.66 449.32,315.66 449.32,315.75 450.58,315.75 450.58,315.82 450.78,315.82 450.78,315.83 451.86,315.83 451.86,315.87 453.49,315.87 453.49,315.94 454.56,315.94 454.56,315.98 456.49,315.98 456.49,316.06 458.38,316.06 458.38,316.14 460.24,316.14 460.24,316.21 462.22,316.21 462.22,316.29 463.34,316.29 463.34,316.34 465.19,316.34 465.19,316.41 467.06,316.41 467.06,316.49 468,316.49 468,316.53 469.72,316.53 469.72,316.73 470.73,316.73 470.73,316.85 472.4,316.85 472.4,317.06 473.67,317.06 473.67,317.21 474.98,317.21 474.98,317.36 476.2,317.36 476.2,317.51 477.63,317.51 477.63,317.68 479.39,317.68 479.39,317.89 480.61,317.89 480.61,318.04 482.22,318.04 482.22,318.23 482.55,318.23 482.55,318.27 483.8,318.27 483.8,318.51 485.36,318.51 485.36,318.8 486.99,318.8 486.99,319.11 488.05,319.11 488.05,319.3 489.23,319.3 489.23,319.53 491.16,319.53 491.16,319.89 492.43,319.89 492.43,320.13 493.51,320.13 493.51,320.33 494.18,320.33 494.18,320.45 495.34,320.45 495.34,320.84 496.64,320.84 496.64,321.28 498.18,321.28 498.18,321.79 499.36,321.79 499.36,322.18 500.46,322.18 500.46,322.55 502.25,322.55 502.25,323.14 502.91,323.14 502.91,323.36 503.96,323.36 503.96,323.68 505.66,323.68 505.66,324.19 507.31,324.19 507.31,324.68 508.87,324.68 508.87,325.15 510.18,325.15 510.18,325.55 511.66,325.55 511.66,326.28 512.73,326.28 512.73,326.82 514.02,326.82 514.02,327.47 515.2,327.47 515.2,328.05 516,328.05 516,328.45 517.25,328.45 517.25,329.71 518.66,329.71 518.66,331.12 519.94,331.12 519.94,332.39 520.36,332.39 520.36,332.82 521.02,332.82 521.02,334 521.92,334 521.92,335.63 522.46,335.63 522.46,336.59 523.34,336.59 523.34,338.17 524,338.17 524,339.36 524.28,339.36 524.28,340.38 524.72,340.38 524.72,342 525.22,342 525.22,343.83 525.66,343.83 525.66,345.46 526,345.46 526,346.68 526.18,346.68 526.18,347.36 526.68,347.36 526.68,349.3 526.95,349.3 526.95,350.35 527.41,350.35 527.41,352.11 527.64,352.11 527.64,353 528.02,353 528.02,354.35 528.37,354.35 528.37,355.56 528.79,355.56 528.79,357.03 529.11,357.03 529.11,358.16 529.58,358.16 529.58,359.81 530.12,359.81 530.12,361.7 530.47,361.7 530.47,362.91 530.55,362.91 530.55,363.18 530.85,363.18 530.85,364.25 531.29,364.25 531.29,365.8 531.84,365.8 531.84,367.7 532.31,367.7 532.31,369.35 532.81,369.35 532.81,371.11 533.19,371.11 533.19,372.43 533.45,372.43 533.45,373.36 533.91,373.36 533.91,374.73 534.41,374.73 534.41,376.22 534.77,376.22 534.77,377.31 535.2,377.31 535.2,378.61 535.82,378.61 535.82,380.45 536.36,380.45 536.36,382.07 536.36,382.07 536.36,382.09 536.82,382.09 536.82,383.24 537.19,383.24 537.19,384.17 537.71,384.17 537.71,385.47 538.41,385.47 538.41,387.22 539.07,387.22 539.07,388.85 539.27,388.85 539.27,389.36 540.21,389.36 540.21,390.48 541.32,390.48 541.32,391.82 542.03,391.82 542.03,392.67 543.27,392.67 543.27,394.15 544.14,394.15 544.14,395.2 545.1,395.2 545.1,396.35" stroke="#21b55c" stroke-width="1.05" fill="none" stroke-linejoin="round"/>
<polyline points="427.2,314.6 428.73,314.6 428.73,314.68 430.06,314.68 430.06,314.75 432.04,314.75 432.04,314.85 433.39,314.85 433.39,314.92 434.49,314.92 434.49,314.98 435.89,314.98 435.89,315.05 437.01,315.05 437.01,315.11 438.38,315.11 438.38,315.18 440.29,315.18 440.29,315.28 441.79,315.28 441.79,315.36 443.32,315.36 443.32,315.44 445.23,315.44 445.23,315.54 446.54,315.54 446.54,315.61 448,315.61 448,315.68 449.62,315.68 449.62,315.77 450.78,315.77 450.78,315.83 451.85,315.83 451.85,315.89 452.94,315.89 452.94,315.95 454.59,315.95 454.59,316.05 456.04,316.05 456.04,316.13 457.09,316.13 457.09,316.19 458.6,316.19 458.6,316.28 460.54,316.28 460.54,316.39 462.46,316.39 462.46,316.5 464.1,316.5 464.1,316.59 465.93,316.59 465.93,316.7 466.98,316.7 466.98,316.76 468,316.76 468,316.82 469.94,316.82 469.94,317.05 471.61,317.05 471.61,317.25 473.44,317.25 473.44,317.47 474.95,317.47 474.95,317.65 476.8,317.65 476.8,317.87 478.74,317.87 478.74,318.11 479.9,318.11 479.9,318.25 481.5,318.25 481.5,318.44 482.55,318.44 482.55,318.56 484.05,318.56 484.05,318.9 485.64,318.9 485.64,319.26 486.77,319.26 486.77,319.51 488.33,319.51 488.33,319.87 490.06,319.87 490.06,320.25 491.96,320.25 491.96,320.68 493.04,320.68 493.04,320.92 494.12,320.92 494.12,321.17 494.18,321.17 494.18,321.18 495.98,321.18 495.98,321.84 497.86,321.84 497.86,322.53 499.33,322.53 499.33,323.07 500.46,323.07 500.46,323.48 501.89,323.48 501.89,324.01 502.91,324.01 502.91,324.38 504.26,324.38 504.26,325 505.83,325 505.83,325.73 507.08,325.73 507.08,326.3 508.56,326.3 508.56,326.98 509.97,326.98 509.97,327.63 510.18,327.63 510.18,327.73 511.71,327.73 511.71,328.68 512.63,328.68 512.63,329.26 514.03,329.26 514.03,330.13 515.23,330.13 515.23,330.88 516,330.88 516,331.36 517.43,331.36 517.43,332.55 518.95,332.55 518.95,333.83 520.02,333.83 520.02,334.71 520.36,334.71 520.36,335 521.24,335 521.24,336.57 522.01,336.57 522.01,337.96 522.9,337.96 522.9,339.56 523.86,339.56 523.86,341.29 524,341.29 524,341.55 524.37,341.55 524.37,342.79 524.95,342.79 524.95,344.71 525.41,344.71 525.41,346.26 525.95,346.26 525.95,348.03 526.18,348.03 526.18,348.82 526.71,348.82 526.71,350.71 527.06,350.71 527.06,351.98 527.35,351.98 527.35,353 527.63,353 527.63,353.99 528.03,353.99 528.03,355.41 528.33,355.41 528.33,356.48 528.75,356.48 528.75,357.97 529.09,357.97 529.09,359.16 529.59,359.16 529.59,360.93 529.82,360.93 529.82,361.73 530.25,361.73 530.25,363.25 530.72,363.25 530.72,364.88 531.04,364.88 531.04,365.99 531.33,365.99 531.33,367.01 531.69,367.01 531.69,368.28 532.11,368.28 532.11,369.76 532.45,369.76 532.45,370.93 532.73,370.93 532.73,371.91 533.23,371.91 533.23,373.53 533.79,373.53 533.79,375.36 534.34,375.36 534.34,377.15 534.7,377.15 534.7,378.33 535,378.33 535,379.3 535.57,379.3 535.57,381.16 535.64,381.16 535.64,381.36 536.19,381.36 536.19,382.68 536.63,382.68 536.63,383.73 537.31,383.73 537.31,385.36 538.04,385.36 538.04,387.12 538.73,387.12 538.73,388.75 538.98,388.75 538.98,389.36 540.29,389.36 540.29,390.85 541.32,390.85 541.32,392.03 542.31,392.03 542.31,393.16 543.15,393.16 543.15,394.12 544.35,394.12 544.35,395.49 545.1,395.49 545.1,396.35" stroke="#4c4cf5" stroke-width="1.05" fill="none" stroke-linejoin="round"/>
<polyline points="427.2,314.6 428.63,314.6 428.63,314.69 430.62,314.69 430.62,314.81 431.66,314.81 431.66,314.88 432.9,314.88 432.9,314.96 434.21,314.96 434.21,315.04 436.18,315.04 436.18,315.16 437.51,315.16 437.51,315.24 438.98,315.24 438.98,315.34 440.4,315.34 440.4,315.43 441.53,315.43 441.53,315.5 442.56,315.5 442.56,315.56 443.64,315.56 443.64,315.63 445.23,315.63 445.23,315.73 447.02,315.73 447.02,315.84 448.73,315.84 448.73,315.95 450.57,315.95 450.57,316.06 450.78,316.06 450.78,316.07 451.95,316.07 451.95,316.12 453.8,316.12 453.8,316.2 455.45,316.2 455.45,316.28 457.22,316.28 457.22,316.35 458.77,316.35 458.77,316.42 460.19,316.42 460.19,316.48 461.5,316.48 461.5,316.54 463.15,316.54 463.15,316.61 464.63,316.61 464.63,316.67 466.58,316.67 466.58,316.76 468,316.76 468,316.82 469.91,316.82 469.91,317.1 471.03,317.1 471.03,317.27 472.2,317.27 472.2,317.45 474.08,317.45 474.08,317.73 475.55,317.73 475.55,317.95 477.04,317.95 477.04,318.17 478.25,318.17 478.25,318.36 479.3,318.36 479.3,318.51 480.98,318.51 480.98,318.77 482.55,318.77 482.55,319 484.29,319 484.29,319.37 486.14,319.37 486.14,319.76 487.28,319.76 487.28,320.01 489.09,320.01 489.09,320.39 490.56,320.39 490.56,320.7 492.18,320.7 492.18,321.05 494.07,321.05 494.07,321.45 494.18,321.45 494.18,321.47 495.92,321.47 495.92,321.99 497.82,321.99 497.82,322.57 499.03,322.57 499.03,322.93 500.88,322.93 500.88,323.48 502.34,323.48 502.34,323.92 502.91,323.92 502.91,324.09 504.25,324.09 504.25,324.76 505.98,324.76 505.98,325.63 507.27,325.63 507.27,326.27 508.54,326.27 508.54,327.75 509.67,327.75 509.67,329.07 510.48,329.07 510.48,330.01 511.61,330.01 511.61,331.33 511.64,331.33 511.64,331.36 512.39,331.36 512.39,333.06 513.12,333.06 513.12,334.69 513.76,334.69 513.76,336.13 514.39,336.13 514.39,337.55 514.55,337.55 514.55,337.91 515.17,337.91 515.17,338.99 515.68,338.99 515.68,339.89 516.34,339.89 516.34,341.06 517.08,341.06 517.08,342.34 517.45,342.34 517.45,343 517.91,343 517.91,344.25 518.39,344.25 518.39,345.58 518.91,345.58 518.91,347 519.31,347 519.31,348.1 519.86,348.1 519.86,349.62 520.25,349.62 520.25,350.69 520.36,350.69 520.36,351 520.97,351 520.97,351.84 521.57,351.84 521.57,352.66 521.82,352.66 521.82,353 522.28,353 522.28,354.6 522.69,354.6 522.69,356.05 522.98,356.05 522.98,357.05 523.29,357.05 523.29,358.16 523.75,358.16 523.75,359.76 524.11,359.76 524.11,361.02 524.48,361.02 524.48,362.32 524.73,362.32 524.73,363.18 525.12,363.18 525.12,364.48 525.49,364.48 525.49,365.72 526.06,365.72 526.06,367.63 526.54,367.63 526.54,369.23 526.91,369.23 526.91,370.45 527.09,370.45 527.09,371.53 527.4,371.53 527.4,373.37 527.66,373.37 527.66,374.96 527.83,374.96 527.83,375.95 528.09,375.95 528.09,377.53 528.25,377.53 528.25,378.53 528.36,378.53 528.36,379.18 528.77,379.18 528.77,380.14 529.37,380.14 529.37,381.54 529.8,381.54 529.8,382.53 530.32,382.53 530.32,383.74 530.55,383.74 530.55,384.27 531.33,384.27 531.33,385.06 532.23,385.06 532.23,385.96 533.39,385.96 533.39,387.12 534.61,387.12 534.61,388.34 534.91,388.34 534.91,388.64 535.52,388.64 535.52,389.55 536.34,389.55 536.34,390.78 537.11,390.78 537.11,391.94 537.75,391.94 537.75,392.9 537.82,392.9 537.82,393 538.91,393 538.91,393.5 540.63,393.5 540.63,394.29 542.31,394.29 542.31,395.06 544.07,395.06 544.07,395.87 545.1,395.87 545.1,396.35" stroke="#1fd2dc" stroke-width="1.05" fill="none" stroke-linejoin="round"/>
<polyline points="427.2,314.6 428.71,314.6 428.71,314.65 430.62,314.65 430.62,314.72 432.01,314.72 432.01,314.77 433.94,314.77 433.94,314.83 435.91,314.83 435.91,314.9 436.93,314.9 436.93,314.94 438.77,314.94 438.77,315 440.61,315 440.61,315.07 442.2,315.07 442.2,315.12 443.33,315.12 443.33,315.16 444.61,315.16 444.61,315.2 445.86,315.2 445.86,315.25 447.5,315.25 447.5,315.31 449.19,315.31 449.19,315.36 450.45,315.36 450.45,315.41 450.78,315.41 450.78,315.42 468,315.8 469.12,315.8 469.12,315.9 470.76,315.9 470.76,316.05 472.15,316.05 472.15,316.17 474.14,316.17 474.14,316.35 475.57,316.35 475.57,316.48 477.06,316.48 477.06,316.62 478.84,316.62 478.84,316.78 480.75,316.78 480.75,316.95 482.55,316.95 482.55,317.11 484.45,317.11 484.45,317.26 485.84,317.26 485.84,317.37 486.99,317.37 486.99,317.46 488.55,317.46 488.55,317.59 490.1,317.59 490.1,317.71 491.63,317.71 491.63,317.84 492.66,317.84 492.66,317.92 494.01,317.92 494.01,318.03 495.72,318.03 495.72,318.16 497.09,318.16 497.09,318.27 498.57,318.27 498.57,318.72 500.45,318.72 500.45,319.28 501.94,319.28 501.94,319.73 503.33,319.73 503.33,320.14 504.36,320.14 504.36,320.45 506.06,320.45 506.06,321.13 507.47,321.13 507.47,321.7 508.6,321.7 508.6,322.15 509.96,322.15 509.96,322.69 511.64,322.69 511.64,323.36 512.6,323.36 512.6,324.09 513.52,324.09 513.52,324.77 515.1,324.77 515.1,325.96 516.13,325.96 516.13,326.74 517.45,326.74 517.45,327.73 518.39,327.73 518.39,328.82 519.32,328.82 519.32,329.91 520.32,329.91 520.32,331.07 521.28,331.07 521.28,332.19 521.82,332.19 521.82,332.82 522.3,332.82 522.3,334.09 522.9,334.09 522.9,335.71 523.43,335.71 523.43,337.11 523.88,337.11 523.88,338.31 524,338.31 524,338.64 524.28,338.64 524.28,339.77 524.67,339.77 524.67,341.32 524.92,341.32 524.92,342.31 525.17,342.31 525.17,343.33 525.44,343.33 525.44,344.4 525.71,344.4 525.71,345.47 526.08,345.47 526.08,346.96 526.18,346.96 526.18,347.36 526.54,347.36 526.54,348.52 526.94,348.52 526.94,349.8 527.36,349.8 527.36,351.15 527.84,351.15 527.84,352.72 527.93,352.72 527.93,353 528.24,353 528.24,354.18 528.71,354.18 528.71,355.95 529.02,355.95 529.02,357.1 529.4,357.1 529.4,358.51 529.85,358.51 529.85,360.21 530.15,360.21 530.15,361.34 530.25,361.34 530.25,361.73 530.75,361.73 530.75,363.46 531.16,363.46 531.16,364.93 531.44,364.93 531.44,365.93 531.81,365.93 531.81,367.23 532.36,367.23 532.36,369.15 532.68,369.15 532.68,370.3 532.73,370.3 532.73,370.45 533.19,370.45 533.19,372.09 533.66,372.09 533.66,373.71 534.06,373.71 534.06,375.14 534.6,375.14 534.6,377.03 535.02,377.03 535.02,378.47 535.47,378.47 535.47,380.04 535.64,380.04 535.64,380.64 536.09,380.64 536.09,381.88 536.54,381.88 536.54,383.13 536.92,383.13 536.92,384.16 537.37,384.16 537.37,385.41 537.74,385.41 537.74,386.42 538.34,386.42 538.34,388.06 538.55,388.06 538.55,388.64 539.81,388.64 539.81,390.12 540.52,390.12 540.52,390.96 541.67,390.96 541.67,392.31 542.91,392.31 542.91,393.77 543.9,393.77 543.9,394.93 545.1,394.93 545.1,396.35" stroke="#f850dc" stroke-width="1.05" fill="none" stroke-linejoin="round"/>
<polyline points="427.2,314.6 429.01,314.6 429.01,314.68 430.05,314.68 430.05,314.72 431.33,314.72 431.33,314.77 432.54,314.77 432.54,314.82 434.12,314.82 434.12,314.89 435.76,314.89 435.76,314.96 437.71,314.96 437.71,315.04 439.03,315.04 439.03,315.09 440.71,315.09 440.71,315.16 442.26,315.16 442.26,315.23 444.26,315.23 444.26,315.31 445.83,315.31 445.83,315.38 447.14,315.38 447.14,315.43 448.16,315.43 448.16,315.47 450.12,315.47 450.12,315.56 450.78,315.56 450.78,315.58 468,316.09 469.53,316.09 469.53,316.24 470.89,316.24 470.89,316.38 472.05,316.38 472.05,316.5 473.89,316.5 473.89,316.68 474.9,316.68 474.9,316.78 476.75,316.78 476.75,316.97 478.72,316.97 478.72,317.16 479.92,317.16 479.92,317.28 481.8,317.28 481.8,317.47 482.55,317.47 482.55,317.55 483.99,317.55 483.99,317.73 485.88,317.73 485.88,317.98 487.4,317.98 487.4,318.18 489.23,318.18 489.23,318.41 491.07,318.41 491.07,318.65 492.37,318.65 492.37,318.82 493.95,318.82 493.95,319.03 495.55,319.03 495.55,319.24 496.67,319.24 496.67,319.38 497.09,319.38 497.09,319.44 498.39,319.44 498.39,319.81 500.09,319.81 500.09,320.29 501.73,320.29 501.73,320.75 502.8,320.75 502.8,321.05 504.06,321.05 504.06,321.41 505.82,321.41 505.82,321.91 506.87,321.91 506.87,322.33 508.28,322.33 508.28,322.89 510.03,322.89 510.03,323.59 511.09,323.59 511.09,324.02 512.12,324.02 512.12,324.43 513.07,324.43 513.07,324.81 513.09,324.81 513.09,324.82 513.86,324.82 513.86,325.5 514.85,325.5 514.85,326.36 515.89,326.36 515.89,327.27 516.83,327.27 516.83,328.09 518.24,328.09 518.24,329.33 518.91,329.33 518.91,329.91 520.07,329.91 520.07,331.3 520.8,331.3 520.8,332.18 522.06,332.18 522.06,333.69 522.55,333.69 522.55,334.27 523.09,334.27 523.09,335.72 523.66,335.72 523.66,337.24 524.06,337.24 524.06,338.3 524.61,338.3 524.61,339.77 524.73,339.77 524.73,340.09 525.07,340.09 525.07,341.45 525.49,341.45 525.49,343.14 525.83,343.14 525.83,344.51 526.16,344.51 526.16,345.82 526.53,345.82 526.53,347.3 526.84,347.3 526.84,348.53 526.91,348.53 526.91,348.82 527.24,348.82 527.24,350.69 527.53,350.69 527.53,352.36 527.64,352.36 527.64,353 527.96,353 527.96,354.28 528.33,354.28 528.33,355.77 528.66,355.77 528.66,357.09 529.08,357.09 529.08,358.77 529.54,358.77 529.54,360.61 529.82,360.61 529.82,361.73 530.22,361.73 530.22,363.34 530.55,363.34 530.55,364.66 530.84,364.66 530.84,365.82 531.18,365.82 531.18,367.16 531.46,367.16 531.46,368.29 531.91,368.29 531.91,370.09 532,370.09 532,370.45 532.27,370.45 532.27,371.8 532.66,371.8 532.66,373.74 533.04,373.74 533.04,375.63 533.24,375.63 533.24,376.64 533.45,376.64 533.45,377.73 533.55,377.73 533.55,378.85 533.67,378.85 533.67,380.34 533.83,380.34 533.83,382.21 533.97,382.21 533.97,383.96 534.12,383.96 534.12,385.77 534.18,385.77 534.18,386.45 534.62,395.18 536.32,395.18 536.32,395.37 537.32,395.37 537.32,395.48 538.91,395.48 538.91,395.66 540.65,395.66 540.65,395.85 542.4,395.85 542.4,396.05 543.65,396.05 543.65,396.18 545.02,396.18 545.02,396.34 545.1,396.34 545.1,396.35" stroke="#dcd232" stroke-width="1.05" fill="none" stroke-linejoin="round"/>
<polyline points="427.2,314.6 428.5,314.6 428.5,314.69 430.13,314.69 430.13,314.8 431.28,314.8 431.28,314.88 432.89,314.88 432.89,315 434.14,315 434.14,315.08 435.79,315.08 435.79,315.2 437.59,315.2 437.59,315.32 439.08,315.32 439.08,315.43 440.74,315.43 440.74,315.54 442.15,315.54 442.15,315.64 443.16,315.64 443.16,315.71 444.18,315.71 444.18,315.78 445.58,315.78 445.58,315.88 447.17,315.88 447.17,315.99 449.07,315.99 449.07,316.12 450.78,316.12 450.78,316.24 452.51,316.24 452.51,316.33 454.04,316.33 454.04,316.4 455.97,316.4 455.97,316.5 457.35,316.5 457.35,316.57 458.67,316.57 458.67,316.64 459.95,316.64 459.95,316.7 461.92,316.7 461.92,316.8 462.99,316.8 462.99,316.86 464.55,316.86 464.55,316.93 466.31,316.93 466.31,317.02 467.33,317.02 467.33,317.08 468,317.08 468,317.11 469.95,317.11 469.95,317.4 471.86,317.4 471.86,317.69 473.71,317.69 473.71,317.97 475.01,317.97 475.01,318.16 476.85,318.16 476.85,318.44 478.59,318.44 478.59,318.7 480.44,318.7 480.44,318.98 482.04,318.98 482.04,319.21 482.55,319.21 482.55,319.29 483.8,319.29 483.8,319.62 485.7,319.62 485.7,320.12 486.89,320.12 486.89,320.43 488.47,320.43 488.47,320.85 489.45,320.85 489.45,321.1 490.65,321.1 490.65,321.42 491.91,321.42 491.91,321.75 493.13,321.75 493.13,322.07 494.18,322.07 494.18,322.35 495.51,322.35 495.51,322.88 496.47,322.88 496.47,323.26 497.46,323.26 497.46,323.66 499.15,323.66 499.15,324.33 500.78,324.33 500.78,324.98 501.45,324.98 501.45,325.25 502.59,325.25 502.59,325.94 503.91,325.94 503.91,326.73 505.55,326.73 505.55,327.71 506.79,327.71 506.79,328.46 507.27,328.46 507.27,328.75 508.07,328.75 508.07,329.49 509.17,329.49 509.17,330.51 510.49,330.51 510.49,331.75 511.64,331.75 511.64,332.82 512.39,332.82 512.39,334.18 513.13,334.18 513.13,335.53 513.82,335.53 513.82,336.79 514.59,336.79 514.59,338.2 514.84,338.2 514.84,338.64 515.52,338.64 515.52,340 516.34,340 516.34,341.65 516.93,341.65 516.93,342.83 517.54,342.83 517.54,344.04 517.75,344.04 517.75,344.45 517.95,344.45 517.95,345.5 518.21,345.5 518.21,346.78 518.53,346.78 518.53,348.4 518.74,348.4 518.74,349.44 518.91,349.44 518.91,350.27 519.35,350.27 519.35,351.91 519.64,351.91 519.64,353 520.23,353 520.23,354.47 520.62,354.47 520.62,355.46 521.34,355.46 521.34,357.27 522.04,357.27 522.04,359.02 522.45,359.02 522.45,360.03 522.55,360.03 522.55,360.27 522.95,360.27 522.95,361.34 523.59,361.34 523.59,363.05 524.13,363.05 524.13,364.49 524.73,364.49 524.73,366.09 545.1,396.35" stroke="#e05a5a" stroke-width="1.05" fill="none" stroke-linejoin="round"/>
<polyline points="427.2,314.6 428.78,314.6 428.78,314.7 430.71,314.7 430.71,314.82 431.72,314.82 431.72,314.88 433.08,314.88 433.08,314.97 434.73,314.97 434.73,315.07 436.42,315.07 436.42,315.18 437.95,315.18 437.95,315.27 439.58,315.27 439.58,315.37 441.54,315.37 441.54,315.5 443.33,315.5 443.33,315.61 444.96,315.61 444.96,315.71 446.2,315.71 446.2,315.79 448.03,315.79 448.03,315.9 449.25,315.9 449.25,315.98 450.78,315.98 450.78,316.07 452.35,316.07 452.35,316.14 454.31,316.14 454.31,316.23 456.18,316.23 456.18,316.31 458.03,316.31 458.03,316.39 459.61,316.39 459.61,316.46 460.97,316.46 460.97,316.51 462.6,316.51 462.6,316.58 464.41,316.58 464.41,316.66 465.78,316.66 465.78,316.72 467.21,316.72 467.21,316.78 468,316.78 468,316.82 469.91,316.82 469.91,317.1 471.62,317.1 471.62,317.36 473,317.36 473,317.57 474.24,317.57 474.24,317.75 475.7,317.75 475.7,317.97 477.44,317.97 477.44,318.23 479.36,318.23 479.36,318.52 480.42,318.52 480.42,318.68 481.86,318.68 481.86,318.9 482.55,318.9 482.55,319 484.19,319 484.19,319.41 485.98,319.41 485.98,319.86 487.1,319.86 487.1,320.14 488.87,320.14 488.87,320.58 490.52,320.58 490.52,320.99 491.6,320.99 491.6,321.26 492.76,321.26 492.76,321.55 493.87,321.55 493.87,321.83 494.18,321.83 494.18,321.91 495.87,321.91 495.87,322.61 496.92,322.61 496.92,323.05 498.36,323.05 498.36,323.65 500.03,323.65 500.03,324.35 501.86,324.35 501.86,325.11 502.88,325.11 502.88,325.53 502.91,325.53 502.91,325.55 504.1,325.55 504.1,326.26 505.58,326.26 505.58,327.15 506.8,327.15 506.8,327.88 508,327.88 508,328.6 509.65,328.6 509.65,329.59 510.18,329.59 510.18,329.91 511.47,329.91 511.47,331.41 512.62,331.41 512.62,332.75 513.88,332.75 513.88,334.23 514.55,334.23 514.55,335 515.47,335 515.47,335.93 516.3,335.93 516.3,336.75 517.07,336.75 517.07,337.52 518.17,337.52 518.17,338.63 518.91,338.63 518.91,339.36 519.65,339.36 519.65,340.26 520.38,340.26 520.38,341.13 521.09,341.13 521.09,341.99 522.14,341.99 522.14,343.24 522.55,343.24 522.55,343.73 522.84,343.73 522.84,344.75 523.36,344.75 523.36,346.57 523.88,346.57 523.88,348.4 524,348.4 524,348.82 524.7,348.82 524.7,350.36 525.3,350.36 525.3,351.69 525.89,351.69 525.89,353 526.32,353 526.32,354.18 526.99,354.18 526.99,356 527.58,356 527.58,357.6 528.25,357.6 528.25,359.43 528.89,359.43 528.89,361.18 529.09,361.18 529.09,361.73 529.66,361.73 529.66,363.53 530.14,363.53 530.14,365.06 530.59,365.06 530.59,366.5 530.94,366.5 530.94,367.61 531.32,367.61 531.32,368.82 531.64,368.82 531.64,369.84 532.06,369.84 532.06,371.19 532.29,371.19 532.29,371.91 532.88,371.91 532.88,373.81 533.38,373.81 533.38,375.44 533.8,375.44 533.8,376.81 534.33,376.81 534.33,378.55 534.67,378.55 534.67,379.64 535.2,379.64 535.2,381.36 535.62,381.36 535.62,382.37 536.3,382.37 536.3,384.01 536.8,384.01 536.8,385.18 537.33,385.18 537.33,386.46 537.9,386.46 537.9,387.82 538.47,387.82 538.47,389.18 538.55,389.18 538.55,389.36 539.26,389.36 539.26,390.13 540.34,390.13 540.34,391.28 541.13,391.28 541.13,392.12 542.25,392.12 542.25,393.3 543.48,393.3 543.48,394.62 544.51,394.62 544.51,395.72 545.1,395.72 545.1,396.35" stroke="#ffa826" stroke-width="1.05" fill="none" stroke-linejoin="round"/>
<polyline points="427.2,314.6 428.4,314.6 428.4,314.68 430.12,314.68 430.12,314.8 431.34,314.8 431.34,314.89 433.32,314.89 433.32,315.03 435.02,315.03 435.02,315.14 436.52,315.14 436.52,315.25 437.89,315.25 437.89,315.34 439.32,315.34 439.32,315.44 440.78,315.44 440.78,315.54 441.89,315.54 441.89,315.62 443.05,315.62 443.05,315.7 444.6,315.7 444.6,315.81 446.1,315.81 446.1,315.91 447.73,315.91 447.73,316.03 448.97,316.03 448.97,316.11 450.67,316.11 450.67,316.23 450.78,316.23 450.78,316.24 451.89,316.24 451.89,316.29 452.94,316.29 452.94,316.35 454.91,316.35 454.91,316.45 456.63,316.45 456.63,316.53 457.68,316.53 457.68,316.59 458.72,316.59 458.72,316.64 460.37,316.64 460.37,316.72 461.91,316.72 461.91,316.8 463.29,316.8 463.29,316.87 464.77,316.87 464.77,316.95 465.92,316.95 465.92,317 467.83,317 467.83,317.1 468,317.1 468,317.11 469.82,317.11 469.82,317.4 471.17,317.4 471.17,317.62 473.06,317.62 473.06,317.92 474.58,317.92 474.58,318.16 476.42,318.16 476.42,318.46 478.21,318.46 478.21,318.74 480.13,318.74 480.13,319.05 481.45,319.05 481.45,319.26 482.55,319.26 482.55,319.44 483.71,319.44 483.71,319.76 485.59,319.76 485.59,320.27 487.38,320.27 487.38,320.77 488.36,320.77 488.36,321.04 490.13,321.04 490.13,321.52 491.34,321.52 491.34,321.86 492.75,321.86 492.75,322.24 494,322.24 494,322.59 494.18,322.59 494.18,322.64 495.24,322.64 495.24,323.06 496.3,323.06 496.3,323.48 497.61,323.48 497.61,324.01 498.68,324.01 498.68,324.44 499.73,324.44 499.73,324.85 500.81,324.85 500.81,325.29 501.45,325.29 501.45,325.55 502.97,325.55 502.97,326.49 504.36,326.49 504.36,327.36 505.43,327.36 505.43,328.03 506.7,328.03 506.7,328.82 507.27,328.82 507.27,329.18 508.71,329.18 508.71,330.38 509.73,330.38 509.73,331.23 511.21,331.23 511.21,332.46 511.64,332.46 511.64,332.82 512.5,332.82 512.5,334.55 513,334.55 513,335.54 513.84,335.54 513.84,337.23 514.33,337.23 514.33,338.21 514.55,338.21 514.55,338.64 515.23,338.64 515.23,340 515.86,340 515.86,341.26 516.31,341.26 516.31,342.17 517.14,342.17 517.14,343.82 517.45,343.82 517.45,344.45 517.9,344.45 517.9,345.95 518.22,345.95 518.22,346.99 518.64,346.99 518.64,348.39 519.16,348.39 519.16,350.13 519.64,350.13 519.64,351.73 520.52,351.73 520.52,352.5 521.09,352.5 521.09,353 521.48,353 521.48,354.17 521.83,354.17 521.83,355.21 522.24,355.21 522.24,356.43 522.69,356.43 522.69,357.79 523.06,357.79 523.06,358.91 523.38,358.91 523.38,359.86 523.7,359.86 523.7,360.84 524,360.84 524,361.73 524.54,361.73 524.54,363.51 524.9,363.51 524.9,364.73 525.4,364.73 525.4,366.38 525.76,366.38 525.76,367.59 526.18,367.59 526.18,369 526.61,369 526.61,370.72 526.91,370.72 526.91,371.9 527.23,371.9 527.23,373.21 527.64,373.21 527.64,374.82 528.02,374.82 528.02,376.71 528.36,376.71 528.36,378.46 528.7,378.46 528.7,380.11 529.01,380.11 529.01,381.68 529.09,381.68 529.09,382.09 530.08,382.09 530.08,383.57 530.67,383.57 530.67,384.46 531.74,384.46 531.74,386.07 532,386.07 532,386.45 532.89,386.45 532.89,387.35 533.71,387.35 533.71,388.17 534.69,388.17 534.69,389.15 535.44,389.15 535.44,389.89 536.36,389.89 536.36,390.82 537.18,390.82 537.18,392.04 537.94,392.04 537.94,393.18 539,393.18 539,394.77 539.27,394.77 539.27,395.18 540.4,395.18 540.4,395.41 541.9,395.41 541.9,395.71 543.02,395.71 543.02,395.93 544.63,395.93 544.63,396.25 545.1,396.25 545.1,396.35" stroke="#c03cb8" stroke-width="1.05" fill="none" stroke-linejoin="round"/>
</g>
<path d="M427.2 314.6V396.5M545.1 314.6V396.5" fill="none" stroke="#c4c4c4" stroke-width="1.1" stroke-linecap="square"/>
<path d="M427.2 314.6H545.1M427.2 396.5H545.1" fill="none" stroke="#bebebe" stroke-width="0.75" stroke-linecap="square"/>
<text x="427.2" y="401" text-anchor="middle" class="t">0.0</text>
<text x="425.4" y="398.1" text-anchor="end" class="t">0.0</text>
<text x="450.78" y="401" text-anchor="middle" class="t">0.2</text>
<text x="425.4" y="381.72" text-anchor="end" class="t">0.2</text>
<text x="474.36" y="401" text-anchor="middle" class="t">0.4</text>
<text x="425.4" y="365.34" text-anchor="end" class="t">0.4</text>
<text x="497.94" y="401" text-anchor="middle" class="t">0.6</text>
<text x="425.4" y="348.96" text-anchor="end" class="t">0.6</text>
<text x="521.52" y="401" text-anchor="middle" class="t">0.8</text>
<text x="425.4" y="332.58" text-anchor="end" class="t">0.8</text>
<text x="545.1" y="401" text-anchor="middle" class="t">1.0</text>
<text x="425.4" y="316.2" text-anchor="end" class="t">1.0</text>
<text x="486.15" y="312.9" text-anchor="middle" class="b">People</text>
<text x="486.15" y="406.7" text-anchor="middle" class="b">Recall</text>
<text transform="translate(418.9 355.55) rotate(-90)" text-anchor="middle" class="b p">Precision</text>
</g>
<line x1="73.5" y1="422.2" x2="86.6" y2="422.2" stroke="#ff4545" stroke-width="0.9"/>
<text x="91.0" y="424" class="l" textLength="13.3" lengthAdjust="spacingAndGlyphs">Ours</text>
<line x1="113" y1="422.2" x2="126.1" y2="422.2" stroke="#21b55c" stroke-width="0.9"/>
<text x="130.3" y="424" class="l" textLength="25.3" lengthAdjust="spacingAndGlyphs">MBLLEN</text>
<line x1="159.3" y1="422.2" x2="172.4" y2="422.2" stroke="#4c4cf5" stroke-width="0.9"/>
<text x="176.6" y="424" class="l" textLength="26.6" lengthAdjust="spacingAndGlyphs">Zero-DCE</text>
<line x1="205.6" y1="422.2" x2="218.4" y2="422.2" stroke="#1fd2dc" stroke-width="0.9"/>
<text x="223" y="424" class="l" textLength="23.4" lengthAdjust="spacingAndGlyphs">YOLOv5</text>
<line x1="251.2" y1="422.2" x2="263.8" y2="422.2" stroke="#f850dc" stroke-width="0.9"/>
<text x="268.2" y="424" class="l" textLength="23.8" lengthAdjust="spacingAndGlyphs">YOLOv6</text>
<line x1="297" y1="422.2" x2="309.5" y2="422.2" stroke="#dcd232" stroke-width="0.9"/>
<text x="314.5" y="424" class="l" textLength="23.3" lengthAdjust="spacingAndGlyphs">YOLOv7</text>
<line x1="343.3" y1="422.2" x2="355.7" y2="422.2" stroke="#e05a5a" stroke-width="0.9"/>
<text x="360.7" y="424" class="l" textLength="23.6" lengthAdjust="spacingAndGlyphs">YOLOv8</text>
<line x1="388.4" y1="422.2" x2="401.8" y2="422.2" stroke="#ffa826" stroke-width="0.9"/>
<text x="406.6" y="424" class="l" textLength="23.6" lengthAdjust="spacingAndGlyphs">YOLOv9</text>
<line x1="434.5" y1="422.2" x2="447.2" y2="422.2" stroke="#c03cb8" stroke-width="0.9"/>
<text x="452" y="424" class="l" textLength="26.6" lengthAdjust="spacingAndGlyphs">YOLOv10</text>
</svg>
</body></html>
